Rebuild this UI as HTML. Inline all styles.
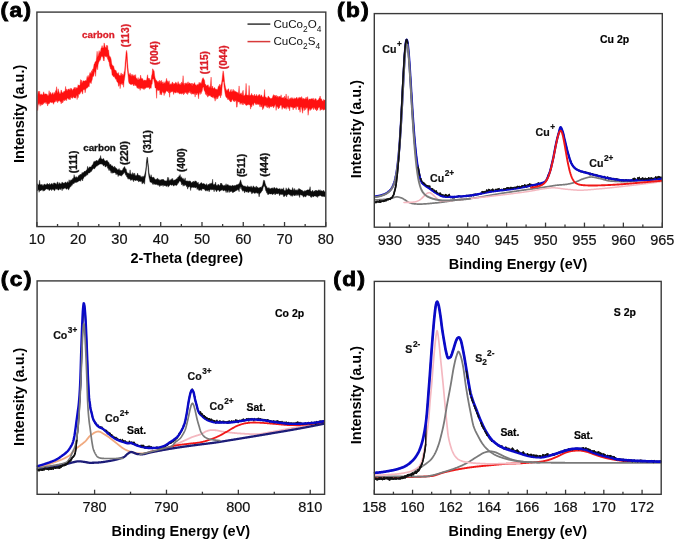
<!DOCTYPE html>
<html><head><meta charset="utf-8"><style>
html,body{margin:0;padding:0;background:#fff;}
svg{display:block;}
text{font-family:"Liberation Sans", Arial, sans-serif;}
</style></head><body>
<svg width="675" height="541" viewBox="0 0 675 541">
<rect width="675" height="541" fill="#fff"/>
<path d="M37.60,95.74 L38.10,91.15 L38.60,91.53 L39.10,94.72 L39.60,91.10 L40.10,94.75 L40.60,94.47 L41.10,94.14 L41.60,94.19 L42.10,94.63 L42.60,94.97 L43.10,93.95 L43.60,91.80 L44.10,93.21 L44.60,94.76 L45.10,93.75 L45.60,94.09 L46.10,94.02 L46.60,94.13 L47.10,94.23 L47.60,95.42 L48.10,95.77 L48.60,94.93 L49.10,90.71 L49.60,94.91 L50.10,92.66 L50.60,92.34 L51.10,94.95 L51.60,93.92 L52.10,93.54 L52.60,92.60 L53.10,94.30 L53.60,94.42 L54.10,92.29 L54.60,93.71 L55.10,93.15 L55.60,90.70 L56.10,91.12 L56.60,86.71 L57.10,92.56 L57.60,92.78 L58.10,88.74 L58.60,91.03 L59.10,91.94 L59.60,93.68 L60.10,93.39 L60.60,93.14 L61.10,89.92 L61.60,91.03 L62.10,92.59 L62.60,92.79 L63.10,93.06 L63.60,91.54 L64.10,92.02 L64.60,91.12 L65.10,91.11 L65.60,86.42 L66.10,91.28 L66.60,88.93 L67.10,91.01 L67.60,90.12 L68.10,88.99 L68.60,89.48 L69.10,88.65 L69.60,90.01 L70.10,90.21 L70.60,88.36 L71.10,88.62 L71.60,88.61 L72.10,90.09 L72.60,90.38 L73.10,88.91 L73.60,89.30 L74.10,87.24 L74.60,87.78 L75.10,89.42 L75.60,87.45 L76.10,87.22 L76.60,88.29 L77.10,88.18 L77.60,87.42 L78.10,84.65 L78.60,85.55 L79.10,84.97 L79.60,86.12 L80.10,84.51 L80.60,79.46 L81.10,83.65 L81.60,80.00 L82.10,82.49 L82.60,82.13 L83.10,80.63 L83.60,80.90 L84.10,80.72 L84.60,81.21 L85.10,80.69 L85.60,80.38 L86.10,81.16 L86.60,79.57 L87.10,76.44 L87.60,78.70 L88.10,75.32 L88.60,77.98 L89.10,76.77 L89.60,74.03 L90.10,72.35 L90.60,73.49 L91.10,73.66 L91.60,70.64 L92.10,72.07 L92.60,69.24 L93.10,69.37 L93.60,67.22 L94.10,64.08 L94.60,63.86 L95.10,61.79 L95.60,61.65 L96.10,60.77 L96.60,57.59 L97.10,51.33 L97.60,57.40 L98.10,56.03 L98.60,54.05 L99.10,50.60 L99.60,53.54 L100.10,52.01 L100.60,51.01 L101.10,48.15 L101.60,47.69 L102.10,45.60 L102.60,47.93 L103.10,47.84 L103.60,47.81 L104.10,42.91 L104.60,44.55 L105.10,46.68 L105.60,47.21 L106.10,48.15 L106.60,45.19 L107.10,45.95 L107.60,45.55 L108.10,51.49 L108.60,49.82 L109.10,55.03 L109.60,56.58 L110.10,56.50 L110.60,57.44 L111.10,59.30 L111.60,63.02 L112.10,65.10 L112.60,65.20 L113.10,66.19 L113.60,65.89 L114.10,68.15 L114.60,69.93 L115.10,69.94 L115.60,70.39 L116.10,70.58 L116.60,72.69 L117.10,72.71 L117.60,73.41 L118.10,74.40 L118.60,72.52 L119.10,76.04 L119.60,75.17 L120.10,76.18 L120.60,74.85 L121.10,72.85 L121.60,74.45 L122.10,76.09 L122.60,74.04 L123.10,74.31 L123.60,75.99 L124.10,71.97 L124.60,70.94 L125.10,64.17 L125.60,58.85 L126.10,52.19 L126.60,50.38 L127.10,53.24 L127.60,62.97 L128.10,68.33 L128.60,73.62 L129.10,75.03 L129.60,74.56 L130.10,72.86 L130.60,76.26 L131.10,74.14 L131.60,76.17 L132.10,76.28 L132.60,74.42 L133.10,75.55 L133.60,76.21 L134.10,74.72 L134.60,75.64 L135.10,77.22 L135.60,74.57 L136.10,78.49 L136.60,77.88 L137.10,79.29 L137.60,79.80 L138.10,77.55 L138.60,80.21 L139.10,79.40 L139.60,78.73 L140.10,79.12 L140.60,75.12 L141.10,77.57 L141.60,78.74 L142.10,78.76 L142.60,78.51 L143.10,80.22 L143.60,80.99 L144.10,79.82 L144.60,80.44 L145.10,80.10 L145.60,80.39 L146.10,80.23 L146.60,80.32 L147.10,77.05 L147.60,74.76 L148.10,79.07 L148.60,78.07 L149.10,80.13 L149.60,78.27 L150.10,80.51 L150.60,80.00 L151.10,79.57 L151.60,75.63 L152.10,74.08 L152.60,68.85 L153.10,69.27 L153.60,70.73 L154.10,70.65 L154.60,75.24 L155.10,77.90 L155.60,79.32 L156.10,80.40 L156.60,80.32 L157.10,81.87 L157.60,81.45 L158.10,83.07 L158.60,81.27 L159.10,81.46 L159.60,80.15 L160.10,83.79 L160.60,80.82 L161.10,82.79 L161.60,80.29 L162.10,84.23 L162.60,82.17 L163.10,81.66 L163.60,84.35 L164.10,82.75 L164.60,83.47 L165.10,81.47 L165.60,83.99 L166.10,80.16 L166.60,78.37 L167.10,82.80 L167.60,80.69 L168.10,81.39 L168.60,82.91 L169.10,80.69 L169.60,84.25 L170.10,84.78 L170.60,83.66 L171.10,84.14 L171.60,84.14 L172.10,82.29 L172.60,82.06 L173.10,84.84 L173.60,83.43 L174.10,83.37 L174.60,84.01 L175.10,83.52 L175.60,82.16 L176.10,82.51 L176.60,82.94 L177.10,85.06 L177.60,83.51 L178.10,81.59 L178.60,83.58 L179.10,84.17 L179.60,84.43 L180.10,83.21 L180.60,84.90 L181.10,84.60 L181.60,81.95 L182.10,83.58 L182.60,82.33 L183.10,75.70 L183.60,84.87 L184.10,82.91 L184.60,85.38 L185.10,84.31 L185.60,83.06 L186.10,82.66 L186.60,83.43 L187.10,84.40 L187.60,82.85 L188.10,81.73 L188.60,84.33 L189.10,83.32 L189.60,82.85 L190.10,83.80 L190.60,84.03 L191.10,83.00 L191.60,83.63 L192.10,86.32 L192.60,83.32 L193.10,84.03 L193.60,84.16 L194.10,83.45 L194.60,82.57 L195.10,84.48 L195.60,85.08 L196.10,84.55 L196.60,86.34 L197.10,84.96 L197.60,84.67 L198.10,83.79 L198.60,85.50 L199.10,82.28 L199.60,84.25 L200.10,82.43 L200.60,83.19 L201.10,83.70 L201.60,82.11 L202.10,79.70 L202.60,78.41 L203.10,77.66 L203.60,78.83 L204.10,79.62 L204.60,80.57 L205.10,84.74 L205.60,84.06 L206.10,86.07 L206.60,85.69 L207.10,85.85 L207.60,85.01 L208.10,84.71 L208.60,86.50 L209.10,88.31 L209.60,86.50 L210.10,87.71 L210.60,83.40 L211.10,77.12 L211.60,88.38 L212.10,87.47 L212.60,85.96 L213.10,89.03 L213.60,88.36 L214.10,88.00 L214.60,87.42 L215.10,88.66 L215.60,88.92 L216.10,89.79 L216.60,89.08 L217.10,89.46 L217.60,89.51 L218.10,87.17 L218.60,85.92 L219.10,85.91 L219.60,84.20 L220.10,87.84 L220.60,85.08 L221.10,84.41 L221.60,82.86 L222.10,79.27 L222.60,74.40 L223.10,70.83 L223.60,72.76 L224.10,77.00 L224.60,82.75 L225.10,85.35 L225.60,88.00 L226.10,89.35 L226.60,90.45 L227.10,90.81 L227.60,89.71 L228.10,89.10 L228.60,88.66 L229.10,91.37 L229.60,92.23 L230.10,91.72 L230.60,90.36 L231.10,89.28 L231.60,92.24 L232.10,91.60 L232.60,91.27 L233.10,89.23 L233.60,90.76 L234.10,91.66 L234.60,90.47 L235.10,92.31 L235.60,91.27 L236.10,92.29 L236.60,91.91 L237.10,92.31 L237.60,92.59 L238.10,93.71 L238.60,92.09 L239.10,85.92 L239.60,94.79 L240.10,93.50 L240.60,94.28 L241.10,92.69 L241.60,94.25 L242.10,95.53 L242.60,91.98 L243.10,90.28 L243.60,95.39 L244.10,95.54 L244.60,95.63 L245.10,94.86 L245.60,92.84 L246.10,83.42 L246.60,94.77 L247.10,95.28 L247.60,95.13 L248.10,94.89 L248.60,95.80 L249.10,85.46 L249.60,95.18 L250.10,95.47 L250.60,95.33 L251.10,95.32 L251.60,93.33 L252.10,94.76 L252.60,95.47 L253.10,95.01 L253.60,96.15 L254.10,96.07 L254.60,94.06 L255.10,96.00 L255.60,96.02 L256.10,95.70 L256.60,94.31 L257.10,96.86 L257.60,95.83 L258.10,95.47 L258.60,95.61 L259.10,94.24 L259.60,94.63 L260.10,95.89 L260.60,96.81 L261.10,94.75 L261.60,95.32 L262.10,96.48 L262.60,96.89 L263.10,97.62 L263.60,96.82 L264.10,94.98 L264.60,89.52 L265.10,97.80 L265.60,96.86 L266.10,96.99 L266.60,98.44 L267.10,97.69 L267.60,98.49 L268.10,96.04 L268.60,96.30 L269.10,97.73 L269.60,97.42 L270.10,98.30 L270.60,99.02 L271.10,97.96 L271.60,99.07 L272.10,98.19 L272.60,96.89 L273.10,95.50 L273.60,94.60 L274.10,97.11 L274.60,95.09 L275.10,95.88 L275.60,96.28 L276.10,95.00 L276.60,96.81 L277.10,97.49 L277.60,95.99 L278.10,96.23 L278.60,97.96 L279.10,96.21 L279.60,96.73 L280.10,96.22 L280.60,97.57 L281.10,94.80 L281.60,98.20 L282.10,97.52 L282.60,97.93 L283.10,98.11 L283.60,97.36 L284.10,99.16 L284.60,95.96 L285.10,98.04 L285.60,97.98 L286.10,93.95 L286.60,98.52 L287.10,98.94 L287.60,99.62 L288.10,95.76 L288.60,100.01 L289.10,99.71 L289.60,98.59 L290.10,99.62 L290.60,97.76 L291.10,99.61 L291.60,97.78 L292.10,97.47 L292.60,98.60 L293.10,99.20 L293.60,99.12 L294.10,97.65 L294.60,99.01 L295.10,98.79 L295.60,98.41 L296.10,97.81 L296.60,97.48 L297.10,97.44 L297.60,99.26 L298.10,98.96 L298.60,97.60 L299.10,98.21 L299.60,97.22 L300.10,97.61 L300.60,97.61 L301.10,98.69 L301.60,96.59 L302.10,97.74 L302.60,99.69 L303.10,98.05 L303.60,98.90 L304.10,99.24 L304.60,99.02 L305.10,98.38 L305.60,99.34 L306.10,96.99 L306.60,99.27 L307.10,98.78 L307.60,96.62 L308.10,99.42 L308.60,100.52 L309.10,98.80 L309.60,99.30 L310.10,99.19 L310.60,99.16 L311.10,98.59 L311.60,99.01 L312.10,98.77 L312.60,99.60 L313.10,97.93 L313.60,100.05 L314.10,99.48 L314.60,100.47 L315.10,98.39 L315.60,99.05 L316.10,98.84 L316.60,101.30 L317.10,99.91 L317.60,101.02 L318.10,99.62 L318.60,99.98 L319.10,98.08 L319.60,98.17 L320.10,95.99 L320.60,98.86 L321.10,98.68 L321.60,98.97 L322.10,101.02 L322.60,100.84 L323.10,101.47 L323.60,99.55 L324.10,100.07 L324.60,100.14 L325.10,99.92 L325.10,109.83 L324.60,109.59 L324.10,109.46 L323.60,109.86 L323.10,110.27 L322.60,108.82 L322.10,109.11 L321.60,109.97 L321.10,108.14 L320.60,109.88 L320.10,110.60 L319.60,106.87 L319.10,107.48 L318.60,107.54 L318.10,108.24 L317.60,110.19 L317.10,109.23 L316.60,111.05 L316.10,108.09 L315.60,109.86 L315.10,109.01 L314.60,107.24 L314.10,108.60 L313.60,109.76 L313.10,106.93 L312.60,108.34 L312.10,107.72 L311.60,109.49 L311.10,108.27 L310.60,109.81 L310.10,110.60 L309.60,107.94 L309.10,109.76 L308.60,111.11 L308.10,115.29 L307.60,107.84 L307.10,107.74 L306.60,107.70 L306.10,108.73 L305.60,109.84 L305.10,106.99 L304.60,109.10 L304.10,110.75 L303.60,107.43 L303.10,108.03 L302.60,113.25 L302.10,110.40 L301.60,107.85 L301.10,106.71 L300.60,107.18 L300.10,112.34 L299.60,109.20 L299.10,109.41 L298.60,110.02 L298.10,106.16 L297.60,106.59 L297.10,107.13 L296.60,105.70 L296.10,109.66 L295.60,106.50 L295.10,107.63 L294.60,107.64 L294.10,108.02 L293.60,107.57 L293.10,109.90 L292.60,106.69 L292.10,107.54 L291.60,106.85 L291.10,107.39 L290.60,106.36 L290.10,107.31 L289.60,110.80 L289.10,107.32 L288.60,106.69 L288.10,108.64 L287.60,106.73 L287.10,106.62 L286.60,106.93 L286.10,109.39 L285.60,107.39 L285.10,107.77 L284.60,108.33 L284.10,108.51 L283.60,107.06 L283.10,107.62 L282.60,107.13 L282.10,109.44 L281.60,106.32 L281.10,105.09 L280.60,105.47 L280.10,105.06 L279.60,107.92 L279.10,106.50 L278.60,109.01 L278.10,108.40 L277.60,106.12 L277.10,107.33 L276.60,105.73 L276.10,110.42 L275.60,104.64 L275.10,104.47 L274.60,106.50 L274.10,105.59 L273.60,108.05 L273.10,106.51 L272.60,106.06 L272.10,106.32 L271.60,107.13 L271.10,105.54 L270.60,107.03 L270.10,105.54 L269.60,107.54 L269.10,108.40 L268.60,106.38 L268.10,106.64 L267.60,107.86 L267.10,105.06 L266.60,107.37 L266.10,105.07 L265.60,105.22 L265.10,106.53 L264.60,105.19 L264.10,105.64 L263.60,108.52 L263.10,107.16 L262.60,109.76 L262.10,104.08 L261.60,106.95 L261.10,106.46 L260.60,103.83 L260.10,107.13 L259.60,105.38 L259.10,103.79 L258.60,104.05 L258.10,104.78 L257.60,103.47 L257.10,104.42 L256.60,103.25 L256.10,104.90 L255.60,103.85 L255.10,103.53 L254.60,102.79 L254.10,102.71 L253.60,105.60 L253.10,104.69 L252.60,103.42 L252.10,105.67 L251.60,107.17 L251.10,104.64 L250.60,109.15 L250.10,105.16 L249.60,104.81 L249.10,104.74 L248.60,104.11 L248.10,105.14 L247.60,104.87 L247.10,104.81 L246.60,105.53 L246.10,105.20 L245.60,105.05 L245.10,103.53 L244.60,103.69 L244.10,103.61 L243.60,102.45 L243.10,105.08 L242.60,102.29 L242.10,104.71 L241.60,102.77 L241.10,103.13 L240.60,102.78 L240.10,104.38 L239.60,102.16 L239.10,101.64 L238.60,101.85 L238.10,102.12 L237.60,100.67 L237.10,107.11 L236.60,107.13 L236.10,100.05 L235.60,100.76 L235.10,101.19 L234.60,101.85 L234.10,100.06 L233.60,101.38 L233.10,100.57 L232.60,99.58 L232.10,99.23 L231.60,101.32 L231.10,101.92 L230.60,101.99 L230.10,101.20 L229.60,100.63 L229.10,99.56 L228.60,98.57 L228.10,99.90 L227.60,99.22 L227.10,97.43 L226.60,97.78 L226.10,97.14 L225.60,95.92 L225.10,93.63 L224.60,90.04 L224.10,87.03 L223.60,80.65 L223.10,82.01 L222.60,81.48 L222.10,87.37 L221.60,95.57 L221.10,92.06 L220.60,97.95 L220.10,96.08 L219.60,95.39 L219.10,95.43 L218.60,95.88 L218.10,97.42 L217.60,99.06 L217.10,97.04 L216.60,97.28 L216.10,99.39 L215.60,96.91 L215.10,101.17 L214.60,97.44 L214.10,98.48 L213.60,97.60 L213.10,96.27 L212.60,97.60 L212.10,97.22 L211.60,96.83 L211.10,96.97 L210.60,95.92 L210.10,95.39 L209.60,95.20 L209.10,96.03 L208.60,96.31 L208.10,95.05 L207.60,97.18 L207.10,93.66 L206.60,95.50 L206.10,92.99 L205.60,94.52 L205.10,91.94 L204.60,90.88 L204.10,90.53 L203.60,86.88 L203.10,86.88 L202.60,88.59 L202.10,91.61 L201.60,91.61 L201.10,93.69 L200.60,91.69 L200.10,94.58 L199.60,93.11 L199.10,92.26 L198.60,98.81 L198.10,95.39 L197.60,92.87 L197.10,93.57 L196.60,95.02 L196.10,93.07 L195.60,93.41 L195.10,97.10 L194.60,92.47 L194.10,94.48 L193.60,93.66 L193.10,93.83 L192.60,93.78 L192.10,93.66 L191.60,94.37 L191.10,92.02 L190.60,93.56 L190.10,91.59 L189.60,91.31 L189.10,92.92 L188.60,91.66 L188.10,93.42 L187.60,94.58 L187.10,91.90 L186.60,93.75 L186.10,92.18 L185.60,92.15 L185.10,93.06 L184.60,93.82 L184.10,91.89 L183.60,94.90 L183.10,92.67 L182.60,93.10 L182.10,93.94 L181.60,94.13 L181.10,92.86 L180.60,93.81 L180.10,93.18 L179.60,94.20 L179.10,93.04 L178.60,92.36 L178.10,93.31 L177.60,91.98 L177.10,92.59 L176.60,92.60 L176.10,91.21 L175.60,93.07 L175.10,92.96 L174.60,91.85 L174.10,92.65 L173.60,94.53 L173.10,91.61 L172.60,91.20 L172.10,91.99 L171.60,91.85 L171.10,91.73 L170.60,92.64 L170.10,91.28 L169.60,97.29 L169.10,91.09 L168.60,93.01 L168.10,90.62 L167.60,91.70 L167.10,90.92 L166.60,90.83 L166.10,91.48 L165.60,92.21 L165.10,93.53 L164.60,92.34 L164.10,95.59 L163.60,91.75 L163.10,93.02 L162.60,91.41 L162.10,91.74 L161.60,94.93 L161.10,94.49 L160.60,92.69 L160.10,94.93 L159.60,90.51 L159.10,89.97 L158.60,89.92 L158.10,90.93 L157.60,89.98 L157.10,89.47 L156.60,98.32 L156.10,88.38 L155.60,87.98 L155.10,87.88 L154.60,83.62 L154.10,81.44 L153.60,78.70 L153.10,78.94 L152.60,78.96 L152.10,84.30 L151.60,84.21 L151.10,88.37 L150.60,87.75 L150.10,88.33 L149.60,89.25 L149.10,87.33 L148.60,87.44 L148.10,87.26 L147.60,87.85 L147.10,87.35 L146.60,87.37 L146.10,88.09 L145.60,88.56 L145.10,87.72 L144.60,88.72 L144.10,89.67 L143.60,89.18 L143.10,88.23 L142.60,87.84 L142.10,89.11 L141.60,87.89 L141.10,87.99 L140.60,88.07 L140.10,90.40 L139.60,86.98 L139.10,88.94 L138.60,87.35 L138.10,88.68 L137.60,87.44 L137.10,88.09 L136.60,86.41 L136.10,85.57 L135.60,84.66 L135.10,85.97 L134.60,84.73 L134.10,84.06 L133.60,86.01 L133.10,84.61 L132.60,84.05 L132.10,84.37 L131.60,84.57 L131.10,84.45 L130.60,84.31 L130.10,84.32 L129.60,83.80 L129.10,83.15 L128.60,81.55 L128.10,75.98 L127.60,71.49 L127.10,67.05 L126.60,57.49 L126.10,62.30 L125.60,67.02 L125.10,75.01 L124.60,78.39 L124.10,81.23 L123.60,87.30 L123.10,83.43 L122.60,83.18 L122.10,85.14 L121.60,83.20 L121.10,84.02 L120.60,84.27 L120.10,88.66 L119.60,82.56 L119.10,85.75 L118.60,86.37 L118.10,82.90 L117.60,82.26 L117.10,81.96 L116.60,80.70 L116.10,78.69 L115.60,79.32 L115.10,78.03 L114.60,77.32 L114.10,76.26 L113.60,77.07 L113.10,75.79 L112.60,75.17 L112.10,75.28 L111.60,70.09 L111.10,69.13 L110.60,69.01 L110.10,67.27 L109.60,65.67 L109.10,62.37 L108.60,61.52 L108.10,59.67 L107.60,59.17 L107.10,56.05 L106.60,57.32 L106.10,55.94 L105.60,56.73 L105.10,56.01 L104.60,55.63 L104.10,61.01 L103.60,60.63 L103.10,58.00 L102.60,56.31 L102.10,56.72 L101.60,56.27 L101.10,57.31 L100.60,59.13 L100.10,60.60 L99.60,60.13 L99.10,61.78 L98.60,62.64 L98.10,64.67 L97.60,69.72 L97.10,65.92 L96.60,67.88 L96.10,69.98 L95.60,76.38 L95.10,72.00 L94.60,71.16 L94.10,74.02 L93.60,76.38 L93.10,75.98 L92.60,77.34 L92.10,79.98 L91.60,81.23 L91.10,83.68 L90.60,82.68 L90.10,82.26 L89.60,82.90 L89.10,86.75 L88.60,85.79 L88.10,87.21 L87.60,87.30 L87.10,88.28 L86.60,88.14 L86.10,88.34 L85.60,90.32 L85.10,92.80 L84.60,88.77 L84.10,89.96 L83.60,89.62 L83.10,89.97 L82.60,94.11 L82.10,92.52 L81.60,91.43 L81.10,90.94 L80.60,92.79 L80.10,93.61 L79.60,94.43 L79.10,93.61 L78.60,94.61 L78.10,97.82 L77.60,95.24 L77.10,99.60 L76.60,94.85 L76.10,96.22 L75.60,98.10 L75.10,97.99 L74.60,97.72 L74.10,97.98 L73.60,96.68 L73.10,96.66 L72.60,98.27 L72.10,98.26 L71.60,97.98 L71.10,96.56 L70.60,98.11 L70.10,99.76 L69.60,97.99 L69.10,99.84 L68.60,98.65 L68.10,98.70 L67.60,98.24 L67.10,98.37 L66.60,100.76 L66.10,99.05 L65.60,100.30 L65.10,98.99 L64.60,101.00 L64.10,99.59 L63.60,100.25 L63.10,101.91 L62.60,102.89 L62.10,100.40 L61.60,102.80 L61.10,103.85 L60.60,101.20 L60.10,101.78 L59.60,100.39 L59.10,100.73 L58.60,101.02 L58.10,101.46 L57.60,102.80 L57.10,100.45 L56.60,100.61 L56.10,101.67 L55.60,100.29 L55.10,102.11 L54.60,102.27 L54.10,101.68 L53.60,104.33 L53.10,103.26 L52.60,102.59 L52.10,101.95 L51.60,102.67 L51.10,102.44 L50.60,102.16 L50.10,101.99 L49.60,103.23 L49.10,103.82 L48.60,104.06 L48.10,103.60 L47.60,106.05 L47.10,103.37 L46.60,102.05 L46.10,103.98 L45.60,102.19 L45.10,102.29 L44.60,103.17 L44.10,101.82 L43.60,104.10 L43.10,103.51 L42.60,104.97 L42.10,103.23 L41.60,105.31 L41.10,103.68 L40.60,103.94 L40.10,106.28 L39.60,102.46 L39.10,104.50 L38.60,103.28 L38.10,105.44 L37.60,110.58 Z" fill="#ff1010" stroke="#ff1010" stroke-width="0.4" stroke-linejoin="round"/>
<path d="M37.60,183.73 L38.10,184.97 L38.60,184.76 L39.10,184.26 L39.60,180.22 L40.10,184.89 L40.60,184.63 L41.10,184.11 L41.60,185.20 L42.10,184.38 L42.60,185.39 L43.10,185.63 L43.60,184.85 L44.10,184.18 L44.60,184.25 L45.10,184.22 L45.60,185.05 L46.10,184.76 L46.60,184.51 L47.10,183.35 L47.60,183.80 L48.10,184.83 L48.60,184.05 L49.10,185.08 L49.60,183.22 L50.10,184.37 L50.60,184.78 L51.10,183.93 L51.60,183.39 L52.10,183.51 L52.60,184.28 L53.10,184.73 L53.60,182.97 L54.10,182.78 L54.60,183.18 L55.10,182.93 L55.60,183.64 L56.10,184.14 L56.60,184.34 L57.10,182.23 L57.60,181.88 L58.10,184.36 L58.60,184.28 L59.10,182.39 L59.60,183.59 L60.10,183.20 L60.60,183.95 L61.10,183.89 L61.60,183.23 L62.10,181.93 L62.60,182.98 L63.10,182.72 L63.60,183.37 L64.10,183.26 L64.60,182.90 L65.10,182.36 L65.60,181.86 L66.10,183.30 L66.60,182.77 L67.10,182.50 L67.60,181.59 L68.10,182.76 L68.60,182.52 L69.10,179.69 L69.60,182.38 L70.10,180.15 L70.60,181.40 L71.10,179.62 L71.60,180.31 L72.10,179.74 L72.60,178.59 L73.10,178.34 L73.60,178.18 L74.10,174.65 L74.60,177.09 L75.10,176.90 L75.60,178.17 L76.10,176.51 L76.60,177.34 L77.10,177.61 L77.60,177.53 L78.10,176.57 L78.60,175.74 L79.10,175.12 L79.60,175.87 L80.10,174.09 L80.60,174.63 L81.10,174.32 L81.60,174.19 L82.10,172.52 L82.60,173.48 L83.10,172.14 L83.60,173.03 L84.10,171.86 L84.60,170.99 L85.10,171.58 L85.60,171.03 L86.10,170.58 L86.60,169.86 L87.10,169.50 L87.60,166.35 L88.10,168.61 L88.60,168.23 L89.10,167.42 L89.60,166.83 L90.10,167.08 L90.60,167.02 L91.10,166.85 L91.60,166.14 L92.10,164.93 L92.60,164.97 L93.10,163.72 L93.60,162.34 L94.10,161.36 L94.60,162.27 L95.10,160.83 L95.60,161.62 L96.10,161.14 L96.60,160.02 L97.10,161.31 L97.60,160.70 L98.10,160.71 L98.60,159.86 L99.10,158.75 L99.60,158.34 L100.10,158.77 L100.60,155.52 L101.10,158.36 L101.60,158.75 L102.10,159.53 L102.60,158.92 L103.10,158.86 L103.60,158.44 L104.10,159.79 L104.60,160.79 L105.10,160.68 L105.60,161.18 L106.10,160.46 L106.60,160.80 L107.10,160.37 L107.60,160.89 L108.10,162.43 L108.60,161.90 L109.10,163.11 L109.60,164.38 L110.10,165.07 L110.60,163.96 L111.10,165.39 L111.60,165.72 L112.10,166.08 L112.60,165.70 L113.10,167.00 L113.60,167.00 L114.10,167.81 L114.60,166.09 L115.10,168.35 L115.60,167.34 L116.10,168.76 L116.60,168.16 L117.10,169.47 L117.60,169.63 L118.10,169.93 L118.60,169.17 L119.10,168.53 L119.60,170.30 L120.10,170.19 L120.60,170.14 L121.10,170.61 L121.60,170.57 L122.10,170.33 L122.60,169.99 L123.10,168.43 L123.60,167.84 L124.10,167.22 L124.60,166.49 L125.10,167.87 L125.60,169.16 L126.10,168.69 L126.60,171.21 L127.10,172.60 L127.60,172.89 L128.10,173.39 L128.60,172.90 L129.10,173.81 L129.60,173.63 L130.10,169.87 L130.60,173.91 L131.10,173.59 L131.60,174.48 L132.10,174.67 L132.60,172.52 L133.10,174.43 L133.60,173.40 L134.10,175.56 L134.60,172.95 L135.10,174.57 L135.60,175.69 L136.10,175.71 L136.60,175.61 L137.10,174.57 L137.60,173.07 L138.10,175.16 L138.60,175.11 L139.10,175.81 L139.60,175.45 L140.10,175.32 L140.60,176.61 L141.10,176.97 L141.60,177.14 L142.10,175.90 L142.60,177.27 L143.10,177.23 L143.60,176.28 L144.10,176.28 L144.60,174.75 L145.10,172.94 L145.60,170.82 L146.10,166.00 L146.60,160.07 L147.10,156.96 L147.60,157.88 L148.10,163.37 L148.60,167.72 L149.10,173.01 L149.60,175.07 L150.10,176.66 L150.60,176.98 L151.10,174.65 L151.60,176.85 L152.10,177.16 L152.60,177.51 L153.10,177.41 L153.60,177.10 L154.10,177.68 L154.60,178.63 L155.10,179.47 L155.60,179.39 L156.10,179.41 L156.60,178.89 L157.10,179.31 L157.60,177.96 L158.10,180.32 L158.60,178.95 L159.10,180.38 L159.60,179.71 L160.10,180.00 L160.60,180.22 L161.10,179.35 L161.60,179.75 L162.10,180.19 L162.60,179.03 L163.10,179.60 L163.60,179.43 L164.10,180.29 L164.60,180.69 L165.10,180.96 L165.60,180.94 L166.10,180.44 L166.60,181.15 L167.10,180.76 L167.60,177.23 L168.10,180.93 L168.60,177.45 L169.10,180.76 L169.60,180.51 L170.10,179.48 L170.60,180.26 L171.10,180.25 L171.60,178.68 L172.10,180.12 L172.60,178.29 L173.10,180.07 L173.60,180.40 L174.10,180.33 L174.60,180.06 L175.10,179.79 L175.60,179.82 L176.10,179.22 L176.60,178.60 L177.10,179.24 L177.60,177.52 L178.10,176.94 L178.60,177.14 L179.10,175.67 L179.60,176.24 L180.10,174.45 L180.60,177.14 L181.10,177.38 L181.60,176.66 L182.10,178.92 L182.60,178.51 L183.10,177.91 L183.60,179.72 L184.10,179.16 L184.60,180.54 L185.10,177.84 L185.60,180.68 L186.10,181.22 L186.60,180.84 L187.10,181.20 L187.60,180.66 L188.10,181.38 L188.60,180.93 L189.10,181.58 L189.60,180.85 L190.10,180.88 L190.60,181.32 L191.10,182.83 L191.60,182.72 L192.10,182.15 L192.60,181.72 L193.10,182.43 L193.60,181.00 L194.10,182.11 L194.60,181.68 L195.10,180.71 L195.60,181.34 L196.10,181.02 L196.60,181.90 L197.10,182.68 L197.60,183.33 L198.10,182.12 L198.60,184.40 L199.10,183.81 L199.60,184.58 L200.10,184.07 L200.60,182.98 L201.10,182.83 L201.60,182.61 L202.10,183.69 L202.60,184.11 L203.10,183.34 L203.60,183.77 L204.10,183.77 L204.60,183.88 L205.10,184.40 L205.60,184.96 L206.10,185.18 L206.60,183.59 L207.10,184.78 L207.60,185.99 L208.10,184.29 L208.60,184.59 L209.10,184.65 L209.60,183.52 L210.10,184.32 L210.60,183.43 L211.10,182.91 L211.60,183.51 L212.10,183.86 L212.60,179.20 L213.10,184.05 L213.60,184.53 L214.10,185.19 L214.60,184.11 L215.10,184.02 L215.60,182.08 L216.10,184.72 L216.60,185.54 L217.10,185.54 L217.60,185.17 L218.10,184.15 L218.60,184.62 L219.10,185.48 L219.60,185.47 L220.10,185.23 L220.60,183.12 L221.10,184.18 L221.60,183.04 L222.10,185.13 L222.60,184.70 L223.10,185.82 L223.60,185.70 L224.10,185.25 L224.60,185.42 L225.10,185.80 L225.60,184.98 L226.10,183.67 L226.60,185.76 L227.10,184.87 L227.60,184.82 L228.10,184.49 L228.60,185.60 L229.10,185.71 L229.60,185.84 L230.10,185.34 L230.60,186.10 L231.10,185.92 L231.60,186.24 L232.10,185.31 L232.60,185.32 L233.10,185.89 L233.60,185.77 L234.10,185.40 L234.60,185.52 L235.10,185.76 L235.60,185.61 L236.10,184.83 L236.60,185.29 L237.10,184.28 L237.60,184.92 L238.10,184.55 L238.60,184.08 L239.10,183.80 L239.60,182.74 L240.10,181.30 L240.60,179.75 L241.10,181.84 L241.60,183.44 L242.10,184.70 L242.60,184.96 L243.10,185.84 L243.60,185.98 L244.10,186.61 L244.60,185.77 L245.10,186.76 L245.60,186.16 L246.10,186.62 L246.60,186.90 L247.10,187.27 L247.60,185.48 L248.10,186.64 L248.60,186.81 L249.10,186.72 L249.60,187.08 L250.10,186.60 L250.60,187.39 L251.10,185.83 L251.60,187.37 L252.10,187.27 L252.60,187.91 L253.10,185.75 L253.60,186.22 L254.10,187.24 L254.60,187.59 L255.10,186.61 L255.60,187.78 L256.10,188.08 L256.60,185.95 L257.10,187.93 L257.60,186.97 L258.10,187.58 L258.60,188.37 L259.10,187.80 L259.60,187.75 L260.10,187.20 L260.60,187.10 L261.10,187.80 L261.60,186.91 L262.10,185.67 L262.60,185.43 L263.10,182.48 L263.60,180.23 L264.10,180.52 L264.60,180.60 L265.10,183.22 L265.60,184.59 L266.10,186.45 L266.60,186.23 L267.10,188.00 L267.60,188.15 L268.10,187.55 L268.60,188.60 L269.10,187.64 L269.60,188.77 L270.10,188.63 L270.60,188.67 L271.10,188.38 L271.60,187.86 L272.10,188.56 L272.60,188.02 L273.10,187.53 L273.60,188.94 L274.10,188.11 L274.60,187.32 L275.10,188.60 L275.60,188.84 L276.10,188.20 L276.60,187.63 L277.10,188.79 L277.60,188.46 L278.10,188.92 L278.60,188.93 L279.10,188.73 L279.60,188.85 L280.10,188.48 L280.60,189.73 L281.10,189.39 L281.60,188.63 L282.10,189.32 L282.60,188.81 L283.10,189.98 L283.60,187.70 L284.10,190.44 L284.60,190.52 L285.10,190.58 L285.60,190.44 L286.10,187.79 L286.60,189.64 L287.10,189.18 L287.60,190.05 L288.10,189.01 L288.60,187.63 L289.10,189.04 L289.60,189.20 L290.10,189.98 L290.60,189.94 L291.10,189.69 L291.60,190.27 L292.10,189.71 L292.60,187.56 L293.10,188.74 L293.60,190.33 L294.10,190.54 L294.60,188.43 L295.10,189.64 L295.60,190.17 L296.10,190.20 L296.60,190.17 L297.10,189.56 L297.60,190.44 L298.10,190.19 L298.60,188.69 L299.10,188.54 L299.60,189.07 L300.10,189.47 L300.60,189.53 L301.10,189.78 L301.60,190.36 L302.10,190.01 L302.60,191.13 L303.10,190.86 L303.60,191.72 L304.10,191.49 L304.60,190.64 L305.10,190.46 L305.60,191.18 L306.10,190.41 L306.60,190.54 L307.10,189.76 L307.60,190.04 L308.10,189.83 L308.60,190.11 L309.10,189.62 L309.60,189.24 L310.10,186.67 L310.60,190.70 L311.10,191.15 L311.60,191.44 L312.10,191.21 L312.60,190.07 L313.10,191.60 L313.60,191.91 L314.10,190.66 L314.60,191.07 L315.10,191.62 L315.60,190.02 L316.10,190.85 L316.60,190.26 L317.10,190.76 L317.60,190.98 L318.10,190.49 L318.60,189.72 L319.10,190.65 L319.60,190.25 L320.10,189.67 L320.60,191.16 L321.10,190.60 L321.60,190.92 L322.10,190.87 L322.60,191.30 L323.10,191.27 L323.60,190.08 L324.10,191.71 L324.60,191.47 L325.10,191.96 L325.10,196.55 L324.60,196.23 L324.10,197.08 L323.60,196.37 L323.10,196.37 L322.60,196.56 L322.10,196.23 L321.60,196.22 L321.10,196.12 L320.60,195.60 L320.10,195.40 L319.60,195.48 L319.10,196.20 L318.60,195.89 L318.10,196.28 L317.60,197.53 L317.10,195.86 L316.60,196.71 L316.10,196.46 L315.60,196.04 L315.10,196.27 L314.60,195.97 L314.10,195.88 L313.60,196.63 L313.10,197.06 L312.60,195.92 L312.10,196.46 L311.60,197.62 L311.10,196.21 L310.60,197.26 L310.10,195.41 L309.60,196.00 L309.10,195.51 L308.60,195.81 L308.10,195.01 L307.60,195.31 L307.10,194.88 L306.60,195.20 L306.10,196.57 L305.60,196.65 L305.10,196.83 L304.60,196.37 L304.10,196.00 L303.60,197.27 L303.10,196.49 L302.60,195.45 L302.10,195.23 L301.60,195.00 L301.10,195.22 L300.60,194.41 L300.10,194.88 L299.60,197.50 L299.10,194.96 L298.60,194.56 L298.10,195.67 L297.60,195.29 L297.10,194.57 L296.60,194.38 L296.10,195.83 L295.60,194.94 L295.10,194.87 L294.60,196.03 L294.10,195.47 L293.60,195.14 L293.10,194.57 L292.60,196.42 L292.10,195.26 L291.60,195.35 L291.10,196.31 L290.60,195.41 L290.10,194.78 L289.60,194.95 L289.10,194.28 L288.60,194.08 L288.10,194.37 L287.60,194.97 L287.10,194.66 L286.60,196.97 L286.10,194.97 L285.60,194.79 L285.10,195.93 L284.60,196.05 L284.10,196.83 L283.60,196.51 L283.10,194.39 L282.60,194.23 L282.10,194.84 L281.60,194.60 L281.10,194.25 L280.60,194.51 L280.10,194.08 L279.60,195.76 L279.10,194.30 L278.60,193.31 L278.10,193.45 L277.60,193.99 L277.10,193.74 L276.60,193.39 L276.10,194.05 L275.60,193.83 L275.10,194.98 L274.60,193.78 L274.10,193.29 L273.60,193.98 L273.10,193.97 L272.60,194.74 L272.10,193.94 L271.60,193.83 L271.10,193.94 L270.60,193.88 L270.10,193.89 L269.60,193.47 L269.10,194.28 L268.60,194.45 L268.10,194.27 L267.60,194.46 L267.10,192.52 L266.60,192.78 L266.10,190.99 L265.60,190.47 L265.10,187.54 L264.60,186.62 L264.10,185.54 L263.60,186.45 L263.10,187.71 L262.60,189.98 L262.10,191.04 L261.60,191.44 L261.10,192.35 L260.60,192.94 L260.10,193.14 L259.60,194.18 L259.10,196.89 L258.60,193.63 L258.10,192.67 L257.60,193.46 L257.10,193.01 L256.60,192.28 L256.10,193.27 L255.60,192.48 L255.10,193.45 L254.60,193.07 L254.10,193.46 L253.60,192.80 L253.10,191.77 L252.60,193.27 L252.10,193.38 L251.60,193.72 L251.10,191.87 L250.60,191.77 L250.10,191.53 L249.60,191.34 L249.10,192.31 L248.60,192.15 L248.10,192.70 L247.60,191.80 L247.10,191.61 L246.60,191.97 L246.10,191.89 L245.60,191.04 L245.10,191.64 L244.60,193.06 L244.10,190.92 L243.60,191.09 L243.10,190.22 L242.60,191.35 L242.10,189.78 L241.60,189.38 L241.10,187.01 L240.60,186.69 L240.10,188.86 L239.60,187.14 L239.10,191.80 L238.60,189.93 L238.10,189.80 L237.60,189.45 L237.10,190.38 L236.60,190.01 L236.10,190.96 L235.60,190.77 L235.10,191.37 L234.60,191.96 L234.10,191.41 L233.60,192.33 L233.10,192.21 L232.60,192.83 L232.10,191.53 L231.60,191.53 L231.10,190.70 L230.60,191.90 L230.10,191.36 L229.60,192.54 L229.10,190.56 L228.60,190.32 L228.10,192.42 L227.60,192.32 L227.10,191.28 L226.60,190.22 L226.10,192.68 L225.60,190.66 L225.10,190.84 L224.60,190.30 L224.10,190.17 L223.60,190.78 L223.10,191.03 L222.60,189.66 L222.10,189.63 L221.60,190.08 L221.10,190.35 L220.60,191.03 L220.10,189.98 L219.60,191.84 L219.10,191.12 L218.60,189.88 L218.10,190.06 L217.60,190.14 L217.10,190.19 L216.60,191.88 L216.10,190.70 L215.60,190.05 L215.10,189.72 L214.60,189.48 L214.10,191.83 L213.60,189.39 L213.10,189.77 L212.60,189.38 L212.10,189.80 L211.60,188.95 L211.10,190.21 L210.60,188.98 L210.10,189.65 L209.60,190.38 L209.10,191.91 L208.60,189.99 L208.10,190.17 L207.60,190.62 L207.10,191.21 L206.60,190.18 L206.10,190.35 L205.60,191.17 L205.10,189.96 L204.60,189.66 L204.10,188.80 L203.60,189.10 L203.10,189.04 L202.60,188.67 L202.10,189.21 L201.60,190.68 L201.10,188.92 L200.60,190.33 L200.10,189.45 L199.60,190.35 L199.10,190.48 L198.60,190.19 L198.10,188.30 L197.60,188.84 L197.10,189.61 L196.60,187.13 L196.10,187.05 L195.60,187.94 L195.10,187.79 L194.60,187.25 L194.10,187.55 L193.60,187.16 L193.10,187.63 L192.60,187.09 L192.10,187.54 L191.60,187.58 L191.10,187.53 L190.60,190.56 L190.10,186.66 L189.60,186.52 L189.10,186.72 L188.60,186.90 L188.10,187.58 L187.60,189.15 L187.10,185.71 L186.60,186.80 L186.10,185.61 L185.60,184.86 L185.10,185.41 L184.60,185.72 L184.10,184.55 L183.60,185.02 L183.10,186.25 L182.60,184.36 L182.10,184.25 L181.60,184.88 L181.10,182.58 L180.60,181.69 L180.10,180.93 L179.60,181.18 L179.10,181.19 L178.60,182.91 L178.10,183.47 L177.60,183.57 L177.10,185.11 L176.60,185.54 L176.10,185.34 L175.60,185.05 L175.10,185.22 L174.60,184.68 L174.10,186.09 L173.60,185.93 L173.10,185.54 L172.60,184.42 L172.10,185.25 L171.60,185.01 L171.10,185.39 L170.60,184.56 L170.10,185.05 L169.60,185.26 L169.10,186.14 L168.60,186.12 L168.10,187.19 L167.60,185.38 L167.10,185.56 L166.60,186.35 L166.10,186.45 L165.60,185.73 L165.10,185.47 L164.60,185.97 L164.10,185.13 L163.60,184.75 L163.10,186.51 L162.60,184.92 L162.10,184.98 L161.60,185.79 L161.10,184.79 L160.60,185.51 L160.10,186.26 L159.60,186.48 L159.10,184.88 L158.60,184.85 L158.10,185.49 L157.60,184.83 L157.10,184.84 L156.60,184.21 L156.10,184.44 L155.60,184.34 L155.10,184.81 L154.60,184.31 L154.10,183.76 L153.60,184.48 L153.10,182.64 L152.60,184.38 L152.10,182.18 L151.60,182.83 L151.10,182.41 L150.60,181.99 L150.10,182.36 L149.60,179.68 L149.10,177.75 L148.60,174.60 L148.10,168.95 L147.60,163.11 L147.10,162.36 L146.60,166.02 L146.10,171.24 L145.60,176.03 L145.10,178.50 L144.60,184.21 L144.10,182.35 L143.60,183.30 L143.10,181.92 L142.60,183.16 L142.10,184.11 L141.60,181.35 L141.10,181.39 L140.60,181.56 L140.10,181.42 L139.60,181.03 L139.10,181.65 L138.60,181.89 L138.10,180.17 L137.60,180.39 L137.10,180.71 L136.60,180.25 L136.10,180.11 L135.60,180.96 L135.10,180.28 L134.60,180.04 L134.10,180.10 L133.60,181.77 L133.10,180.07 L132.60,179.01 L132.10,180.42 L131.60,180.02 L131.10,179.49 L130.60,180.53 L130.10,179.00 L129.60,178.75 L129.10,179.29 L128.60,178.02 L128.10,179.21 L127.60,178.04 L127.10,176.95 L126.60,176.68 L126.10,174.68 L125.60,175.26 L125.10,173.28 L124.60,173.08 L124.10,171.85 L123.60,173.78 L123.10,173.88 L122.60,174.75 L122.10,175.07 L121.60,176.29 L121.10,175.27 L120.60,175.49 L120.10,175.87 L119.60,175.34 L119.10,174.99 L118.60,175.32 L118.10,176.60 L117.60,174.16 L117.10,174.17 L116.60,173.26 L116.10,174.90 L115.60,173.11 L115.10,173.01 L114.60,172.67 L114.10,171.98 L113.60,173.04 L113.10,172.91 L112.60,172.32 L112.10,173.43 L111.60,170.91 L111.10,173.16 L110.60,170.88 L110.10,170.38 L109.60,168.68 L109.10,170.76 L108.60,169.53 L108.10,167.88 L107.60,168.21 L107.10,165.78 L106.60,165.67 L106.10,166.78 L105.60,166.84 L105.10,167.03 L104.60,164.99 L104.10,165.04 L103.60,165.93 L103.10,165.59 L102.60,164.53 L102.10,164.08 L101.60,164.15 L101.10,163.77 L100.60,164.07 L100.10,164.12 L99.60,164.24 L99.10,164.15 L98.60,165.13 L98.10,164.90 L97.60,165.50 L97.10,166.36 L96.60,165.94 L96.10,166.38 L95.60,167.51 L95.10,167.16 L94.60,168.95 L94.10,168.69 L93.60,168.18 L93.10,169.08 L92.60,169.61 L92.10,169.83 L91.60,171.37 L91.10,171.48 L90.60,171.79 L90.10,172.49 L89.60,172.88 L89.10,172.78 L88.60,173.08 L88.10,173.35 L87.60,175.21 L87.10,174.59 L86.60,174.64 L86.10,175.98 L85.60,175.81 L85.10,176.84 L84.60,176.45 L84.10,177.02 L83.60,178.47 L83.10,178.03 L82.60,180.97 L82.10,179.16 L81.60,179.18 L81.10,180.04 L80.60,181.37 L80.10,180.16 L79.60,180.97 L79.10,180.67 L78.60,181.16 L78.10,181.40 L77.60,182.13 L77.10,181.77 L76.60,182.06 L76.10,182.86 L75.60,182.26 L75.10,182.52 L74.60,182.44 L74.10,183.54 L73.60,184.10 L73.10,183.02 L72.60,184.16 L72.10,185.43 L71.60,185.00 L71.10,186.25 L70.60,187.07 L70.10,186.37 L69.60,188.36 L69.10,188.13 L68.60,190.13 L68.10,188.71 L67.60,188.61 L67.10,188.62 L66.60,189.19 L66.10,189.14 L65.60,188.31 L65.10,187.85 L64.60,188.32 L64.10,188.17 L63.60,188.85 L63.10,189.15 L62.60,188.41 L62.10,190.78 L61.60,188.86 L61.10,188.33 L60.60,189.42 L60.10,189.50 L59.60,188.53 L59.10,189.68 L58.60,189.89 L58.10,190.27 L57.60,188.57 L57.10,189.48 L56.60,188.84 L56.10,189.37 L55.60,188.62 L55.10,189.71 L54.60,190.82 L54.10,190.53 L53.60,189.78 L53.10,189.23 L52.60,189.57 L52.10,189.02 L51.60,190.66 L51.10,189.37 L50.60,189.20 L50.10,189.70 L49.60,190.21 L49.10,190.68 L48.60,189.36 L48.10,189.31 L47.60,189.23 L47.10,189.24 L46.60,188.80 L46.10,189.16 L45.60,189.21 L45.10,190.16 L44.60,190.50 L44.10,190.77 L43.60,190.13 L43.10,191.30 L42.60,190.17 L42.10,189.61 L41.60,190.15 L41.10,190.21 L40.60,190.42 L40.10,191.01 L39.60,190.16 L39.10,192.33 L38.60,189.45 L38.10,189.93 L37.60,191.04 Z" fill="#0a0a0a" stroke="#0a0a0a" stroke-width="0.4" stroke-linejoin="round"/>
<path d="M375.20,199.89 L375.70,199.89 L376.20,199.87 L376.70,199.86 L377.20,199.84 L377.70,199.82 L378.20,199.80 L378.70,199.77 L379.20,199.75 L379.70,199.72 L380.20,199.68 L380.70,199.65 L381.20,199.61 L381.70,199.58 L382.20,199.54 L382.70,199.50 L383.20,199.46 L383.70,199.41 L384.20,199.37 L384.70,199.33 L385.20,199.28 L385.70,199.23 L386.20,199.16 L386.70,199.08 L387.20,199.00 L387.70,198.91 L388.20,198.81 L388.70,198.71 L389.20,198.60 L389.70,198.49 L390.20,198.38 L390.70,198.27 L391.20,198.17 L391.70,198.06 L392.20,197.96 L392.70,197.84 L393.20,197.70 L393.70,197.56 L394.20,197.41 L394.70,197.27 L395.20,197.14 L395.70,197.03 L396.20,196.95 L396.70,196.91 L397.20,196.90 L397.70,196.94 L398.20,197.02 L398.70,197.12 L399.20,197.25 L399.70,197.39 L400.20,197.55 L400.70,197.70 L401.20,197.87 L401.70,198.06 L402.20,198.30 L402.70,198.56 L403.20,198.84 L403.70,199.13 L404.20,199.43 L404.70,199.73 L405.20,200.02 L405.70,200.34 L406.20,200.68 L406.70,201.03 L407.20,201.38 L407.70,201.71 L408.20,202.01 L408.70,202.27 L409.20,202.48 L409.70,202.67 L410.20,202.85 L410.70,203.03 L411.20,203.19 L411.70,203.34 L412.20,203.48 L412.70,203.59 L413.20,203.69 L413.70,203.77 L414.20,203.82 L414.70,203.87 L415.20,203.91 L415.70,203.95 L416.20,203.99 L416.70,204.02 L417.20,204.05 L417.70,204.07 L418.20,204.09 L418.70,204.10 L419.20,204.10 L419.70,204.10 L420.20,204.09 L420.70,204.08 L421.20,204.07 L421.70,204.05 L422.20,204.04 L422.70,204.01 L423.20,203.99 L423.70,203.97 L424.20,203.94 L424.70,203.91 L425.20,203.87 L425.70,203.84 L426.20,203.80 L426.70,203.77 L427.20,203.73 L427.70,203.69 L428.20,203.64 L428.70,203.60 L429.20,203.56 L429.70,203.51 L430.20,203.46 L430.70,203.42 L431.20,203.37 L431.70,203.32 L432.20,203.27 L432.70,203.22 L433.20,203.17 L433.70,203.12 L434.20,203.07 L434.70,203.02 L435.20,202.97 L435.70,202.92 L436.20,202.88 L436.70,202.83 L437.20,202.78 L437.70,202.73 L438.20,202.68 L438.70,202.63 L439.20,202.57 L439.70,202.51 L440.20,202.45 L440.70,202.39 L441.20,202.33 L441.70,202.26 L442.20,202.19 L442.70,202.13 L443.20,202.06 L443.70,201.99 L444.20,201.91 L444.70,201.84 L445.20,201.77 L445.70,201.69 L446.20,201.61 L446.70,201.54 L447.20,201.46 L447.70,201.38 L448.20,201.30 L448.70,201.23 L449.20,201.15 L449.70,201.07 L450.20,200.99 L450.70,200.91 L451.20,200.83 L451.70,200.76 L452.20,200.68 L452.70,200.60 L453.20,200.53 L453.70,200.45 L454.20,200.37 L454.70,200.30 L455.20,200.23 L455.70,200.16 L456.20,200.09 L456.70,200.02 L457.20,199.95 L457.70,199.88 L458.20,199.82 L458.70,199.75 L459.20,199.69 L459.70,199.63 L460.20,199.58 L460.70,199.52 L461.20,199.47 L461.70,199.42 L462.20,199.37 L462.70,199.32 L463.20,199.27 L463.70,199.23 L464.20,199.18 L464.70,199.14 L465.20,199.09 L465.70,199.04 L466.20,199.00 L466.70,198.95 L467.20,198.90 L467.70,198.85 L468.20,198.80 L468.70,198.75 L469.20,198.69 L469.70,198.64 L470.20,198.58 L470.70,198.51 L471.20,198.45 L471.70,198.39 L472.20,198.32 L472.70,198.25 L473.20,198.18 L473.70,198.11 L474.20,198.04 L474.70,197.97 L475.20,197.89 L475.70,197.82 L476.20,197.74 L476.70,197.66 L477.20,197.58 L477.70,197.50 L478.20,197.42 L478.70,197.34 L479.20,197.25 L479.70,197.17 L480.20,197.09 L480.70,197.00 L481.20,196.91 L481.70,196.83 L482.20,196.74 L482.70,196.65 L483.20,196.56 L483.70,196.47 L484.20,196.38 L484.70,196.29 L485.20,196.20 L485.70,196.11 L486.20,196.02 L486.70,195.93 L487.20,195.84 L487.70,195.75 L488.20,195.66 L488.70,195.57 L489.20,195.47 L489.70,195.38 L490.20,195.29 L490.70,195.20 L491.20,195.11 L491.70,195.02 L492.20,194.93 L492.70,194.84 L493.20,194.75 L493.70,194.66 L494.20,194.57 L494.70,194.49 L495.20,194.40 L495.70,194.31 L496.20,194.23 L496.70,194.14 L497.20,194.06 L497.70,193.97 L498.20,193.89 L498.70,193.81 L499.20,193.73 L499.70,193.65 L500.20,193.57 L500.70,193.49 L501.20,193.41 L501.70,193.33 L502.20,193.26 L502.70,193.18 L503.20,193.10 L503.70,193.02 L504.20,192.95 L504.70,192.87 L505.20,192.79 L505.70,192.72 L506.20,192.64 L506.70,192.57 L507.20,192.49 L507.70,192.41 L508.20,192.34 L508.70,192.26 L509.20,192.19 L509.70,192.11 L510.20,192.04 L510.70,191.96 L511.20,191.89 L511.70,191.82 L512.20,191.74 L512.70,191.67 L513.20,191.59 L513.70,191.52 L514.20,191.45 L514.70,191.37 L515.20,191.30 L515.70,191.23 L516.20,191.15 L516.70,191.08 L517.20,191.01 L517.70,190.93 L518.20,190.86 L518.70,190.79 L519.20,190.72 L519.70,190.64 L520.20,190.57 L520.70,190.50 L521.20,190.43 L521.70,190.36 L522.20,190.28 L522.70,190.21 L523.20,190.14 L523.70,190.07 L524.20,190.00 L524.70,189.93 L525.20,189.86 L525.70,189.79 L526.20,189.72 L526.70,189.66 L527.20,189.59 L527.70,189.52 L528.20,189.45 L528.70,189.38 L529.20,189.31 L529.70,189.24 L530.20,189.17 L530.70,189.11 L531.20,189.04 L531.70,188.97 L532.20,188.90 L532.70,188.83 L533.20,188.76 L533.70,188.69 L534.20,188.62 L534.70,188.55 L535.20,188.48 L535.70,188.41 L536.20,188.34 L536.70,188.27 L537.20,188.20 L537.70,188.13 L538.20,188.06 L538.70,187.99 L539.20,187.92 L539.70,187.84 L540.20,187.77 L540.70,187.70 L541.20,187.63 L541.70,187.55 L542.20,187.48 L542.70,187.41 L543.20,187.33 L543.70,187.26 L544.20,187.19 L544.70,187.11 L545.20,187.04 L545.70,186.96 L546.20,186.89 L546.70,186.81 L547.20,186.74 L547.70,186.66 L548.20,186.58 L548.70,186.50 L549.20,186.43 L549.70,186.35 L550.20,186.27 L550.70,186.18 L551.20,186.10 L551.70,186.01 L552.20,185.92 L552.70,185.83 L553.20,185.74 L553.70,185.65 L554.20,185.56 L554.70,185.48 L555.20,185.41 L555.70,185.34 L556.20,185.28 L556.70,185.22 L557.20,185.17 L557.70,185.12 L558.20,185.08 L558.70,185.04 L559.20,185.00 L559.70,184.96 L560.20,184.92 L560.70,184.89 L561.20,184.85 L561.70,184.81 L562.20,184.77 L562.70,184.74 L563.20,184.69 L563.70,184.65 L564.20,184.60 L564.70,184.55 L565.20,184.50 L565.70,184.44 L566.20,184.37 L566.70,184.30 L567.20,184.22 L567.70,184.14 L568.20,184.04 L568.70,183.94 L569.20,183.84 L569.70,183.73 L570.20,183.61 L570.70,183.49 L571.20,183.37 L571.70,183.24 L572.20,183.10 L572.70,182.97 L573.20,182.83 L573.70,182.69 L574.20,182.54 L574.70,182.38 L575.20,182.20 L575.70,182.01 L576.20,181.80 L576.70,181.59 L577.20,181.36 L577.70,181.14 L578.20,180.90 L578.70,180.67 L579.20,180.43 L579.70,180.20 L580.20,179.98 L580.70,179.76 L581.20,179.55 L581.70,179.35 L582.20,179.16 L582.70,178.99 L583.20,178.84 L583.70,178.68 L584.20,178.52 L584.70,178.36 L585.20,178.20 L585.70,178.04 L586.20,177.89 L586.70,177.74 L587.20,177.59 L587.70,177.46 L588.20,177.34 L588.70,177.24 L589.20,177.15 L589.70,177.08 L590.20,177.03 L590.70,177.00 L591.20,177.00 L591.70,177.02 L592.20,177.05 L592.70,177.10 L593.20,177.16 L593.70,177.23 L594.20,177.31 L594.70,177.41 L595.20,177.51 L595.70,177.61 L596.20,177.73 L596.70,177.84 L597.20,177.96 L597.70,178.08 L598.20,178.20 L598.70,178.32 L599.20,178.43 L599.70,178.54 L600.20,178.64 L600.70,178.75 L601.20,178.88 L601.70,179.01 L602.20,179.14 L602.70,179.29 L603.20,179.43 L603.70,179.58 L604.20,179.73 L604.70,179.88 L605.20,180.02 L605.70,180.16 L606.20,180.30 L606.70,180.43 L607.20,180.55 L607.70,180.66 L608.20,180.76 L608.70,180.85 L609.20,180.92 L609.70,180.98 L610.20,181.01 L610.70,181.05 L611.20,181.08 L611.70,181.12 L612.20,181.15 L612.70,181.18 L613.20,181.21 L613.70,181.24 L614.20,181.27 L614.70,181.30 L615.20,181.33 L615.70,181.35 L616.20,181.38 L616.70,181.40 L617.20,181.42 L617.70,181.44 L618.20,181.46 L618.70,181.48 L619.20,181.50 L619.70,181.52 L620.20,181.53 L620.70,181.54 L621.20,181.56 L621.70,181.57 L622.20,181.58 L622.70,181.58 L623.20,181.59 L623.70,181.59 L624.20,181.60 L624.70,181.60 L625.20,181.60 L625.70,181.60 L626.20,181.59 L626.70,181.58 L627.20,181.56 L627.70,181.54 L628.20,181.52 L628.70,181.49 L629.20,181.46 L629.70,181.43 L630.20,181.40 L630.70,181.36 L631.20,181.32 L631.70,181.28 L632.20,181.24 L632.70,181.20 L633.20,181.16 L633.70,181.11 L634.20,181.07 L634.70,181.03 L635.20,180.98 L635.70,180.94 L636.20,180.89 L636.70,180.85 L637.20,180.81 L637.70,180.77 L638.20,180.73 L638.70,180.69 L639.20,180.65 L639.70,180.62 L640.20,180.59 L640.70,180.56 L641.20,180.52 L641.70,180.49 L642.20,180.46 L642.70,180.43 L643.20,180.40 L643.70,180.37 L644.20,180.34 L644.70,180.31 L645.20,180.28 L645.70,180.25 L646.20,180.22 L646.70,180.19 L647.20,180.16 L647.70,180.12 L648.20,180.09 L648.70,180.06 L649.20,180.03 L649.70,180.00 L650.20,179.97 L650.70,179.94 L651.20,179.92 L651.70,179.89 L652.20,179.86 L652.70,179.83 L653.20,179.80 L653.70,179.77 L654.20,179.74 L654.70,179.71 L655.20,179.68 L655.70,179.65 L656.20,179.62 L656.70,179.60 L657.20,179.57 L657.70,179.54 L658.20,179.51 L658.70,179.48 L659.20,179.45 L659.70,179.43 L660.20,179.40 L660.70,179.37 L661.20,179.34" fill="none" stroke="#7a7a7a" stroke-width="1.70" stroke-linejoin="round" stroke-linecap="round"/>
<path d="M404.00,202.48 L404.50,202.47 L405.00,202.46 L405.50,202.46 L406.00,202.45 L406.50,202.44 L407.00,202.42 L407.50,202.41 L408.00,202.40 L408.50,202.39 L409.00,202.37 L409.50,202.35 L410.00,202.33 L410.50,202.31 L411.00,202.28 L411.50,202.25 L412.00,202.22 L412.50,202.18 L413.00,202.13 L413.50,202.07 L414.00,202.01 L414.50,201.93 L415.00,201.84 L415.50,201.73 L416.00,201.61 L416.50,201.47 L417.00,201.30 L417.50,201.11 L418.00,200.90 L418.50,200.65 L419.00,200.38 L419.50,200.07 L420.00,199.74 L420.50,199.37 L421.00,198.97 L421.50,198.54 L422.00,198.08 L422.50,197.60 L423.00,197.11 L423.50,196.60 L424.00,196.09 L424.50,195.58 L425.00,195.08 L425.50,194.60 L426.00,194.16 L426.50,193.75 L427.00,193.40 L427.50,193.11 L428.00,192.90 L428.50,192.76 L429.00,192.70 L429.50,192.73 L430.00,192.84 L430.50,193.03 L431.00,193.29 L431.50,193.62 L432.00,193.99 L432.50,194.41 L433.00,194.86 L433.50,195.33 L434.00,195.81 L434.50,196.29 L435.00,196.77 L435.50,197.24 L436.00,197.69 L436.50,198.12 L437.00,198.52 L437.50,198.89 L438.00,199.23 L438.50,199.53 L439.00,199.81 L439.50,200.05 L440.00,200.26 L440.50,200.45 L441.00,200.60 L441.50,200.72 L442.00,200.83 L442.50,200.90 L443.00,200.96 L443.50,201.00 L444.00,201.03 L444.50,201.04 L445.00,201.04 L445.50,201.03 L446.00,201.01 L446.50,200.99 L447.00,200.96 L447.50,200.92 L448.00,200.88 L448.50,200.84 L449.00,200.80 L449.50,200.75 L450.00,200.70 L450.50,200.65 L451.00,200.60 L451.50,200.55 L452.00,200.50 L452.50,200.44 L453.00,200.39 L453.50,200.34 L454.00,200.29 L454.50,200.24 L455.00,200.19 L455.50,200.14 L456.00,200.09 L456.50,200.04 L457.00,199.99 L457.50,199.94 L458.00,199.89 L458.50,199.83 L459.00,199.78 L459.50,199.73 L460.00,199.68 L460.50,199.62 L461.00,199.57 L461.50,199.52 L462.00,199.46 L462.50,199.41 L463.00,199.35 L463.50,199.30 L464.00,199.24 L464.50,199.19 L465.00,199.13 L465.50,199.07 L466.00,199.02 L466.50,198.96 L467.00,198.90 L467.50,198.84 L468.00,198.79 L468.50,198.73 L469.00,198.67 L469.50,198.61" fill="none" stroke="#f4b8c0" stroke-width="1.60" stroke-linejoin="round" stroke-linecap="round"/>
<path d="M440.00,201.50 L440.50,201.46 L441.00,201.41 L441.50,201.37 L442.00,201.32 L442.50,201.28 L443.00,201.23 L443.50,201.19 L444.00,201.14 L444.50,201.10 L445.00,201.05 L445.50,201.01 L446.00,200.96 L446.50,200.91 L447.00,200.87 L447.50,200.82 L448.00,200.77 L448.50,200.73 L449.00,200.68 L449.50,200.63 L450.00,200.59 L450.50,200.54 L451.00,200.49 L451.50,200.45 L452.00,200.40 L452.50,200.35 L453.00,200.30 L453.50,200.25 L454.00,200.21 L454.50,200.16 L455.00,200.11 L455.50,200.06 L456.00,200.01 L456.50,199.96 L457.00,199.92 L457.50,199.87 L458.00,199.82 L458.50,199.77 L459.00,199.72 L459.50,199.67 L460.00,199.62 L460.50,199.57 L461.00,199.52 L461.50,199.47 L462.00,199.42 L462.50,199.37 L463.00,199.32 L463.50,199.27 L464.00,199.22 L464.50,199.17 L465.00,199.12 L465.50,199.06 L466.00,199.01 L466.50,198.96 L467.00,198.91 L467.50,198.86 L468.00,198.81 L468.50,198.76 L469.00,198.70 L469.50,198.65 L470.00,198.60 L470.50,198.55 L471.00,198.50 L471.50,198.44 L472.00,198.39 L472.50,198.34 L473.00,198.28 L473.50,198.23 L474.00,198.18 L474.50,198.12 L475.00,198.07 L475.50,198.02 L476.00,197.96 L476.50,197.91 L477.00,197.86 L477.50,197.80 L478.00,197.75 L478.50,197.69 L479.00,197.64 L479.50,197.58 L480.00,197.53 L480.50,197.47 L481.00,197.42 L481.50,197.36 L482.00,197.31 L482.50,197.25 L483.00,197.19 L483.50,197.14 L484.00,197.08 L484.50,197.02 L485.00,196.97 L485.50,196.91 L486.00,196.85 L486.50,196.80 L487.00,196.74 L487.50,196.68 L488.00,196.63 L488.50,196.57 L489.00,196.51 L489.50,196.45 L490.00,196.39 L490.50,196.34 L491.00,196.28 L491.50,196.22 L492.00,196.16 L492.50,196.10 L493.00,196.04 L493.50,195.98 L494.00,195.92 L494.50,195.86 L495.00,195.80 L495.50,195.75 L496.00,195.69 L496.50,195.63 L497.00,195.56 L497.50,195.50 L498.00,195.44 L498.50,195.38 L499.00,195.32 L499.50,195.26 L500.00,195.20 L500.50,195.14 L501.00,195.08 L501.50,195.02 L502.00,194.95 L502.50,194.89 L503.00,194.83 L503.50,194.77 L504.00,194.71 L504.50,194.65 L505.00,194.58 L505.50,194.52 L506.00,194.46 L506.50,194.40 L507.00,194.34 L507.50,194.27 L508.00,194.21 L508.50,194.15 L509.00,194.08 L509.50,194.02 L510.00,193.96 L510.50,193.89 L511.00,193.83 L511.50,193.77 L512.00,193.70 L512.50,193.64 L513.00,193.57 L513.50,193.51 L514.00,193.44 L514.50,193.38 L515.00,193.31 L515.50,193.25 L516.00,193.18 L516.50,193.12 L517.00,193.05 L517.50,192.98 L518.00,192.92 L518.50,192.85 L519.00,192.78 L519.50,192.71 L520.00,192.64 L520.50,192.58 L521.00,192.51 L521.50,192.44 L522.00,192.37 L522.50,192.30 L523.00,192.23 L523.50,192.16 L524.00,192.09 L524.50,192.01 L525.00,191.94 L525.50,191.87 L526.00,191.80 L526.50,191.72 L527.00,191.65 L527.50,191.58 L528.00,191.50 L528.50,191.43 L529.00,191.35 L529.50,191.28 L530.00,191.20 L530.50,191.12 L531.00,191.04 L531.50,190.96 L532.00,190.87 L532.50,190.78 L533.00,190.70 L533.50,190.60 L534.00,190.51 L534.50,190.42 L535.00,190.32 L535.50,190.23 L536.00,190.13 L536.50,190.04 L537.00,189.94 L537.50,189.84 L538.00,189.75 L538.50,189.66 L539.00,189.56 L539.50,189.47 L540.00,189.38 L540.50,189.29 L541.00,189.20 L541.50,189.12 L542.00,189.03 L542.50,188.95 L543.00,188.88 L543.50,188.80 L544.00,188.73 L544.50,188.66 L545.00,188.60 L545.50,188.54 L546.00,188.47 L546.50,188.40 L547.00,188.34 L547.50,188.27 L548.00,188.20 L548.50,188.14 L549.00,188.08 L549.50,188.02 L550.00,187.97 L550.50,187.92 L551.00,187.88 L551.50,187.85 L552.00,187.82 L552.50,187.81 L553.00,187.80 L553.50,187.80 L554.00,187.82 L554.50,187.84 L555.00,187.87 L555.50,187.90 L556.00,187.94 L556.50,187.99 L557.00,188.04 L557.50,188.10 L558.00,188.16 L558.50,188.22 L559.00,188.29 L559.50,188.36 L560.00,188.43 L560.50,188.50 L561.00,188.57 L561.50,188.65 L562.00,188.72 L562.50,188.79 L563.00,188.86 L563.50,188.92 L564.00,188.99 L564.50,189.05 L565.00,189.10 L565.50,189.15 L566.00,189.20 L566.50,189.24 L567.00,189.29 L567.50,189.33 L568.00,189.38 L568.50,189.43 L569.00,189.48 L569.50,189.53 L570.00,189.57 L570.50,189.62 L571.00,189.67 L571.50,189.72 L572.00,189.76 L572.50,189.81 L573.00,189.85 L573.50,189.89 L574.00,189.93 L574.50,189.97 L575.00,190.01 L575.50,190.04 L576.00,190.07 L576.50,190.10 L577.00,190.13 L577.50,190.15 L578.00,190.17 L578.50,190.18 L579.00,190.19 L579.50,190.20 L580.00,190.20 L580.50,190.20 L581.00,190.19 L581.50,190.19 L582.00,190.18 L582.50,190.16 L583.00,190.15 L583.50,190.13 L584.00,190.11 L584.50,190.08 L585.00,190.06 L585.50,190.03 L586.00,190.00 L586.50,189.97 L587.00,189.94 L587.50,189.90 L588.00,189.87 L588.50,189.83 L589.00,189.79 L589.50,189.75 L590.00,189.71 L590.50,189.67 L591.00,189.62 L591.50,189.58 L592.00,189.53 L592.50,189.49 L593.00,189.44 L593.50,189.39 L594.00,189.35 L594.50,189.30 L595.00,189.25 L595.50,189.21 L596.00,189.16 L596.50,189.11 L597.00,189.07 L597.50,189.02 L598.00,188.97 L598.50,188.93 L599.00,188.89 L599.50,188.84 L600.00,188.80 L600.50,188.76 L601.00,188.72 L601.50,188.67 L602.00,188.63 L602.50,188.58 L603.00,188.54 L603.50,188.49 L604.00,188.45 L604.50,188.40 L605.00,188.35 L605.50,188.31 L606.00,188.26 L606.50,188.21 L607.00,188.16 L607.50,188.11 L608.00,188.06 L608.50,188.01 L609.00,187.96 L609.50,187.91 L610.00,187.86 L610.50,187.80 L611.00,187.75 L611.50,187.70 L612.00,187.64 L612.50,187.59 L613.00,187.54 L613.50,187.48 L614.00,187.43 L614.50,187.37 L615.00,187.32 L615.50,187.26 L616.00,187.21 L616.50,187.15 L617.00,187.10 L617.50,187.04 L618.00,186.98 L618.50,186.93 L619.00,186.87 L619.50,186.81 L620.00,186.76 L620.50,186.70 L621.00,186.64 L621.50,186.58 L622.00,186.53 L622.50,186.47 L623.00,186.41 L623.50,186.35 L624.00,186.29 L624.50,186.24 L625.00,186.18 L625.50,186.12 L626.00,186.06 L626.50,186.00 L627.00,185.95 L627.50,185.89 L628.00,185.83 L628.50,185.77 L629.00,185.72 L629.50,185.66 L630.00,185.60 L630.50,185.54 L631.00,185.48 L631.50,185.43 L632.00,185.37 L632.50,185.31 L633.00,185.25 L633.50,185.19 L634.00,185.13 L634.50,185.08 L635.00,185.02 L635.50,184.96 L636.00,184.90 L636.50,184.84 L637.00,184.78 L637.50,184.72 L638.00,184.66 L638.50,184.60 L639.00,184.54 L639.50,184.48 L640.00,184.42 L640.50,184.36 L641.00,184.30 L641.50,184.23 L642.00,184.17 L642.50,184.11 L643.00,184.05 L643.50,183.99 L644.00,183.93 L644.50,183.86 L645.00,183.80 L645.50,183.74 L646.00,183.68 L646.50,183.62 L647.00,183.55 L647.50,183.49 L648.00,183.43 L648.50,183.36 L649.00,183.30 L649.50,183.24 L650.00,183.17 L650.50,183.11 L651.00,183.04 L651.50,182.98 L652.00,182.92 L652.50,182.85 L653.00,182.79 L653.50,182.72 L654.00,182.66 L654.50,182.59 L655.00,182.53 L655.50,182.46 L656.00,182.40 L656.50,182.33 L657.00,182.27 L657.50,182.20 L658.00,182.13 L658.50,182.07 L659.00,182.00 L659.50,181.93 L660.00,181.87 L660.50,181.80 L661.00,181.73 L661.50,181.67" fill="none" stroke="#f4b8c0" stroke-width="1.50" stroke-linejoin="round" stroke-linecap="round"/>
<path d="M375.20,202.00 L375.70,202.55 L376.20,202.44 L376.70,201.61 L377.20,201.66 L377.70,201.50 L378.20,201.93 L378.70,201.59 L379.20,201.89 L379.70,200.66 L380.20,202.13 L380.70,201.31 L381.20,201.59 L381.70,201.15 L382.20,200.97 L382.70,201.27 L383.20,201.35 L383.70,200.80 L384.20,200.73 L384.70,201.02 L385.20,200.22 L385.70,199.82 L386.20,200.57 L386.70,199.97 L387.20,199.27 L387.70,199.62 L388.20,199.61 L388.70,199.11 L389.20,198.76 L389.70,199.21 L390.20,199.32 L390.70,198.48 L391.20,197.85 L391.70,197.86 L392.20,197.41 L392.70,196.20 L393.20,195.65 L393.70,194.73 L394.20,192.74 L394.70,190.73 L395.20,189.12 L395.70,186.50 L396.20,183.79 L396.70,179.05 L397.20,175.03 L397.70,169.95 L398.20,163.83 L398.70,158.20 L399.20,151.16 L399.70,142.65 L400.20,135.01 L400.70,125.58 L401.20,115.87 L401.70,105.86 L402.20,96.09 L402.70,85.16 L403.20,76.49 L403.70,67.54 L404.20,58.40 L404.70,52.39 L405.20,46.52 L405.70,42.92 L406.20,40.01 L406.70,39.62 L407.20,40.93 L407.70,43.09 L408.20,47.91 L408.70,52.99 L409.20,59.66 L409.70,66.37 L410.20,74.79 L410.70,82.59 L411.20,90.38 L411.70,98.85 L412.20,107.07 L412.70,114.97 L413.20,120.76 L413.70,128.76 L414.20,135.00 L414.70,140.70 L415.20,145.75 L415.70,151.74 L416.20,155.10 L416.70,159.96 L417.20,163.91 L417.70,165.83 L418.20,167.25 L418.70,170.31 L419.20,172.63 L419.70,175.56 L420.20,178.42 L420.70,178.56 L421.20,180.04 L421.70,181.34 L422.20,182.99 L422.70,182.40 L423.20,182.56 L423.70,183.52 L424.20,183.30 L424.70,184.16 L425.20,184.40 L425.70,185.45 L426.20,185.49 L426.70,185.49 L427.20,185.91 L427.70,185.99 L428.20,185.91 L428.70,187.46 L429.20,186.71 L429.70,186.16 L430.20,188.94 L430.70,188.95 L431.20,189.19 L431.70,188.63 L432.20,189.40 L432.70,189.06 L433.20,190.60 L433.70,191.62 L434.20,190.27 L434.70,191.09 L435.20,191.99 L435.70,191.45 L436.20,191.02 L436.70,192.04 L437.20,192.87 L437.70,193.71 L438.20,193.32 L438.70,194.00 L439.20,193.53 L439.70,194.05 L440.20,193.21 L440.70,194.26 L441.20,195.30 L441.70,194.55 L442.20,194.89 L442.70,195.87 L443.20,195.87 L443.70,194.97 L444.20,196.33 L444.70,195.79 L445.20,195.46 L445.70,194.62 L446.20,195.30 L446.70,195.52 L447.20,195.44 L447.70,196.06 L448.20,196.29 L448.70,195.42 L449.20,194.52 L449.70,196.20 L450.20,197.07 L450.70,197.47 L451.20,197.25 L451.70,196.71 L452.20,196.68 L452.70,197.90 L453.20,197.33 L453.70,197.79 L454.20,197.89 L454.70,196.53 L455.20,197.03 L455.70,197.02 L456.20,197.01 L456.70,196.95 L457.20,196.74 L457.70,196.67 L458.20,195.85 L458.70,196.39 L459.20,196.06 L459.70,196.39 L460.20,196.27 L460.70,196.72 L461.20,196.77 L461.70,196.50 L462.20,196.46 L462.70,196.32 L463.20,196.04 L463.70,196.13 L464.20,195.94 L464.70,196.29 L465.20,196.08 L465.70,196.30 L466.20,195.39 L466.70,196.35 L467.20,195.56 L467.70,195.52 L468.20,195.71 L468.70,195.49 L469.20,195.82 L469.70,195.38 L470.20,195.09 L470.70,195.13 L471.20,196.03 L471.70,195.39 L472.20,194.76 L472.70,195.21 L473.20,194.42 L473.70,195.84 L474.20,194.25 L474.70,195.06 L475.20,194.99 L475.70,194.00 L476.20,194.69 L476.70,194.90 L477.20,194.56 L477.70,194.37 L478.20,194.58 L478.70,194.12 L479.20,194.11 L479.70,193.80 L480.20,194.05 L480.70,193.24 L481.20,193.92 L481.70,193.23 L482.20,191.62 L482.70,192.22 L483.20,192.72 L483.70,192.09 L484.20,191.60 L484.70,191.96 L485.20,191.83 L485.70,191.57 L486.20,192.03 L486.70,190.14 L487.20,191.06 L487.70,191.01 L488.20,190.47 L488.70,189.55 L489.20,189.66 L489.70,190.35 L490.20,191.56 L490.70,191.55 L491.20,189.85 L491.70,191.37 L492.20,190.05 L492.70,189.25 L493.20,190.48 L493.70,190.76 L494.20,190.17 L494.70,190.36 L495.20,190.68 L495.70,189.57 L496.20,189.39 L496.70,190.23 L497.20,189.54 L497.70,189.57 L498.20,189.01 L498.70,190.65 L499.20,188.62 L499.70,190.07 L500.20,190.28 L500.70,189.70 L501.20,190.02 L501.70,189.34 L502.20,189.76 L502.70,190.54 L503.20,189.86 L503.70,188.90 L504.20,189.11 L504.70,189.93 L505.20,188.97 L505.70,188.69 L506.20,189.67 L506.70,188.35 L507.20,187.83 L507.70,188.93 L508.20,187.87 L508.70,188.34 L509.20,189.03 L509.70,188.16 L510.20,188.42 L510.70,187.50 L511.20,187.59 L511.70,188.04 L512.20,188.56 L512.70,187.99 L513.20,187.76 L513.70,188.16 L514.20,187.40 L514.70,187.96 L515.20,187.56 L515.70,187.46 L516.20,188.04 L516.70,187.53 L517.20,186.64 L517.70,186.48 L518.20,188.13 L518.70,187.33 L519.20,186.43 L519.70,186.95 L520.20,186.90 L520.70,187.25 L521.20,186.76 L521.70,186.43 L522.20,185.80 L522.70,187.08 L523.20,186.42 L523.70,185.74 L524.20,186.25 L524.70,184.94 L525.20,185.97 L525.70,185.52 L526.20,186.09 L526.70,187.24 L527.20,185.02 L527.70,185.66 L528.20,184.93 L528.70,184.75 L529.20,184.63 L529.70,184.11 L530.20,185.32 L530.70,184.44 L531.20,185.23 L531.70,184.62 L532.20,185.45 L532.70,186.59 L533.20,184.83 L533.70,184.67 L534.20,184.97 L534.70,184.86 L535.20,185.15 L535.70,184.72 L536.20,184.21 L536.70,184.54 L537.20,185.52 L537.70,184.78 L538.20,182.84 L538.70,183.90 L539.20,183.44 L539.70,183.97 L540.20,183.46 L540.70,184.26 L541.20,183.67 L541.70,183.50 L542.20,183.02 L542.70,182.75 L543.20,182.73 L543.70,182.94 L544.20,182.35 L544.70,181.68 L545.20,182.09 L545.70,181.15 L546.20,180.37 L546.70,179.21 L547.20,178.32 L547.70,177.17 L548.20,174.98 L548.70,175.39 L549.20,173.84 L549.70,172.11 L550.20,171.15 L550.70,169.11 L551.20,167.12 L551.70,163.74 L552.20,162.56 L552.70,160.68 L553.20,158.93 L553.70,156.64 L554.20,153.90 L554.70,150.10 L555.20,146.99 L555.70,145.64 L556.20,142.93 L556.70,141.09 L557.20,138.56 L557.70,136.81 L558.20,134.23 L558.70,133.36 L559.20,131.14 L559.70,129.32 L560.20,127.66 L560.70,127.11 L561.20,127.93 L561.70,128.87 L562.20,130.54 L562.70,131.80 L563.20,133.12 L563.70,135.22 L564.20,138.49 L564.70,139.76 L565.20,142.32 L565.70,144.16 L566.20,145.84 L566.70,147.84 L567.20,150.22 L567.70,152.16 L568.20,154.10 L568.70,155.02 L569.20,157.04 L569.70,158.90 L570.20,161.17 L570.70,160.72 L571.20,163.11 L571.70,163.64 L572.20,164.95 L572.70,165.32 L573.20,166.39 L573.70,167.54 L574.20,167.56 L574.70,168.11 L575.20,168.55 L575.70,168.45 L576.20,169.38 L576.70,169.34 L577.20,169.33 L577.70,169.93 L578.20,170.08 L578.70,170.74 L579.20,170.58 L579.70,170.55 L580.20,171.62 L580.70,171.59 L581.20,171.88 L581.70,171.75 L582.20,171.59 L582.70,171.61 L583.20,171.84 L583.70,172.54 L584.20,172.32 L584.70,171.74 L585.20,172.53 L585.70,172.05 L586.20,172.90 L586.70,172.41 L587.20,172.51 L587.70,173.26 L588.20,173.30 L588.70,172.72 L589.20,173.93 L589.70,174.70 L590.20,173.19 L590.70,174.80 L591.20,173.80 L591.70,174.02 L592.20,174.29 L592.70,173.85 L593.20,175.21 L593.70,174.98 L594.20,174.55 L594.70,174.88 L595.20,174.45 L595.70,175.10 L596.20,175.81 L596.70,174.74 L597.20,175.43 L597.70,175.82 L598.20,176.34 L598.70,176.60 L599.20,175.91 L599.70,175.90 L600.20,176.55 L600.70,176.30 L601.20,176.44 L601.70,177.19 L602.20,177.58 L602.70,177.06 L603.20,176.98 L603.70,177.44 L604.20,176.45 L604.70,177.41 L605.20,177.06 L605.70,178.72 L606.20,178.08 L606.70,177.93 L607.20,177.88 L607.70,176.94 L608.20,178.50 L608.70,179.00 L609.20,178.03 L609.70,178.76 L610.20,178.86 L610.70,177.92 L611.20,179.12 L611.70,179.40 L612.20,178.98 L612.70,178.94 L613.20,179.41 L613.70,178.45 L614.20,179.27 L614.70,179.79 L615.20,178.84 L615.70,179.93 L616.20,179.38 L616.70,178.71 L617.20,179.67 L617.70,179.35 L618.20,180.00 L618.70,179.40 L619.20,180.46 L619.70,179.71 L620.20,180.26 L620.70,179.88 L621.20,180.04 L621.70,180.76 L622.20,180.35 L622.70,180.10 L623.20,179.73 L623.70,180.82 L624.20,180.63 L624.70,180.15 L625.20,180.41 L625.70,179.84 L626.20,179.84 L626.70,179.92 L627.20,180.45 L627.70,180.43 L628.20,179.96 L628.70,180.62 L629.20,180.64 L629.70,180.36 L630.20,180.75 L630.70,180.15 L631.20,180.23 L631.70,180.49 L632.20,179.46 L632.70,179.89 L633.20,178.86 L633.70,179.43 L634.20,178.40 L634.70,179.09 L635.20,178.99 L635.70,179.64 L636.20,179.91 L636.70,179.83 L637.20,179.97 L637.70,178.05 L638.20,179.07 L638.70,179.19 L639.20,177.48 L639.70,179.96 L640.20,179.53 L640.70,179.08 L641.20,179.31 L641.70,178.76 L642.20,178.50 L642.70,177.98 L643.20,179.04 L643.70,179.26 L644.20,179.57 L644.70,179.16 L645.20,178.37 L645.70,178.93 L646.20,179.12 L646.70,178.72 L647.20,178.97 L647.70,179.41 L648.20,178.96 L648.70,177.84 L649.20,178.71 L649.70,178.42 L650.20,179.50 L650.70,178.75 L651.20,177.87 L651.70,179.42 L652.20,178.55 L652.70,178.62 L653.20,178.51 L653.70,179.11 L654.20,178.64 L654.70,178.09 L655.20,178.92 L655.70,177.09 L656.20,177.63 L656.70,178.26 L657.20,177.25 L657.70,177.59 L658.20,177.20 L658.70,176.63 L659.20,178.11 L659.70,177.05 L660.20,177.49 L660.70,178.63 L661.20,177.29" fill="none" stroke="#111111" stroke-width="1.50" stroke-linejoin="round" stroke-linecap="round"/>
<path d="M375.20,196.49 L375.70,196.42 L376.20,196.34 L376.70,196.26 L377.20,196.18 L377.70,196.09 L378.20,195.99 L378.70,195.89 L379.20,195.78 L379.70,195.66 L380.20,195.54 L380.70,195.40 L381.20,195.26 L381.70,195.11 L382.20,194.96 L382.70,194.79 L383.20,194.60 L383.70,194.41 L384.20,194.20 L384.70,193.98 L385.20,193.75 L385.70,193.49 L386.20,193.22 L386.70,192.93 L387.20,192.61 L387.70,192.27 L388.20,191.90 L388.70,191.50 L389.20,191.06 L389.70,190.59 L390.20,190.06 L390.70,189.48 L391.20,188.83 L391.70,188.10 L392.20,187.27 L392.70,186.34 L393.20,185.27 L393.70,184.04 L394.20,182.62 L394.70,180.98 L395.20,179.08 L395.70,176.87 L396.20,174.31 L396.70,171.35 L397.20,167.94 L397.70,164.03 L398.20,159.56 L398.70,154.51 L399.20,148.83 L399.70,142.50 L400.20,135.50 L400.70,127.86 L401.20,119.60 L401.70,110.78 L402.20,101.51 L402.70,91.93 L403.20,82.23 L403.70,72.69 L404.20,63.63 L404.70,55.44 L405.20,48.56 L405.70,43.42 L406.20,40.37 L406.70,39.63 L407.20,40.77 L407.70,43.49 L408.20,47.64 L408.70,53.03 L409.20,59.44 L409.70,66.61 L410.20,74.31 L410.70,82.32 L411.20,90.46 L411.70,98.56 L412.20,106.50 L412.70,114.16 L413.20,121.47 L413.70,128.36 L414.20,134.79 L414.70,140.75 L415.20,146.20 L415.70,151.17 L416.20,155.67 L416.70,159.71 L417.20,163.32 L417.70,166.55 L418.20,169.44 L418.70,172.04 L419.20,174.46 L419.70,176.65 L420.20,178.55 L420.70,180.10 L421.20,181.30 L421.70,182.25 L422.20,182.99 L422.70,183.58 L423.20,184.05 L423.70,184.45 L424.20,184.81 L424.70,185.18 L425.20,185.58 L425.70,185.99 L426.20,186.36 L426.70,186.71 L427.20,187.03 L427.70,187.34 L428.20,187.65 L428.70,187.98 L429.20,188.33 L429.70,188.69 L430.20,189.06 L430.70,189.44 L431.20,189.81 L431.70,190.16 L432.20,190.50 L432.70,190.83 L433.20,191.17 L433.70,191.50 L434.20,191.84 L434.70,192.18 L435.20,192.50 L435.70,192.82 L436.20,193.12 L436.70,193.40 L437.20,193.68 L437.70,193.96 L438.20,194.25 L438.70,194.54 L439.20,194.82 L439.70,195.10 L440.20,195.37 L440.70,195.62 L441.20,195.85 L441.70,196.06 L442.20,196.24 L442.70,196.39 L443.20,196.51 L443.70,196.59 L444.20,196.64 L444.70,196.69 L445.20,196.73 L445.70,196.76 L446.20,196.80 L446.70,196.83 L447.20,196.86 L447.70,196.88 L448.20,196.91 L448.70,196.93 L449.20,196.94 L449.70,196.96 L450.20,196.97 L450.70,196.98 L451.20,196.99 L451.70,197.00 L452.20,197.00 L452.70,197.00 L453.20,196.99 L453.70,196.96 L454.20,196.94 L454.70,196.90 L455.20,196.86 L455.70,196.81 L456.20,196.76 L456.70,196.71 L457.20,196.65 L457.70,196.59 L458.20,196.53 L458.70,196.46 L459.20,196.40 L459.70,196.34 L460.20,196.48 L460.70,196.44 L461.20,196.40 L461.70,196.36 L462.20,196.32 L462.70,196.28 L463.20,196.24 L463.70,196.20 L464.20,196.16 L464.70,196.12 L465.20,196.08 L465.70,196.04 L466.20,195.99 L466.70,195.95 L467.20,195.90 L467.70,195.85 L468.20,195.80 L468.70,195.75 L469.20,195.69 L469.70,195.64 L470.20,195.58 L470.70,195.51 L471.20,195.44 L471.70,195.37 L472.20,195.29 L472.70,195.21 L473.20,195.12 L473.70,195.03 L474.20,194.94 L474.70,194.84 L475.20,194.75 L475.70,194.65 L476.20,194.55 L476.70,194.45 L477.20,194.35 L477.70,194.25 L478.20,194.15 L478.70,194.05 L479.20,193.95 L479.70,193.86 L480.20,193.76 L480.70,193.66 L481.20,193.56 L481.70,193.46 L482.20,193.36 L482.70,193.25 L483.20,193.15 L483.70,193.04 L484.20,192.93 L484.70,192.82 L485.20,192.72 L485.70,192.61 L486.20,192.51 L486.70,192.40 L487.20,192.30 L487.70,192.21 L488.20,192.11 L488.70,192.02 L489.20,191.93 L489.70,191.85 L490.20,191.77 L490.70,191.69 L491.20,191.62 L491.70,191.55 L492.20,191.48 L492.70,191.41 L493.20,191.34 L493.70,191.27 L494.20,191.21 L494.70,191.15 L495.20,191.08 L495.70,191.02 L496.20,190.96 L496.70,190.90 L497.20,190.84 L497.70,190.78 L498.20,190.72 L498.70,190.66 L499.20,190.60 L499.70,190.54 L500.20,190.48 L500.70,190.41 L501.20,190.35 L501.70,190.29 L502.20,190.23 L502.70,190.18 L503.20,190.12 L503.70,190.06 L504.20,190.00 L504.70,189.95 L505.20,189.89 L505.70,189.83 L506.20,189.77 L506.70,189.71 L507.20,189.65 L507.70,189.59 L508.20,189.53 L508.70,189.47 L509.20,189.40 L509.70,189.34 L510.20,189.27 L510.70,189.21 L511.20,189.14 L511.70,189.07 L512.20,189.00 L512.70,188.93 L513.20,188.86 L513.70,188.79 L514.20,188.72 L514.70,188.64 L515.20,188.57 L515.70,188.49 L516.20,188.42 L516.70,188.34 L517.20,188.26 L517.70,188.18 L518.20,188.10 L518.70,188.02 L519.20,187.94 L519.70,187.85 L520.20,187.77 L520.70,187.68 L521.20,187.59 L521.70,187.49 L522.20,187.40 L522.70,187.30 L523.20,187.20 L523.70,187.10 L524.20,187.00 L524.70,186.90 L525.20,186.79 L525.70,186.69 L526.20,186.59 L526.70,186.48 L527.20,186.38 L527.70,186.27 L528.20,186.17 L528.70,186.06 L529.20,185.96 L529.70,185.86 L530.20,185.76 L530.70,185.66 L531.20,185.56 L531.70,185.47 L532.20,185.37 L532.70,185.28 L533.20,185.18 L533.70,185.08 L534.20,184.98 L534.70,184.88 L535.20,184.77 L535.70,184.67 L536.20,184.56 L536.70,184.44 L537.20,184.33 L537.70,184.21 L538.20,184.09 L538.70,183.97 L539.20,183.83 L539.70,183.69 L540.20,183.54 L540.70,183.39 L541.20,183.25 L541.70,183.10 L542.20,182.94 L542.70,182.77 L543.20,182.57 L543.70,182.36 L544.20,182.11 L544.70,181.83 L545.20,181.51 L545.70,181.06 L546.20,180.40 L546.70,179.57 L547.20,178.58 L547.70,177.46 L548.20,176.23 L548.70,174.94 L549.20,173.58 L549.70,172.21 L550.20,170.68 L550.70,168.91 L551.20,166.95 L551.70,164.85 L552.20,162.66 L552.70,160.44 L553.20,158.21 L553.70,155.81 L554.20,153.26 L554.70,150.63 L555.20,147.98 L555.70,145.39 L556.20,142.92 L556.70,140.65 L557.20,138.61 L557.70,136.71 L558.20,134.91 L558.70,133.16 L559.20,131.34 L559.70,129.16 L560.20,127.45 L560.70,127.16 L561.20,127.78 L561.70,128.87 L562.20,130.20 L562.70,131.57 L563.20,133.36 L563.70,135.49 L564.20,137.71 L564.70,139.80 L565.20,141.87 L565.70,143.98 L566.20,146.10 L566.70,148.17 L567.20,150.17 L567.70,152.04 L568.20,153.82 L568.70,155.59 L569.20,157.31 L569.70,158.94 L570.20,160.45 L570.70,161.78 L571.20,162.91 L571.70,163.89 L572.20,164.76 L572.70,165.54 L573.20,166.23 L573.70,166.84 L574.20,167.40 L574.70,167.91 L575.20,168.38 L575.70,168.79 L576.20,169.14 L576.70,169.43 L577.20,169.70 L577.70,169.95 L578.20,170.18 L578.70,170.40 L579.20,170.60 L579.70,170.79 L580.20,170.97 L580.70,171.14 L581.20,171.31 L581.70,171.47 L582.20,171.64 L582.70,171.80 L583.20,171.96 L583.70,172.12 L584.20,172.27 L584.70,172.41 L585.20,172.55 L585.70,172.69 L586.20,172.82 L586.70,172.95 L587.20,173.08 L587.70,173.21 L588.20,173.34 L588.70,173.46 L589.20,173.59 L589.70,173.72 L590.20,173.85 L590.70,173.98 L591.20,174.11 L591.70,174.24 L592.20,174.37 L592.70,174.50 L593.20,174.63 L593.70,174.76 L594.20,174.88 L594.70,175.01 L595.20,175.14 L595.70,175.26 L596.20,175.38 L596.70,175.51 L597.20,175.63 L597.70,175.75 L598.20,175.87 L598.70,175.99 L599.20,176.11 L599.70,176.23 L600.20,176.35 L600.70,176.47 L601.20,176.58 L601.70,176.70 L602.20,176.82 L602.70,176.94 L603.20,177.06 L603.70,177.18 L604.20,177.30 L604.70,177.42 L605.20,177.53 L605.70,177.65 L606.20,177.76 L606.70,177.87 L607.20,177.97 L607.70,178.08 L608.20,178.17 L608.70,178.27 L609.20,178.36 L609.70,178.45 L610.20,178.53 L610.70,178.62 L611.20,178.70 L611.70,178.79 L612.20,178.88 L612.70,178.96 L613.20,179.05 L613.70,179.14 L614.20,179.23 L614.70,179.31 L615.20,179.40 L615.70,179.48 L616.20,179.56 L616.70,179.64 L617.20,179.72 L617.70,179.79 L618.20,179.86 L618.70,179.93 L619.20,179.99 L619.70,180.05 L620.20,180.10 L620.70,180.15 L621.20,180.19 L621.70,180.22 L622.20,180.25 L622.70,180.27 L623.20,180.29 L623.70,180.30 L624.20,180.30 L624.70,180.30 L625.20,180.30 L625.70,180.30 L626.20,180.30 L626.70,180.30 L627.20,180.30 L627.70,180.29 L628.20,180.29 L628.70,180.29 L629.20,180.29 L629.70,180.29 L630.20,180.28 L630.70,180.28 L631.20,180.28 L631.70,180.27 L632.20,180.27 L632.70,180.27 L633.20,180.26 L633.70,180.26 L634.20,180.26 L634.70,180.25 L635.20,180.25 L635.70,180.24 L636.20,180.24 L636.70,180.23 L637.20,180.23 L637.70,180.22 L638.20,180.22 L638.70,180.21 L639.20,180.21 L639.70,180.20 L640.20,180.20 L640.70,180.19 L641.20,180.18 L641.70,180.17 L642.20,180.16 L642.70,180.14 L643.20,180.13 L643.70,180.11 L644.20,180.09 L644.70,180.07 L645.20,180.05 L645.70,180.02 L646.20,179.99 L646.70,179.97 L647.20,179.94 L647.70,179.91 L648.20,179.88 L648.70,179.84 L649.20,179.81 L649.70,179.77 L650.20,179.74 L650.70,179.70 L651.20,179.66 L651.70,179.62 L652.20,179.58 L652.70,179.54 L653.20,179.49 L653.70,179.45 L654.20,179.40 L654.70,179.36 L655.20,179.31 L655.70,179.26 L656.20,179.21 L656.70,179.16 L657.20,179.11 L657.70,179.06 L658.20,179.01 L658.70,178.96 L659.20,178.90 L659.70,178.85 L660.20,178.80 L660.70,178.74 L661.20,178.69" fill="none" stroke="#0a0ac8" stroke-width="2.30" stroke-linejoin="round" stroke-linecap="round"/>
<path d="M531.00,187.64 L531.50,187.56 L532.00,187.49 L532.50,187.41 L533.00,187.33 L533.50,187.25 L534.00,187.17 L534.50,187.08 L535.00,186.99 L535.50,186.90 L536.00,186.80 L536.50,186.70 L537.00,186.59 L537.50,186.47 L538.00,186.35 L538.50,186.22 L539.00,186.08 L539.50,185.92 L540.00,185.75 L540.50,185.56 L541.00,185.36 L541.50,185.12 L542.00,184.87 L542.50,184.58 L543.00,184.25 L543.50,183.88 L544.00,183.46 L544.50,182.98 L545.00,182.45 L545.50,181.84 L546.00,181.16 L546.50,180.38 L547.00,179.52 L547.50,178.55 L548.00,177.47 L548.50,176.28 L549.00,174.96 L549.50,173.52 L550.00,171.95 L550.50,170.24 L551.00,168.40 L551.50,166.43 L552.00,164.34 L552.50,162.13 L553.00,159.81 L553.50,157.40 L554.00,154.93 L554.50,152.40 L555.00,149.84 L555.50,147.29 L556.00,144.78 L556.50,142.34 L557.00,140.02 L557.50,137.86 L558.00,135.91 L558.50,134.21 L559.00,132.81 L559.50,131.75 L560.00,131.06 L560.50,130.76 L561.00,130.90 L561.50,131.57 L562.00,132.74 L562.50,134.36 L563.00,136.36 L563.50,138.68 L564.00,141.24 L564.50,143.98 L565.00,146.84 L565.50,149.74 L566.00,152.65 L566.50,155.51 L567.00,158.29 L567.50,160.97 L568.00,163.50 L568.50,165.89 L569.00,168.11 L569.50,170.15 L570.00,172.02 L570.50,173.71 L571.00,175.23 L571.50,176.59 L572.00,177.79 L572.50,178.85 L573.00,179.77 L573.50,180.57 L574.00,181.26 L574.50,181.85 L575.00,182.36 L575.50,182.80 L576.00,183.17 L576.50,183.48 L577.00,183.75 L577.50,183.98 L578.00,184.18 L578.50,184.35 L579.00,184.49 L579.50,184.62 L580.00,184.72 L580.50,184.82 L581.00,184.90 L581.50,184.97 L582.00,185.04 L582.50,185.10 L583.00,185.15 L583.50,185.19 L584.00,185.23 L584.50,185.27 L585.00,185.30 L585.50,185.33 L586.00,185.36 L586.50,185.38 L587.00,185.40 L587.50,185.42 L588.00,185.43 L588.50,185.45 L589.00,185.46 L589.50,185.47 L590.00,185.48 L590.50,185.48 L591.00,185.49 L591.50,185.49 L592.00,185.49 L592.50,185.49 L593.00,185.49 L593.50,185.49 L594.00,185.49 L594.50,185.48 L595.00,185.47 L595.50,185.47 L596.00,185.46 L596.50,185.45 L597.00,185.44 L597.50,185.43 L598.00,185.42 L598.50,185.41 L599.00,185.39 L599.50,185.38 L600.00,185.36 L600.50,185.35 L601.00,185.33 L601.50,185.32 L602.00,185.30 L602.50,185.28 L603.00,185.26 L603.50,185.24 L604.00,185.22 L604.50,185.20 L605.00,185.18 L605.50,185.16 L606.00,185.14 L606.50,185.12 L607.00,185.10 L607.50,185.08 L608.00,185.05 L608.50,185.03 L609.00,185.01 L609.50,184.98 L610.00,184.96 L610.50,184.93 L611.00,184.91 L611.50,184.88 L612.00,184.85 L612.50,184.83 L613.00,184.80 L613.50,184.77 L614.00,184.74 L614.50,184.71 L615.00,184.68 L615.50,184.65 L616.00,184.62 L616.50,184.59 L617.00,184.56 L617.50,184.53 L618.00,184.50 L618.50,184.47 L619.00,184.43 L619.50,184.40 L620.00,184.37 L620.50,184.33 L621.00,184.30 L621.50,184.26 L622.00,184.22 L622.50,184.19 L623.00,184.15 L623.50,184.11 L624.00,184.07 L624.50,184.03 L625.00,183.99 L625.50,183.95 L626.00,183.91 L626.50,183.87 L627.00,183.82 L627.50,183.78 L628.00,183.74 L628.50,183.70 L629.00,183.65 L629.50,183.61 L630.00,183.56 L630.50,183.52 L631.00,183.47 L631.50,183.43 L632.00,183.39 L632.50,183.34 L633.00,183.30 L633.50,183.25 L634.00,183.20 L634.50,183.16 L635.00,183.11 L635.50,183.07 L636.00,183.02 L636.50,182.98 L637.00,182.93 L637.50,182.89 L638.00,182.84 L638.50,182.80 L639.00,182.76 L639.50,182.71 L640.00,182.67 L640.50,182.62 L641.00,182.58 L641.50,182.54 L642.00,182.49 L642.50,182.45 L643.00,182.41 L643.50,182.36 L644.00,182.32 L644.50,182.27 L645.00,182.23 L645.50,182.19 L646.00,182.14 L646.50,182.10 L647.00,182.05 L647.50,182.01 L648.00,181.97 L648.50,181.92 L649.00,181.88 L649.50,181.83 L650.00,181.79 L650.50,181.75 L651.00,181.70 L651.50,181.66 L652.00,181.61 L652.50,181.57 L653.00,181.52 L653.50,181.48 L654.00,181.43 L654.50,181.39 L655.00,181.35 L655.50,181.30 L656.00,181.26 L656.50,181.21 L657.00,181.17 L657.50,181.12 L658.00,181.08 L658.50,181.03 L659.00,180.99 L659.50,180.94 L660.00,180.90 L660.50,180.85 L661.00,180.81 L661.50,180.76" fill="none" stroke="#f01818" stroke-width="1.90" stroke-linejoin="round" stroke-linecap="round"/>
<path d="M375.20,197.18 L375.60,197.12 L376.00,197.04 L376.40,196.97 L376.80,196.89 L377.20,196.81 L377.60,196.73 L378.00,196.65 L378.40,196.56 L378.80,196.46 L379.20,196.36 L379.60,196.26 L380.00,196.16 L380.40,196.05 L380.80,195.93 L381.20,195.81 L381.60,195.68 L382.00,195.55 L382.40,195.41 L382.80,195.27 L383.20,195.12 L383.60,194.96 L384.00,194.79 L384.40,194.62 L384.80,194.43 L385.20,194.24 L385.60,194.03 L386.00,193.82 L386.40,193.59 L386.80,193.35 L387.20,193.09 L387.60,192.82 L388.00,192.53 L388.40,192.23 L388.80,191.90 L389.20,191.55 L389.60,191.17 L390.00,190.76 L390.40,190.32 L390.80,189.84 L391.20,189.32 L391.60,188.75 L392.00,188.12 L392.40,187.43 L392.80,186.66 L393.20,185.81 L393.60,184.85 L394.00,183.78 L394.40,182.58 L394.80,181.22 L395.20,179.70 L395.60,177.99 L396.00,176.05 L396.40,173.88 L396.80,171.45 L397.20,168.72 L397.60,165.68 L398.00,162.29 L398.40,158.55 L398.80,154.42 L399.20,149.89 L399.60,144.95 L400.00,139.60 L400.40,133.83 L400.80,127.67 L401.20,121.12 L401.60,114.22 L402.00,107.03 L402.40,99.60 L402.80,92.03 L403.20,84.42 L403.60,76.90 L404.00,69.64 L404.40,62.84 L404.80,56.69 L405.20,51.43 L405.60,47.27 L406.00,44.39 L406.40,42.93 L406.80,42.93 L407.20,44.04 L407.60,46.19 L408.00,49.30 L408.40,53.28 L408.80,58.01 L409.20,63.38 L409.60,69.25 L410.00,75.50 L410.40,82.03 L410.80,88.71 L411.20,95.46 L411.60,102.20 L412.00,108.85 L412.40,115.36 L412.80,121.68 L413.20,127.75 L413.60,133.56 L414.00,139.08 L414.40,144.28 L414.80,149.17 L415.20,153.72 L415.60,157.95 L416.00,161.85 L416.40,165.43 L416.80,168.71 L417.20,171.69 L417.60,174.40 L418.00,176.84 L418.40,179.04 L418.80,181.01 L419.20,182.77 L419.60,184.34 L420.00,185.75 L420.40,186.99 L420.80,188.11 L421.20,189.10 L421.60,189.98 L422.00,190.77 L422.40,191.48 L422.80,192.12 L423.20,192.69 L423.60,193.21 L424.00,193.67 L424.40,194.10 L424.80,194.49 L425.20,194.85 L425.60,195.18 L426.00,195.49 L426.40,195.77 L426.80,196.04 L427.20,196.29 L427.60,196.53 L428.00,196.75 L428.40,196.96 L428.80,197.15 L429.20,197.34 L429.60,197.52 L430.00,197.69 L430.40,197.85 L430.80,198.01 L431.20,198.15 L431.60,198.29 L432.00,198.43 L432.40,198.56 L432.80,198.68 L433.20,198.80 L433.60,198.91 L434.00,199.02 L434.40,199.13 L434.80,199.23 L435.20,199.32 L435.60,199.41 L436.00,199.50 L436.40,199.59 L436.80,199.67 L437.20,199.74 L437.60,199.82 L438.00,199.89 L438.40,199.96 L438.80,200.02 L439.20,200.08 L439.60,200.14 L440.00,200.20 L440.40,200.25 L440.80,200.30 L441.20,200.34 L441.60,200.38 L442.00,200.41 L442.40,200.44 L442.80,200.46 L443.20,200.48 L443.60,200.50 L444.00,200.51 L444.40,200.52 L444.80,200.52 L445.20,200.52 L445.60,200.52 L446.00,200.52 L446.40,200.51 L446.80,200.50 L447.20,200.49 L447.60,200.47 L448.00,200.46 L448.40,200.44 L448.80,200.42 L449.20,200.40 L449.60,200.38 L450.00,200.36 L450.40,200.33 L450.80,200.31 L451.20,200.28 L451.60,200.25 L452.00,200.23 L452.40,200.20 L452.80,200.18 L453.20,200.15 L453.60,200.12 L454.00,200.10 L454.40,200.07 L454.80,200.05 L455.20,200.03 L455.60,200.00 L456.00,199.98 L456.40,199.95 L456.80,199.92 L457.20,199.90 L457.60,199.87 L458.00,199.84 L458.40,199.81 L458.80,199.78 L459.20,199.75 L459.60,199.72 L460.00,199.69 L460.40,199.66 L460.80,199.62 L461.20,199.59 L461.60,199.56 L462.00,199.52 L462.40,199.49 L462.80,199.45 L463.20,199.41 L463.60,199.38 L464.00,199.34 L464.40,199.30 L464.80,199.26 L465.20,199.22 L465.60,199.18 L466.00,199.14 L466.40,199.10 L466.80,199.06 L467.20,199.02 L467.60,198.98 L468.00,198.94 L468.40,198.89 L468.80,198.85 L469.20,198.81 L469.60,198.76 L470.00,198.72" fill="none" stroke="#7a7a7a" stroke-width="2.00" stroke-linejoin="round" stroke-linecap="round"/>
<path d="M375.20,202.00 L375.70,202.55 L376.20,202.44 L376.70,201.61 L377.20,201.66 L377.70,201.50 L378.20,201.93 L378.70,201.59 L379.20,201.89 L379.70,200.66 L380.20,202.13 L380.70,201.31 L381.20,201.59 L381.70,201.15 L382.20,200.97 L382.70,201.27 L383.20,201.35 L383.70,200.80 L384.20,200.73 L384.70,201.02 L385.20,200.22 L385.70,199.82 L386.20,200.57 L386.70,199.97 L387.20,199.27 L387.70,199.62 L388.20,199.61 L388.70,199.11 L389.20,198.76 L389.70,199.21 L390.20,199.32 L390.70,198.48 L391.20,197.85 L391.70,197.86 L392.20,197.41 L392.70,196.20 L393.20,195.65 L393.70,194.73 L394.20,192.74 L394.70,190.73 L395.20,189.12 L395.70,186.50 L396.20,183.79 L396.70,179.05 L397.20,175.03 L397.70,169.95 L398.20,163.83 L398.70,158.20 L399.20,151.16 L399.70,142.65 L400.20,135.01 L400.70,125.58 L401.20,115.87 L401.70,105.86 L402.20,96.09 L402.70,85.16 L403.20,76.49 L403.70,67.54 L404.20,58.40 L404.70,52.39 L405.20,46.52 L405.70,42.92 L406.20,40.01 L406.70,39.62 L407.20,40.93 L407.70,43.09" fill="none" stroke="#111111" stroke-width="1.60" stroke-linejoin="round" stroke-linecap="round"/>
<path d="M418.20,167.25 L418.70,170.31 L419.20,172.63 L419.70,175.56" fill="none" stroke="#111111" stroke-width="1.40" stroke-linejoin="round" stroke-linecap="round"/>
<path d="M420.70,178.56 L421.20,180.04 L421.70,181.34" fill="none" stroke="#111111" stroke-width="1.40" stroke-linejoin="round" stroke-linecap="round"/>
<path d="M422.70,182.40 L423.20,182.56 L423.70,183.52 L424.20,183.30 L424.70,184.16 L425.20,184.40" fill="none" stroke="#111111" stroke-width="1.40" stroke-linejoin="round" stroke-linecap="round"/>
<path d="M426.20,185.49 L426.70,185.49 L427.20,185.91 L427.70,185.99 L428.20,185.91" fill="none" stroke="#111111" stroke-width="1.40" stroke-linejoin="round" stroke-linecap="round"/>
<path d="M429.20,186.71 L429.70,186.16" fill="none" stroke="#111111" stroke-width="1.40" stroke-linejoin="round" stroke-linecap="round"/>
<path d="M431.70,188.63 L432.20,189.40 L432.70,189.06" fill="none" stroke="#111111" stroke-width="1.40" stroke-linejoin="round" stroke-linecap="round"/>
<path d="M434.20,190.27 L434.70,191.09" fill="none" stroke="#111111" stroke-width="1.40" stroke-linejoin="round" stroke-linecap="round"/>
<path d="M435.70,191.45 L436.20,191.02 L436.70,192.04 L437.20,192.87" fill="none" stroke="#111111" stroke-width="1.40" stroke-linejoin="round" stroke-linecap="round"/>
<path d="M439.20,193.53 L439.70,194.05 L440.20,193.21 L440.70,194.26" fill="none" stroke="#111111" stroke-width="1.40" stroke-linejoin="round" stroke-linecap="round"/>
<path d="M441.70,194.55 L442.20,194.89" fill="none" stroke="#111111" stroke-width="1.40" stroke-linejoin="round" stroke-linecap="round"/>
<path d="M444.70,195.79 L445.20,195.46 L445.70,194.62 L446.20,195.30 L446.70,195.52 L447.20,195.44 L447.70,196.06" fill="none" stroke="#111111" stroke-width="1.40" stroke-linejoin="round" stroke-linecap="round"/>
<path d="M448.70,195.42 L449.20,194.52" fill="none" stroke="#111111" stroke-width="1.40" stroke-linejoin="round" stroke-linecap="round"/>
<path d="M482.20,191.62 L482.70,192.22" fill="none" stroke="#111111" stroke-width="1.40" stroke-linejoin="round" stroke-linecap="round"/>
<path d="M483.70,192.09 L484.20,191.60 L484.70,191.96 L485.20,191.83 L485.70,191.57" fill="none" stroke="#111111" stroke-width="1.40" stroke-linejoin="round" stroke-linecap="round"/>
<path d="M486.70,190.14 L487.20,191.06 L487.70,191.01 L488.20,190.47 L488.70,189.55 L489.20,189.66 L489.70,190.35" fill="none" stroke="#111111" stroke-width="1.40" stroke-linejoin="round" stroke-linecap="round"/>
<path d="M492.20,190.05 L492.70,189.25 L493.20,190.48" fill="none" stroke="#111111" stroke-width="1.40" stroke-linejoin="round" stroke-linecap="round"/>
<path d="M495.70,189.57 L496.20,189.39" fill="none" stroke="#111111" stroke-width="1.40" stroke-linejoin="round" stroke-linecap="round"/>
<path d="M497.20,189.54 L497.70,189.57 L498.20,189.01" fill="none" stroke="#111111" stroke-width="1.40" stroke-linejoin="round" stroke-linecap="round"/>
<path d="M503.70,188.90 L504.20,189.11" fill="none" stroke="#111111" stroke-width="1.40" stroke-linejoin="round" stroke-linecap="round"/>
<path d="M505.20,188.97 L505.70,188.69" fill="none" stroke="#111111" stroke-width="1.40" stroke-linejoin="round" stroke-linecap="round"/>
<path d="M506.70,188.35 L507.20,187.83" fill="none" stroke="#111111" stroke-width="1.40" stroke-linejoin="round" stroke-linecap="round"/>
<path d="M508.20,187.87 L508.70,188.34" fill="none" stroke="#111111" stroke-width="1.40" stroke-linejoin="round" stroke-linecap="round"/>
<path d="M509.70,188.16 L510.20,188.42 L510.70,187.50 L511.20,187.59 L511.70,188.04" fill="none" stroke="#111111" stroke-width="1.40" stroke-linejoin="round" stroke-linecap="round"/>
<path d="M512.70,187.99 L513.20,187.76" fill="none" stroke="#111111" stroke-width="1.40" stroke-linejoin="round" stroke-linecap="round"/>
<path d="M515.20,187.56 L515.70,187.46" fill="none" stroke="#111111" stroke-width="1.40" stroke-linejoin="round" stroke-linecap="round"/>
<path d="M516.70,187.53 L517.20,186.64 L517.70,186.48" fill="none" stroke="#111111" stroke-width="1.40" stroke-linejoin="round" stroke-linecap="round"/>
<path d="M519.20,186.43 L519.70,186.95 L520.20,186.90" fill="none" stroke="#111111" stroke-width="1.40" stroke-linejoin="round" stroke-linecap="round"/>
<path d="M521.20,186.76 L521.70,186.43 L522.20,185.80" fill="none" stroke="#111111" stroke-width="1.40" stroke-linejoin="round" stroke-linecap="round"/>
<path d="M524.70,184.94 L525.20,185.97 L525.70,185.52" fill="none" stroke="#111111" stroke-width="1.40" stroke-linejoin="round" stroke-linecap="round"/>
<path d="M528.20,184.93 L528.70,184.75 L529.20,184.63 L529.70,184.11" fill="none" stroke="#111111" stroke-width="1.40" stroke-linejoin="round" stroke-linecap="round"/>
<path d="M633.20,178.86 L633.70,179.43 L634.20,178.40 L634.70,179.09 L635.20,178.99" fill="none" stroke="#111111" stroke-width="1.40" stroke-linejoin="round" stroke-linecap="round"/>
<path d="M637.70,178.05 L638.20,179.07 L638.70,179.19 L639.20,177.48" fill="none" stroke="#111111" stroke-width="1.40" stroke-linejoin="round" stroke-linecap="round"/>
<path d="M640.70,179.08 L641.20,179.31 L641.70,178.76 L642.20,178.50 L642.70,177.98 L643.20,179.04 L643.70,179.26" fill="none" stroke="#111111" stroke-width="1.40" stroke-linejoin="round" stroke-linecap="round"/>
<path d="M644.70,179.16 L645.20,178.37 L645.70,178.93 L646.20,179.12 L646.70,178.72 L647.20,178.97" fill="none" stroke="#111111" stroke-width="1.40" stroke-linejoin="round" stroke-linecap="round"/>
<path d="M648.20,178.96 L648.70,177.84 L649.20,178.71 L649.70,178.42" fill="none" stroke="#111111" stroke-width="1.40" stroke-linejoin="round" stroke-linecap="round"/>
<path d="M650.70,178.75 L651.20,177.87" fill="none" stroke="#111111" stroke-width="1.40" stroke-linejoin="round" stroke-linecap="round"/>
<path d="M652.20,178.55 L652.70,178.62 L653.20,178.51" fill="none" stroke="#111111" stroke-width="1.40" stroke-linejoin="round" stroke-linecap="round"/>
<path d="M655.70,177.09 L656.20,177.63 L656.70,178.26 L657.20,177.25 L657.70,177.59 L658.20,177.20 L658.70,176.63" fill="none" stroke="#111111" stroke-width="1.40" stroke-linejoin="round" stroke-linecap="round"/>
<path d="M659.70,177.05 L660.20,177.49" fill="none" stroke="#111111" stroke-width="1.40" stroke-linejoin="round" stroke-linecap="round"/>
<path d="M37.80,468.00 L38.20,467.88 L38.60,467.76 L39.00,467.64 L39.40,467.52 L39.80,467.40 L40.20,467.28 L40.60,467.15 L41.00,467.03 L41.40,466.90 L41.80,466.77 L42.20,466.65 L42.60,466.52 L43.00,466.39 L43.40,466.26 L43.80,466.12 L44.20,465.99 L44.60,465.86 L45.00,465.72 L45.40,465.58 L45.80,465.45 L46.20,465.31 L46.60,465.17 L47.00,465.03 L47.40,464.89 L47.80,464.75 L48.20,464.60 L48.60,464.46 L49.00,464.32 L49.40,464.17 L49.80,464.03 L50.20,463.88 L50.60,463.73 L51.00,463.58 L51.40,463.43 L51.80,463.28 L52.20,463.13 L52.60,462.98 L53.00,462.83 L53.40,462.68 L53.80,462.52 L54.20,462.37 L54.60,462.22 L55.00,462.07 L55.40,461.92 L55.80,461.78 L56.20,461.63 L56.60,461.48 L57.00,461.33 L57.40,461.19 L57.80,461.04 L58.20,460.89 L58.60,460.74 L59.00,460.59 L59.40,460.44 L59.80,460.29 L60.20,460.13 L60.60,459.97 L61.00,459.81 L61.40,459.65 L61.80,459.48 L62.20,459.32 L62.60,459.14 L63.00,458.97 L63.40,458.79 L63.80,458.60 L64.20,458.42 L64.60,458.22 L65.00,458.03 L65.40,457.83 L65.80,457.62 L66.20,457.41 L66.60,457.19 L67.00,456.96 L67.40,456.73 L67.80,456.49 L68.20,456.25 L68.60,456.00 L69.00,455.73 L69.40,455.42 L69.80,455.09 L70.20,454.73 L70.60,454.35 L71.00,453.95 L71.40,453.54 L71.80,453.11 L72.20,452.67 L72.60,452.23 L73.00,451.78 L73.40,451.33 L73.80,450.89 L74.20,450.46 L74.60,450.04 L75.00,449.63 L75.40,449.23 L75.80,448.86 L76.20,448.52 L76.60,448.18 L77.00,447.87 L77.40,447.56 L77.80,447.25 L78.20,446.95 L78.60,446.66 L79.00,446.36 L79.40,446.06 L79.80,445.76 L80.20,445.44 L80.60,445.14 L81.00,444.83 L81.40,444.53 L81.80,444.22 L82.20,443.92 L82.60,443.61 L83.00,443.30 L83.40,442.98 L83.80,442.65 L84.20,442.31 L84.60,441.96 L85.00,441.60 L85.40,441.21 L85.80,440.79 L86.20,440.34 L86.60,439.86 L87.00,439.37 L87.40,438.87 L87.80,438.37 L88.20,437.87 L88.60,437.38 L89.00,436.91 L89.40,436.46 L89.80,436.03 L90.20,435.65 L90.60,435.30 L91.00,435.00 L91.40,434.73 L91.80,434.45 L92.20,434.17 L92.60,433.90 L93.00,433.63 L93.40,433.36 L93.80,433.11 L94.20,432.87 L94.60,432.64 L95.00,432.42 L95.40,432.22 L95.80,432.04 L96.20,431.89 L96.60,431.75 L97.00,431.65 L97.40,431.57 L97.80,431.52 L98.20,431.50 L98.60,431.52 L99.00,431.57 L99.40,431.66 L99.80,431.77 L100.20,431.91 L100.60,432.08 L101.00,432.26 L101.40,432.47 L101.80,432.69 L102.20,432.92 L102.60,433.16 L103.00,433.41 L103.40,433.66 L103.80,433.92 L104.20,434.17 L104.60,434.42 L105.00,434.67 L105.40,434.90 L105.80,435.13 L106.20,435.38 L106.60,435.63 L107.00,435.89 L107.40,436.16 L107.80,436.44 L108.20,436.73 L108.60,437.02 L109.00,437.32 L109.40,437.62 L109.80,437.93 L110.20,438.24 L110.60,438.55 L111.00,438.87 L111.40,439.19 L111.80,439.50 L112.20,439.82 L112.60,440.14 L113.00,440.46 L113.40,440.77 L113.80,441.08 L114.20,441.39 L114.60,441.70 L115.00,442.00 L115.40,442.30 L115.80,442.61 L116.20,442.93 L116.60,443.25 L117.00,443.58 L117.40,443.91 L117.80,444.24 L118.20,444.57 L118.60,444.90 L119.00,445.24 L119.40,445.57 L119.80,445.90 L120.20,446.22 L120.60,446.54 L121.00,446.85 L121.40,447.16 L121.80,447.46 L122.20,447.75 L122.60,448.03 L123.00,448.30 L123.40,448.56 L123.80,448.80 L124.20,449.03 L124.60,449.25 L125.00,449.45 L125.40,449.65 L125.80,449.84 L126.20,450.03 L126.60,450.21 L127.00,450.39 L127.40,450.56 L127.80,450.72 L128.20,450.88 L128.60,451.03 L129.00,451.17 L129.40,451.31 L129.80,451.44 L130.20,451.56 L130.60,451.67 L131.00,451.78 L131.40,451.89 L131.80,452.00 L132.20,452.11 L132.60,452.22 L133.00,452.32 L133.40,452.43 L133.80,452.54 L134.20,452.64 L134.60,452.74 L135.00,452.83 L135.40,452.92 L135.80,453.01 L136.20,453.09 L136.60,453.17 L137.00,453.23 L137.40,453.30 L137.80,453.35 L138.20,453.40 L138.60,453.44 L139.00,453.47 L139.40,453.49 L139.80,453.50 L140.20,453.50 L140.60,453.49 L141.00,453.48 L141.40,453.46 L141.80,453.44 L142.20,453.40 L142.60,453.37 L143.00,453.33 L143.40,453.29 L143.80,453.24 L144.20,453.19 L144.60,453.13 L145.00,453.08 L145.40,453.02 L145.80,452.96 L146.20,452.90 L146.60,452.83 L147.00,452.77 L147.40,452.70 L147.80,452.64 L148.20,452.57 L148.60,452.51 L149.00,452.45 L149.40,452.39 L149.80,452.33 L150.20,452.27 L150.60,452.21 L151.00,452.15 L151.40,452.09 L151.80,452.03 L152.20,451.97 L152.60,451.90 L153.00,451.84 L153.40,451.77 L153.80,451.70 L154.20,451.64 L154.60,451.57 L155.00,451.50 L155.40,451.42 L155.80,451.35 L156.20,451.28 L156.60,451.21 L157.00,451.13 L157.40,451.06 L157.80,450.98 L158.20,450.91 L158.60,450.83 L159.00,450.76 L159.40,450.68 L159.80,450.60 L160.20,450.53 L160.60,450.45 L161.00,450.37 L161.40,450.29 L161.80,450.22 L162.20,450.14 L162.60,450.06 L163.00,449.98 L163.40,449.91 L163.80,449.83 L164.20,449.75 L164.60,449.68 L165.00,449.60 L165.40,449.52 L165.80,449.45 L166.20,449.37 L166.60,449.29 L167.00,449.22 L167.40,449.14 L167.80,449.06 L168.20,448.98 L168.60,448.90 L169.00,448.82 L169.40,448.74 L169.80,448.66 L170.20,448.58 L170.60,448.50 L171.00,448.42 L171.40,448.34 L171.80,448.26 L172.20,448.18 L172.60,448.10 L173.00,448.01 L173.40,447.93 L173.80,447.85 L174.20,447.77 L174.60,447.68" fill="none" stroke="#f0aa80" stroke-width="1.80" stroke-linejoin="round" stroke-linecap="round"/>
<path d="M150.00,452.30 L150.40,452.23 L150.80,452.15 L151.20,452.08 L151.60,452.00 L152.00,451.92 L152.40,451.84 L152.80,451.75 L153.20,451.67 L153.60,451.58 L154.00,451.49 L154.40,451.40 L154.80,451.31 L155.20,451.22 L155.60,451.12 L156.00,451.02 L156.40,450.92 L156.80,450.82 L157.20,450.72 L157.60,450.62 L158.00,450.51 L158.40,450.41 L158.80,450.30 L159.20,450.19 L159.60,450.08 L160.00,449.97 L160.40,449.86 L160.80,449.75 L161.20,449.63 L161.60,449.52 L162.00,449.40 L162.40,449.28 L162.80,449.17 L163.20,449.05 L163.60,448.93 L164.00,448.81 L164.40,448.68 L164.80,448.56 L165.20,448.44 L165.60,448.31 L166.00,448.18 L166.40,448.05 L166.80,447.91 L167.20,447.77 L167.60,447.63 L168.00,447.48 L168.40,447.34 L168.80,447.19 L169.20,447.03 L169.60,446.88 L170.00,446.72 L170.40,446.57 L170.80,446.41 L171.20,446.25 L171.60,446.09 L172.00,445.93 L172.40,445.76 L172.80,445.60 L173.20,445.44 L173.60,445.27 L174.00,445.11 L174.40,444.95 L174.80,444.78 L175.20,444.62 L175.60,444.45 L176.00,444.29 L176.40,444.12 L176.80,443.95 L177.20,443.77 L177.60,443.60 L178.00,443.43 L178.40,443.25 L178.80,443.07 L179.20,442.90 L179.60,442.72 L180.00,442.54 L180.40,442.36 L180.80,442.18 L181.20,442.00 L181.60,441.82 L182.00,441.64 L182.40,441.46 L182.80,441.28 L183.20,441.10 L183.60,440.92 L184.00,440.74 L184.40,440.56 L184.80,440.39 L185.20,440.21 L185.60,440.03 L186.00,439.85 L186.40,439.67 L186.80,439.49 L187.20,439.31 L187.60,439.13 L188.00,438.94 L188.40,438.76 L188.80,438.58 L189.20,438.40 L189.60,438.22 L190.00,438.04 L190.40,437.86 L190.80,437.69 L191.20,437.52 L191.60,437.35 L192.00,437.19 L192.40,437.03 L192.80,436.88 L193.20,436.73 L193.60,436.58 L194.00,436.45 L194.40,436.31 L194.80,436.19 L195.20,436.06 L195.60,435.94 L196.00,435.82 L196.40,435.70 L196.80,435.59 L197.20,435.47 L197.60,435.35 L198.00,435.23 L198.40,435.10 L198.80,434.97 L199.20,434.84 L199.60,434.70 L200.00,434.56 L200.40,434.40 L200.80,434.24 L201.20,434.07 L201.60,433.87 L202.00,433.65 L202.40,433.41 L202.80,433.16 L203.20,432.91 L203.60,432.66 L204.00,432.41 L204.40,432.17 L204.80,431.94 L205.20,431.74 L205.60,431.55 L206.00,431.40 L206.40,431.26 L206.80,431.12 L207.20,430.98 L207.60,430.84 L208.00,430.71 L208.40,430.59 L208.80,430.47 L209.20,430.37 L209.60,430.28 L210.00,430.20 L210.40,430.15 L210.80,430.11 L211.20,430.10 L211.60,430.10 L212.00,430.11 L212.40,430.12 L212.80,430.13 L213.20,430.14 L213.60,430.16 L214.00,430.18 L214.40,430.20 L214.80,430.22 L215.20,430.25 L215.60,430.27 L216.00,430.30 L216.40,430.33 L216.80,430.38 L217.20,430.45 L217.60,430.52 L218.00,430.60 L218.40,430.69 L218.80,430.78 L219.20,430.88 L219.60,430.98 L220.00,431.08 L220.40,431.17 L220.80,431.27 L221.20,431.35 L221.60,431.43 L222.00,431.50 L222.40,431.56 L222.80,431.62 L223.20,431.68 L223.60,431.74 L224.00,431.80 L224.40,431.86 L224.80,431.91 L225.20,431.96 L225.60,432.01 L226.00,432.06 L226.40,432.11 L226.80,432.16 L227.20,432.21 L227.60,432.25 L228.00,432.30 L228.40,432.34 L228.80,432.39 L229.20,432.43 L229.60,432.48 L230.00,432.52 L230.40,432.57 L230.80,432.61 L231.20,432.65 L231.60,432.70 L232.00,432.74 L232.40,432.78 L232.80,432.82 L233.20,432.86 L233.60,432.90 L234.00,432.95 L234.40,432.99 L234.80,433.02 L235.20,433.06 L235.60,433.10 L236.00,433.14 L236.40,433.17 L236.80,433.21 L237.20,433.25 L237.60,433.28 L238.00,433.31 L238.40,433.35 L238.80,433.38 L239.20,433.41 L239.60,433.44 L240.00,433.47 L240.40,433.50 L240.80,433.52 L241.20,433.55 L241.60,433.58 L242.00,433.60 L242.40,433.62 L242.80,433.65 L243.20,433.67 L243.60,433.70 L244.00,433.72 L244.40,433.74 L244.80,433.77 L245.20,433.79 L245.60,433.82 L246.00,433.84 L246.40,433.86 L246.80,433.88 L247.20,433.91 L247.60,433.93 L248.00,433.95 L248.40,433.97 L248.80,433.99 L249.20,434.01 L249.60,434.03 L250.00,434.05 L250.40,434.07 L250.80,434.08 L251.20,434.10 L251.60,434.12 L252.00,434.13 L252.40,434.14 L252.80,434.15 L253.20,434.16 L253.60,434.17 L254.00,434.18 L254.40,434.19 L254.80,434.19 L255.20,434.20 L255.60,434.20 L256.00,434.20 L256.40,434.20 L256.80,434.19 L257.20,434.17 L257.60,434.15 L258.00,434.13 L258.40,434.10 L258.80,434.06 L259.20,434.03 L259.60,433.98 L260.00,433.94 L260.40,433.88 L260.80,433.83 L261.20,433.77 L261.60,433.71 L262.00,433.65 L262.40,433.58 L262.80,433.52 L263.20,433.45 L263.60,433.38 L264.00,433.30 L264.40,433.23 L264.80,433.15 L265.20,433.08 L265.60,433.00 L266.00,432.93 L266.40,432.85 L266.80,432.77 L267.20,432.70 L267.60,432.62 L268.00,432.55 L268.40,432.48 L268.80,432.40 L269.20,432.33 L269.60,432.27 L270.00,432.20 L270.40,432.13 L270.80,432.07 L271.20,432.00 L271.60,431.93 L272.00,431.87 L272.40,431.80 L272.80,431.73 L273.20,431.65 L273.60,431.58 L274.00,431.51 L274.40,431.44 L274.80,431.36 L275.20,431.29 L275.60,431.21 L276.00,431.14 L276.40,431.06 L276.80,430.99 L277.20,430.91 L277.60,430.83 L278.00,430.76 L278.40,430.68 L278.80,430.60 L279.20,430.53 L279.60,430.45 L280.00,430.37 L280.40,430.29 L280.80,430.22 L281.20,430.14 L281.60,430.06 L282.00,429.98 L282.40,429.91 L282.80,429.83 L283.20,429.75 L283.60,429.68 L284.00,429.60 L284.40,429.52 L284.80,429.45 L285.20,429.37 L285.60,429.29 L286.00,429.22 L286.40,429.14 L286.80,429.06 L287.20,428.98 L287.60,428.91 L288.00,428.83 L288.40,428.75 L288.80,428.67 L289.20,428.59 L289.60,428.52 L290.00,428.44 L290.40,428.36 L290.80,428.28 L291.20,428.20 L291.60,428.12 L292.00,428.04 L292.40,427.97 L292.80,427.89 L293.20,427.81 L293.60,427.73 L294.00,427.65 L294.40,427.57 L294.80,427.50 L295.20,427.42 L295.60,427.34 L296.00,427.26 L296.40,427.18 L296.80,427.11 L297.20,427.03 L297.60,426.95 L298.00,426.88 L298.40,426.80 L298.80,426.73 L299.20,426.65 L299.60,426.57 L300.00,426.50 L300.40,426.43 L300.80,426.35 L301.20,426.28 L301.60,426.20 L302.00,426.13 L302.40,426.05 L302.80,425.98 L303.20,425.91 L303.60,425.83 L304.00,425.76 L304.40,425.68 L304.80,425.61 L305.20,425.54 L305.60,425.46 L306.00,425.39 L306.40,425.32 L306.80,425.24 L307.20,425.17 L307.60,425.10 L308.00,425.03 L308.40,424.95 L308.80,424.88 L309.20,424.81 L309.60,424.73 L310.00,424.66 L310.40,424.59 L310.80,424.52 L311.20,424.45 L311.60,424.37 L312.00,424.30 L312.40,424.23 L312.80,424.16 L313.20,424.09 L313.60,424.02 L314.00,423.95 L314.40,423.87 L314.80,423.80 L315.20,423.73 L315.60,423.66 L316.00,423.59 L316.40,423.52 L316.80,423.45 L317.20,423.38 L317.60,423.31 L318.00,423.24 L318.40,423.17 L318.80,423.10 L319.20,423.03 L319.60,422.96 L320.00,422.89 L320.40,422.82 L320.80,422.75 L321.20,422.68 L321.60,422.61 L322.00,422.54 L322.40,422.48 L322.80,422.41 L323.20,422.34 L323.60,422.27" fill="none" stroke="#f4b8c0" stroke-width="1.80" stroke-linejoin="round" stroke-linecap="round"/>
<path d="M150.00,451.80 L150.40,451.73 L150.80,451.67 L151.20,451.60 L151.60,451.53 L152.00,451.46 L152.40,451.39 L152.80,451.32 L153.20,451.24 L153.60,451.17 L154.00,451.09 L154.40,451.01 L154.80,450.93 L155.20,450.85 L155.60,450.77 L156.00,450.69 L156.40,450.60 L156.80,450.52 L157.20,450.44 L157.60,450.35 L158.00,450.26 L158.40,450.17 L158.80,450.08 L159.20,449.99 L159.60,449.90 L160.00,449.81 L160.40,449.72 L160.80,449.62 L161.20,449.53 L161.60,449.44 L162.00,449.34 L162.40,449.24 L162.80,449.15 L163.20,449.05 L163.60,448.95 L164.00,448.85 L164.40,448.75 L164.80,448.65 L165.20,448.55 L165.60,448.44 L166.00,448.33 L166.40,448.21 L166.80,448.09 L167.20,447.96 L167.60,447.83 L168.00,447.70 L168.40,447.57 L168.80,447.43 L169.20,447.29 L169.60,447.16 L170.00,447.02 L170.40,446.89 L170.80,446.75 L171.20,446.62 L171.60,446.49 L172.00,446.37 L172.40,446.25 L172.80,446.13 L173.20,446.02 L173.60,445.91 L174.00,445.81 L174.40,445.72 L174.80,445.64 L175.20,445.56 L175.60,445.49 L176.00,445.42 L176.40,445.35 L176.80,445.28 L177.20,445.21 L177.60,445.15 L178.00,445.09 L178.40,445.03 L178.80,444.97 L179.20,444.91 L179.60,444.86 L180.00,444.80 L180.40,444.75 L180.80,444.69 L181.20,444.64 L181.60,444.59 L182.00,444.54 L182.40,444.49 L182.80,444.44 L183.20,444.40 L183.60,444.35 L184.00,444.30 L184.40,444.26 L184.80,444.21 L185.20,444.16 L185.60,444.12 L186.00,444.07 L186.40,444.03 L186.80,443.98 L187.20,443.94 L187.60,443.89 L188.00,443.84 L188.40,443.80 L188.80,443.75 L189.20,443.70 L189.60,443.65 L190.00,443.60 L190.40,443.55 L190.80,443.50 L191.20,443.46 L191.60,443.41 L192.00,443.37 L192.40,443.32 L192.80,443.28 L193.20,443.24 L193.60,443.20 L194.00,443.16 L194.40,443.12 L194.80,443.07 L195.20,443.03 L195.60,442.99 L196.00,442.94 L196.40,442.90 L196.80,442.85 L197.20,442.80 L197.60,442.75 L198.00,442.70 L198.40,442.64 L198.80,442.59 L199.20,442.53 L199.60,442.47 L200.00,442.40 L200.40,442.33 L200.80,442.25 L201.20,442.17 L201.60,442.09 L202.00,442.00 L202.40,441.91 L202.80,441.81 L203.20,441.71 L203.60,441.60 L204.00,441.49 L204.40,441.38 L204.80,441.26 L205.20,441.15 L205.60,441.02 L206.00,440.90 L206.40,440.78 L206.80,440.65 L207.20,440.52 L207.60,440.39 L208.00,440.26 L208.40,440.13 L208.80,440.00 L209.20,439.87 L209.60,439.73 L210.00,439.60 L210.40,439.47 L210.80,439.33 L211.20,439.19 L211.60,439.05 L212.00,438.90 L212.40,438.75 L212.80,438.60 L213.20,438.45 L213.60,438.29 L214.00,438.13 L214.40,437.97 L214.80,437.81 L215.20,437.64 L215.60,437.48 L216.00,437.31 L216.40,437.13 L216.80,436.96 L217.20,436.78 L217.60,436.60 L218.00,436.42 L218.40,436.24 L218.80,436.05 L219.20,435.86 L219.60,435.67 L220.00,435.47 L220.40,435.27 L220.80,435.06 L221.20,434.85 L221.60,434.63 L222.00,434.41 L222.40,434.19 L222.80,433.97 L223.20,433.74 L223.60,433.51 L224.00,433.28 L224.40,433.05 L224.80,432.82 L225.20,432.59 L225.60,432.36 L226.00,432.13 L226.40,431.90 L226.80,431.67 L227.20,431.45 L227.60,431.22 L228.00,431.00 L228.40,430.78 L228.80,430.55 L229.20,430.31 L229.60,430.07 L230.00,429.83 L230.40,429.59 L230.80,429.34 L231.20,429.09 L231.60,428.85 L232.00,428.60 L232.40,428.36 L232.80,428.12 L233.20,427.88 L233.60,427.64 L234.00,427.41 L234.40,427.19 L234.80,426.97 L235.20,426.76 L235.60,426.56 L236.00,426.36 L236.40,426.18 L236.80,426.00 L237.20,425.84 L237.60,425.68 L238.00,425.53 L238.40,425.38 L238.80,425.22 L239.20,425.07 L239.60,424.93 L240.00,424.78 L240.40,424.64 L240.80,424.50 L241.20,424.37 L241.60,424.24 L242.00,424.11 L242.40,423.99 L242.80,423.88 L243.20,423.77 L243.60,423.67 L244.00,423.57 L244.40,423.48 L244.80,423.40 L245.20,423.32 L245.60,423.26 L246.00,423.20 L246.40,423.15 L246.80,423.09 L247.20,423.04 L247.60,422.99 L248.00,422.94 L248.40,422.89 L248.80,422.85 L249.20,422.80 L249.60,422.76 L250.00,422.72 L250.40,422.68 L250.80,422.65 L251.20,422.62 L251.60,422.59 L252.00,422.56 L252.40,422.54 L252.80,422.52 L253.20,422.51 L253.60,422.50 L254.00,422.50 L254.40,422.50 L254.80,422.50 L255.20,422.51 L255.60,422.52 L256.00,422.53 L256.40,422.54 L256.80,422.56 L257.20,422.57 L257.60,422.59 L258.00,422.61 L258.40,422.63 L258.80,422.66 L259.20,422.68 L259.60,422.71 L260.00,422.73 L260.40,422.76 L260.80,422.78 L261.20,422.81 L261.60,422.84 L262.00,422.87 L262.40,422.89 L262.80,422.92 L263.20,422.95 L263.60,422.97 L264.00,423.00 L264.40,423.03 L264.80,423.05 L265.20,423.08 L265.60,423.11 L266.00,423.14 L266.40,423.17 L266.80,423.21 L267.20,423.24 L267.60,423.27 L268.00,423.31 L268.40,423.35 L268.80,423.38 L269.20,423.42 L269.60,423.45 L270.00,423.49 L270.40,423.53 L270.80,423.56 L271.20,423.60 L271.60,423.64 L272.00,423.67 L272.40,423.71 L272.80,423.74 L273.20,423.78 L273.60,423.81 L274.00,423.84 L274.40,423.88 L274.80,423.91 L275.20,423.94 L275.60,423.97 L276.00,424.00 L276.40,424.04 L276.80,424.07 L277.20,424.11 L277.60,424.14 L278.00,424.18 L278.40,424.22 L278.80,424.25 L279.20,424.29 L279.60,424.33 L280.00,424.37 L280.40,424.40 L280.80,424.44 L281.20,424.48 L281.60,424.51 L282.00,424.55 L282.40,424.59 L282.80,424.62 L283.20,424.66 L283.60,424.69 L284.00,424.73 L284.40,424.76 L284.80,424.80 L285.20,424.83 L285.60,424.86 L286.00,424.89 L286.40,424.92 L286.80,424.95 L287.20,424.98 L287.60,425.00 L288.00,425.03 L288.40,425.05 L288.80,425.07 L289.20,425.09 L289.60,425.11 L290.00,425.13 L290.40,425.14 L290.80,425.16 L291.20,425.17 L291.60,425.18 L292.00,425.19 L292.40,425.19 L292.80,425.20 L293.20,425.20 L293.60,425.20 L294.00,425.20 L294.40,425.19 L294.80,425.18 L295.20,425.18 L295.60,425.17 L296.00,425.15 L296.40,425.14 L296.80,425.12 L297.20,425.11 L297.60,425.09 L298.00,425.07 L298.40,425.05 L298.80,425.02 L299.20,425.00 L299.60,424.98 L300.00,424.95 L300.40,424.92 L300.80,424.90 L301.20,424.87 L301.60,424.84 L302.00,424.82 L302.40,424.79 L302.80,424.76 L303.20,424.73 L303.60,424.70 L304.00,424.67 L304.40,424.64 L304.80,424.61 L305.20,424.59 L305.60,424.56 L306.00,424.53 L306.40,424.49 L306.80,424.46 L307.20,424.43 L307.60,424.39 L308.00,424.36 L308.40,424.32 L308.80,424.28 L309.20,424.25 L309.60,424.21 L310.00,424.17 L310.40,424.12 L310.80,424.08 L311.20,424.04 L311.60,423.99 L312.00,423.95 L312.40,423.90 L312.80,423.86 L313.20,423.81 L313.60,423.76 L314.00,423.71 L314.40,423.66 L314.80,423.61 L315.20,423.55 L315.60,423.50 L316.00,423.45 L316.40,423.39 L316.80,423.34 L317.20,423.28 L317.60,423.22 L318.00,423.16 L318.40,423.11 L318.80,423.05 L319.20,422.99 L319.60,422.92 L320.00,422.86 L320.40,422.80 L320.80,422.74 L321.20,422.67 L321.60,422.61 L322.00,422.54 L322.40,422.48 L322.80,422.41 L323.20,422.34 L323.60,422.27" fill="none" stroke="#f01818" stroke-width="1.80" stroke-linejoin="round" stroke-linecap="round"/>
<path d="M37.80,469.11 L38.10,469.06 L38.40,469.02 L38.70,468.98 L39.00,468.94 L39.30,468.90 L39.60,468.86 L39.90,468.81 L40.20,468.77 L40.50,468.73 L40.80,468.68 L41.10,468.64 L41.40,468.60 L41.70,468.55 L42.00,468.51 L42.30,468.46 L42.60,468.42 L42.90,468.37 L43.20,468.33 L43.50,468.28 L43.80,468.23 L44.10,468.19 L44.40,468.14 L44.70,468.09 L45.00,468.05 L45.30,468.00 L45.60,467.95 L45.90,467.90 L46.20,467.85 L46.50,467.81 L46.80,467.76 L47.10,467.71 L47.40,467.66 L47.70,467.61 L48.00,467.56 L48.30,467.51 L48.60,467.46 L48.90,467.41 L49.20,467.36 L49.50,467.31 L49.80,467.26 L50.10,467.21 L50.40,467.16 L50.70,467.11 L51.00,467.05 L51.30,467.00 L51.60,466.95 L51.90,466.90 L52.20,466.85 L52.50,466.79 L52.80,466.74 L53.10,466.69 L53.40,466.64 L53.70,466.58 L54.00,466.53 L54.30,466.48 L54.60,466.42 L54.90,466.37 L55.20,466.31 L55.50,466.26 L55.80,466.20 L56.10,466.15 L56.40,466.09 L56.70,466.03 L57.00,465.98 L57.30,465.92 L57.60,465.86 L57.90,465.81 L58.20,465.75 L58.50,465.69 L58.80,465.63 L59.10,465.57 L59.40,465.51 L59.70,465.45 L60.00,465.39 L60.30,465.33 L60.60,465.27 L60.90,465.21 L61.20,465.15 L61.50,465.09 L61.80,465.03 L62.10,464.97 L62.40,464.90 L62.70,464.84 L63.00,464.78 L63.30,464.71 L63.60,464.65 L63.90,464.58 L64.20,464.52 L64.50,464.45 L64.80,464.39 L65.10,464.32 L65.40,464.26 L65.70,464.19 L66.00,464.12 L66.30,464.05 L66.60,463.98 L66.90,463.91 L67.20,463.84 L67.50,463.76 L67.80,463.68 L68.10,463.61 L68.40,463.53 L68.70,463.44 L69.00,463.36 L69.30,463.28 L69.60,463.20 L69.90,463.12 L70.20,463.03 L70.50,462.95 L70.80,462.87 L71.10,462.79 L71.40,462.71 L71.70,462.63 L72.00,462.55 L72.30,462.48 L72.60,462.40 L72.90,462.33 L73.20,462.26 L73.50,462.19 L73.80,462.12 L74.10,462.06 L74.40,462.00 L74.70,461.94 L75.00,461.87 L75.30,461.81 L75.60,461.74 L75.90,461.67 L76.20,461.61 L76.50,461.55 L76.80,461.49 L77.10,461.44 L77.40,461.39 L77.70,461.35 L78.00,461.32 L78.30,461.31 L78.60,461.30 L78.90,461.30 L79.20,461.31 L79.50,461.32 L79.80,461.34 L80.10,461.36 L80.40,461.39 L80.70,461.42 L81.00,461.45 L81.30,461.48 L81.60,461.52 L81.90,461.56 L82.20,461.60 L82.50,461.64 L82.80,461.68 L83.10,461.73 L83.40,461.77 L83.70,461.82 L84.00,461.86 L84.30,461.90 L84.60,461.95 L84.90,461.99 L85.20,462.03 L85.50,462.08 L85.80,462.13 L86.10,462.19 L86.40,462.25 L86.70,462.31 L87.00,462.38 L87.30,462.44 L87.60,462.50 L87.90,462.56 L88.20,462.62 L88.50,462.67 L88.80,462.71 L89.10,462.75 L89.40,462.78 L89.70,462.79 L90.00,462.80 L90.30,462.80 L90.60,462.80 L90.90,462.80 L91.20,462.79 L91.50,462.79 L91.80,462.78 L92.10,462.78 L92.40,462.77 L92.70,462.76 L93.00,462.75 L93.30,462.74 L93.60,462.74 L93.90,462.73 L94.20,462.71 L94.50,462.70 L94.80,462.69 L95.10,462.68 L95.40,462.67 L95.70,462.66 L96.00,462.64 L96.30,462.63 L96.60,462.62 L96.90,462.60 L97.20,462.59 L97.50,462.58 L97.80,462.56 L98.10,462.54 L98.40,462.52 L98.70,462.50 L99.00,462.47 L99.30,462.45 L99.60,462.42 L99.90,462.39 L100.20,462.36 L100.50,462.33 L100.80,462.30 L101.10,462.27 L101.40,462.23 L101.70,462.20 L102.00,462.16 L102.30,462.12 L102.60,462.08 L102.90,462.04 L103.20,462.00 L103.50,461.96 L103.80,461.91 L104.10,461.87 L104.40,461.82 L104.70,461.78 L105.00,461.73 L105.30,461.68 L105.60,461.64 L105.90,461.59 L106.20,461.54 L106.50,461.49 L106.80,461.44 L107.10,461.39 L107.40,461.34 L107.70,461.28 L108.00,461.23 L108.30,461.18 L108.60,461.13 L108.90,461.07 L109.20,461.02 L109.50,460.97 L109.80,460.91 L110.10,460.86 L110.40,460.81 L110.70,460.75 L111.00,460.70 L111.30,460.65 L111.60,460.59 L111.90,460.53 L112.20,460.47 L112.50,460.41 L112.80,460.35 L113.10,460.29 L113.40,460.23 L113.70,460.16 L114.00,460.09 L114.30,460.03 L114.60,459.96 L114.90,459.89 L115.20,459.81 L115.50,459.74 L115.80,459.67 L116.10,459.59 L116.40,459.51 L116.70,459.44 L117.00,459.36 L117.30,459.28 L117.60,459.19 L117.90,459.11 L118.20,459.03 L118.50,458.94 L118.80,458.86 L119.10,458.77 L119.40,458.68 L119.70,458.59 L120.00,458.50 L120.30,458.41 L120.60,458.32 L120.90,458.22 L121.20,458.13 L121.50,458.03 L121.80,457.93 L122.10,457.82 L122.40,457.71 L122.70,457.59 L123.00,457.47 L123.30,457.34 L123.60,457.20 L123.90,457.05 L124.20,456.89 L124.50,456.69 L124.80,456.46 L125.10,456.21 L125.40,455.94 L125.70,455.65 L126.00,455.36 L126.30,455.06 L126.60,454.77 L126.90,454.48 L127.20,454.21 L127.50,453.96 L127.80,453.73 L128.10,453.54 L128.40,453.33 L128.70,453.13 L129.00,452.92 L129.30,452.71 L129.60,452.52 L129.90,452.35 L130.20,452.21 L130.50,452.10 L130.80,452.03 L131.10,452.00 L131.40,452.01 L131.70,452.06 L132.00,452.12 L132.30,452.20 L132.60,452.30 L132.90,452.40 L133.20,452.51 L133.50,452.63 L133.80,452.73 L134.10,452.83 L134.40,452.95 L134.70,453.09 L135.00,453.23 L135.30,453.38 L135.60,453.53 L135.90,453.67 L136.20,453.79 L136.50,453.90 L136.80,453.97 L137.10,454.01 L137.40,454.04 L137.70,454.07 L138.00,454.10 L138.30,454.13 L138.60,454.15 L138.90,454.18 L139.20,454.20 L139.50,454.22 L139.80,454.24 L140.10,454.25 L140.40,454.27 L140.70,454.28 L141.00,454.29 L141.30,454.29 L141.60,454.30 L141.90,454.30 L142.20,454.30 L142.50,454.29 L142.80,454.26 L143.10,454.23 L143.40,454.20 L143.70,454.15 L144.00,454.10 L144.30,454.04 L144.60,453.97 L144.90,453.90 L145.20,453.82 L145.50,453.74 L145.80,453.66 L146.10,453.58 L146.40,453.49 L146.70,453.40 L147.00,453.31 L147.30,453.22 L147.60,453.13 L147.90,453.04 L148.20,452.95 L148.50,452.87 L148.80,452.79 L149.10,452.71 L149.40,452.63 L149.70,452.56 L150.00,452.50 L150.30,452.44 L150.60,452.38 L150.90,452.32 L151.20,452.26 L151.50,452.20 L151.80,452.14 L152.10,452.08 L152.40,452.02 L152.70,451.96 L153.00,451.90 L153.30,451.84 L153.60,451.78 L153.90,451.72 L154.20,451.66 L154.50,451.60 L154.80,451.54 L155.10,451.49 L155.40,451.43 L155.70,451.37 L156.00,451.31 L156.30,451.26 L156.60,451.20 L156.90,451.14 L157.20,451.08 L157.50,451.03 L157.80,450.97 L158.10,450.91 L158.40,450.86 L158.70,450.80 L159.00,450.75 L159.30,450.69 L159.60,450.63 L159.90,450.58 L160.20,450.52 L160.50,450.47 L160.80,450.41 L161.10,450.36 L161.40,450.30 L161.70,450.25 L162.00,450.20 L162.30,450.14 L162.60,450.09 L162.90,450.03 L163.20,449.98 L163.50,449.93 L163.80,449.87 L164.10,449.82 L164.40,449.77 L164.70,449.71 L165.00,449.66 L165.30,449.61 L165.60,449.56 L165.90,449.50 L166.20,449.45 L166.50,449.40 L166.80,449.35 L167.10,449.30 L167.40,449.25 L167.70,449.20 L168.00,449.14 L168.30,449.09 L168.60,449.04 L168.90,448.99 L169.20,448.94 L169.50,448.89 L169.80,448.84 L170.10,448.79 L170.40,448.74 L170.70,448.69 L171.00,448.64 L171.30,448.59 L171.60,448.55 L171.90,448.50 L172.20,448.45 L172.50,448.40 L172.80,448.35 L173.10,448.30 L173.40,448.25 L173.70,448.21 L174.00,448.16 L174.30,448.11 L174.60,448.06 L174.90,448.02 L175.20,447.97 L175.50,447.92 L175.80,447.87 L176.10,447.83 L176.40,447.78 L176.70,447.74 L177.00,447.69 L177.30,447.64 L177.60,447.60 L177.90,447.55 L178.20,447.51 L178.50,447.46 L178.80,447.42 L179.10,447.37 L179.40,447.33 L179.70,447.28 L180.00,447.24 L180.30,447.19 L180.60,447.15 L180.90,447.11 L181.20,447.06 L181.50,447.02 L181.80,446.97 L182.10,446.93 L182.40,446.89 L182.70,446.85 L183.00,446.80 L183.30,446.76 L183.60,446.72 L183.90,446.67 L184.20,446.63 L184.50,446.59 L184.80,446.55 L185.10,446.50 L185.40,446.46 L185.70,446.42 L186.00,446.38 L186.30,446.34 L186.60,446.30 L186.90,446.25 L187.20,446.21 L187.50,446.17 L187.80,446.13 L188.10,446.09 L188.40,446.05 L188.70,446.01 L189.00,445.97 L189.30,445.93 L189.60,445.88 L189.90,445.84 L190.20,445.80 L190.50,445.76 L190.80,445.72 L191.10,445.68 L191.40,445.64 L191.70,445.60 L192.00,445.56 L192.30,445.52 L192.60,445.48 L192.90,445.44 L193.20,445.40 L193.50,445.36 L193.80,445.32 L194.10,445.28 L194.40,445.24 L194.70,445.20 L195.00,445.16 L195.30,445.12 L195.60,445.08 L195.90,445.04 L196.20,445.00 L196.50,444.96 L196.80,444.92 L197.10,444.88 L197.40,444.84 L197.70,444.80 L198.00,444.76 L198.30,444.72 L198.60,444.69 L198.90,444.65 L199.20,444.61 L199.50,444.57 L199.80,444.53 L200.10,444.49 L200.40,444.45 L200.70,444.41 L201.00,444.37 L201.30,444.33 L201.60,444.29 L201.90,444.25 L202.20,444.22 L202.50,444.18 L202.80,444.14 L203.10,444.10 L203.40,444.07 L203.70,444.03 L204.00,443.99 L204.30,443.96 L204.60,443.92 L204.90,443.88 L205.20,443.85 L205.50,443.81 L205.80,443.77 L206.10,443.74 L206.40,443.70 L206.70,443.66 L207.00,443.63 L207.30,443.59 L207.60,443.55 L207.90,443.52 L208.20,443.48 L208.50,443.44 L208.80,443.41 L209.10,443.37 L209.40,443.33 L209.70,443.30 L210.00,443.26 L210.30,443.22 L210.60,443.18 L210.90,443.15 L211.20,443.11 L211.50,443.07 L211.80,443.03 L212.10,442.99 L212.40,442.95 L212.70,442.91 L213.00,442.87 L213.30,442.83 L213.60,442.79 L213.90,442.75 L214.20,442.71 L214.50,442.67 L214.80,442.63 L215.10,442.59 L215.40,442.54 L215.70,442.50 L216.00,442.46 L216.30,442.41 L216.60,442.37 L216.90,442.32 L217.20,442.28 L217.50,442.23 L217.80,442.19 L218.10,442.14 L218.40,442.10 L218.70,442.05 L219.00,442.00 L219.30,441.95 L219.60,441.91 L219.90,441.86 L220.20,441.81 L220.50,441.76 L220.80,441.72 L221.10,441.67 L221.40,441.62 L221.70,441.57 L222.00,441.52 L222.30,441.47 L222.60,441.42 L222.90,441.37 L223.20,441.32 L223.50,441.27 L223.80,441.22 L224.10,441.17 L224.40,441.12 L224.70,441.08 L225.00,441.03 L225.30,440.98 L225.60,440.93 L225.90,440.88 L226.20,440.83 L226.50,440.78 L226.80,440.73 L227.10,440.68 L227.40,440.63 L227.70,440.58 L228.00,440.53 L228.30,440.48 L228.60,440.43 L228.90,440.38 L229.20,440.33 L229.50,440.28 L229.80,440.23 L230.10,440.18 L230.40,440.14 L230.70,440.09 L231.00,440.04 L231.30,439.99 L231.60,439.94 L231.90,439.89 L232.20,439.84 L232.50,439.79 L232.80,439.75 L233.10,439.70 L233.40,439.65 L233.70,439.60 L234.00,439.55 L234.30,439.50 L234.60,439.45 L234.90,439.40 L235.20,439.36 L235.50,439.31 L235.80,439.26 L236.10,439.21 L236.40,439.16 L236.70,439.11 L237.00,439.06 L237.30,439.01 L237.60,438.97 L237.90,438.92 L238.20,438.87 L238.50,438.82 L238.80,438.77 L239.10,438.72 L239.40,438.67 L239.70,438.62 L240.00,438.57 L240.30,438.53 L240.60,438.48 L240.90,438.43 L241.20,438.38 L241.50,438.33 L241.80,438.28 L242.10,438.23 L242.40,438.18 L242.70,438.13 L243.00,438.08 L243.30,438.04 L243.60,437.99 L243.90,437.94 L244.20,437.89 L244.50,437.84 L244.80,437.79 L245.10,437.74 L245.40,437.69 L245.70,437.64 L246.00,437.59 L246.30,437.54 L246.60,437.49 L246.90,437.45 L247.20,437.40 L247.50,437.35 L247.80,437.30 L248.10,437.25 L248.40,437.20 L248.70,437.15 L249.00,437.10 L249.30,437.05 L249.60,437.00 L249.90,436.95 L250.20,436.90 L250.50,436.85 L250.80,436.80 L251.10,436.75 L251.40,436.71 L251.70,436.66 L252.00,436.61 L252.30,436.56 L252.60,436.51 L252.90,436.46 L253.20,436.41 L253.50,436.36 L253.80,436.31 L254.10,436.26 L254.40,436.21 L254.70,436.16 L255.00,436.11 L255.30,436.06 L255.60,436.01 L255.90,435.96 L256.20,435.91 L256.50,435.86 L256.80,435.81 L257.10,435.76 L257.40,435.71 L257.70,435.66 L258.00,435.61 L258.30,435.56 L258.60,435.51 L258.90,435.46 L259.20,435.41 L259.50,435.36 L259.80,435.31 L260.10,435.26 L260.40,435.21 L260.70,435.16 L261.00,435.11 L261.30,435.06 L261.60,435.01 L261.90,434.96 L262.20,434.91 L262.50,434.86 L262.80,434.81 L263.10,434.76 L263.40,434.71 L263.70,434.66 L264.00,434.61 L264.30,434.56 L264.60,434.51 L264.90,434.46 L265.20,434.41 L265.50,434.36 L265.80,434.31 L266.10,434.26 L266.40,434.21 L266.70,434.16 L267.00,434.11 L267.30,434.06 L267.60,434.01 L267.90,433.95 L268.20,433.90 L268.50,433.85 L268.80,433.80 L269.10,433.75 L269.40,433.70 L269.70,433.65 L270.00,433.60 L270.30,433.55 L270.60,433.50 L270.90,433.45 L271.20,433.40 L271.50,433.35 L271.80,433.30 L272.10,433.24 L272.40,433.19 L272.70,433.14 L273.00,433.09 L273.30,433.04 L273.60,432.99 L273.90,432.94 L274.20,432.89 L274.50,432.84 L274.80,432.79 L275.10,432.74 L275.40,432.69 L275.70,432.64 L276.00,432.59 L276.30,432.54 L276.60,432.48 L276.90,432.43 L277.20,432.38 L277.50,432.33 L277.80,432.28 L278.10,432.23 L278.40,432.18 L278.70,432.13 L279.00,432.08 L279.30,432.03 L279.60,431.98 L279.90,431.93 L280.20,431.87 L280.50,431.82 L280.80,431.77 L281.10,431.72 L281.40,431.67 L281.70,431.62 L282.00,431.57 L282.30,431.52 L282.60,431.47 L282.90,431.41 L283.20,431.36 L283.50,431.31 L283.80,431.26 L284.10,431.21 L284.40,431.16 L284.70,431.11 L285.00,431.06 L285.30,431.00 L285.60,430.95 L285.90,430.90 L286.20,430.85 L286.50,430.80 L286.80,430.75 L287.10,430.69 L287.40,430.64 L287.70,430.59 L288.00,430.54 L288.30,430.49 L288.60,430.43 L288.90,430.38 L289.20,430.33 L289.50,430.28 L289.80,430.22 L290.10,430.17 L290.40,430.12 L290.70,430.07 L291.00,430.01 L291.30,429.96 L291.60,429.91 L291.90,429.86 L292.20,429.80 L292.50,429.75 L292.80,429.70 L293.10,429.64 L293.40,429.59 L293.70,429.54 L294.00,429.48 L294.30,429.43 L294.60,429.38 L294.90,429.32 L295.20,429.27 L295.50,429.22 L295.80,429.16 L296.10,429.11 L296.40,429.06 L296.70,429.00 L297.00,428.95 L297.30,428.89 L297.60,428.84 L297.90,428.78 L298.20,428.73 L298.50,428.67 L298.80,428.62 L299.10,428.57 L299.40,428.51 L299.70,428.46 L300.00,428.40 L300.30,428.34 L300.60,428.29 L300.90,428.23 L301.20,428.18 L301.50,428.12 L301.80,428.07 L302.10,428.01 L302.40,427.96 L302.70,427.90 L303.00,427.84 L303.30,427.79 L303.60,427.73 L303.90,427.68 L304.20,427.62 L304.50,427.56 L304.80,427.51 L305.10,427.45 L305.40,427.39 L305.70,427.34 L306.00,427.28 L306.30,427.22 L306.60,427.16 L306.90,427.11 L307.20,427.05 L307.50,426.99 L307.80,426.94 L308.10,426.88 L308.40,426.82 L308.70,426.76 L309.00,426.70 L309.30,426.65 L309.60,426.59 L309.90,426.53 L310.20,426.47 L310.50,426.42 L310.80,426.36 L311.10,426.30 L311.40,426.24 L311.70,426.18 L312.00,426.12 L312.30,426.06 L312.60,426.01 L312.90,425.95 L313.20,425.89 L313.50,425.83 L313.80,425.77 L314.10,425.71 L314.40,425.65 L314.70,425.59 L315.00,425.53 L315.30,425.47 L315.60,425.41 L315.90,425.36 L316.20,425.30 L316.50,425.24 L316.80,425.18 L317.10,425.12 L317.40,425.06 L317.70,425.00 L318.00,424.94 L318.30,424.88 L318.60,424.82 L318.90,424.76 L319.20,424.70 L319.50,424.64 L319.80,424.58 L320.10,424.52 L320.40,424.45 L320.70,424.39 L321.00,424.33 L321.30,424.27 L321.60,424.21 L321.90,424.15 L322.20,424.09 L322.50,424.03 L322.80,423.97 L323.10,423.91 L323.40,423.85 L323.70,423.78" fill="none" stroke="#1c1c78" stroke-width="2.30" stroke-linejoin="round" stroke-linecap="round"/>
<path d="M37.80,470.25 L38.10,470.08 L38.40,470.55 L38.70,469.83 L39.00,469.86 L39.30,470.60 L39.60,469.83 L39.90,469.56 L40.20,469.33 L40.50,469.75 L40.80,469.68 L41.10,469.98 L41.40,469.53 L41.70,469.92 L42.00,469.41 L42.30,470.29 L42.60,469.44 L42.90,469.76 L43.20,469.58 L43.50,468.70 L43.80,469.82 L44.10,469.07 L44.40,469.69 L44.70,468.21 L45.00,468.25 L45.30,468.14 L45.60,468.21 L45.90,468.87 L46.20,469.01 L46.50,468.50 L46.80,468.79 L47.10,468.59 L47.40,469.26 L47.70,469.21 L48.00,468.98 L48.30,469.12 L48.60,469.61 L48.90,469.06 L49.20,467.95 L49.50,468.57 L49.80,468.50 L50.10,469.02 L50.40,468.83 L50.70,468.99 L51.00,467.78 L51.30,469.21 L51.60,468.42 L51.90,468.95 L52.20,468.69 L52.50,467.99 L52.80,468.00 L53.10,468.67 L53.40,468.91 L53.70,467.86 L54.00,467.70 L54.30,467.21 L54.60,467.71 L54.90,467.76 L55.20,467.93 L55.50,468.31 L55.80,467.71 L56.10,467.34 L56.40,467.64 L56.70,467.72 L57.00,467.75 L57.30,467.67 L57.60,467.44 L57.90,467.72 L58.20,467.22 L58.50,466.76 L58.80,467.10 L59.10,468.01 L59.40,466.59 L59.70,468.10 L60.00,466.54 L60.30,467.04 L60.60,465.78 L60.90,466.42 L61.20,467.06 L61.50,465.66 L61.80,465.76 L62.10,466.15 L62.40,466.04 L62.70,465.01 L63.00,464.99 L63.30,465.62 L63.60,465.49 L63.90,465.56 L64.20,464.98 L64.50,465.22 L64.80,465.36 L65.10,464.02 L65.40,464.97 L65.70,464.68 L66.00,464.79 L66.30,463.80 L66.60,463.79 L66.90,463.65 L67.20,463.17 L67.50,463.67 L67.80,463.04 L68.10,462.18 L68.40,462.53 L68.70,461.59 L69.00,461.05 L69.30,461.00 L69.60,461.20 L69.90,460.91 L70.20,460.46 L70.50,460.43 L70.80,460.75 L71.10,458.89 L71.40,459.28 L71.70,458.82 L72.00,457.72 L72.30,457.68 L72.60,457.66 L72.90,457.20 L73.20,456.39 L73.50,456.76 L73.80,456.04 L74.10,455.72 L74.40,455.60 L74.70,453.53 L75.00,453.86 L75.30,452.73 L75.60,450.65 L75.90,448.81 L76.20,445.86 L76.50,442.43 L76.80,440.32 L77.10,436.70 L77.40,433.34 L77.70,431.88 L78.00,428.18 L78.30,425.18 L78.60,421.19 L78.90,416.54 L79.20,411.70 L79.50,405.53 L79.80,401.15 L80.10,394.94 L80.40,389.42 L80.70,381.99 L81.00,374.62 L81.30,366.67 L81.60,357.29 L81.90,348.67 L82.20,339.23 L82.50,330.21 L82.80,321.29 L83.10,315.81 L83.40,309.58 L83.70,304.60 L84.00,304.03 L84.30,304.74 L84.60,307.68 L84.90,309.23 L85.20,313.45 L85.50,318.75 L85.80,323.87 L86.10,329.78 L86.40,337.45 L86.70,344.76 L87.00,352.84 L87.30,360.51 L87.60,367.91 L87.90,375.85 L88.20,381.85 L88.50,387.97 L88.80,393.53 L89.10,397.67 L89.40,400.93 L89.70,402.60 L90.00,404.68 L90.30,407.47 L90.60,408.88 L90.90,409.66 L91.20,411.17 L91.50,412.51 L91.80,413.63 L92.10,415.22 L92.40,416.66 L92.70,417.46 L93.00,418.45 L93.30,418.83 L93.60,420.43 L93.90,420.45 L94.20,420.64 L94.50,421.13 L94.80,421.94 L95.10,423.30 L95.40,423.41 L95.70,422.75 L96.00,423.89 L96.30,424.47 L96.60,425.02 L96.90,425.26 L97.20,425.16 L97.50,425.94 L97.80,425.78 L98.10,425.27 L98.40,426.18 L98.70,426.40 L99.00,427.33 L99.30,427.55 L99.60,426.76 L99.90,427.47 L100.20,427.58 L100.50,427.03 L100.80,426.89 L101.10,427.92 L101.40,428.16 L101.70,427.98 L102.00,427.18 L102.30,428.55 L102.60,428.48 L102.90,428.53 L103.20,428.99 L103.50,428.85 L103.80,429.84 L104.10,429.84 L104.40,429.84 L104.70,430.47 L105.00,430.60 L105.30,430.20 L105.60,431.10 L105.90,431.23 L106.20,430.43 L106.50,430.81 L106.80,431.49 L107.10,431.34 L107.40,432.35 L107.70,433.50 L108.00,432.10 L108.30,432.87 L108.60,434.28 L108.90,433.52 L109.20,432.83 L109.50,433.77 L109.80,433.33 L110.10,433.47 L110.40,434.68 L110.70,434.86 L111.00,435.30 L111.30,434.71 L111.60,434.79 L111.90,435.37 L112.20,435.82 L112.50,436.22 L112.80,436.19 L113.10,436.76 L113.40,436.29 L113.70,437.15 L114.00,437.11 L114.30,437.83 L114.60,437.38 L114.90,437.50 L115.20,437.67 L115.50,437.64 L115.80,438.70 L116.10,437.49 L116.40,438.79 L116.70,438.28 L117.00,439.68 L117.30,439.54 L117.60,438.59 L117.90,439.40 L118.20,439.25 L118.50,439.87 L118.80,439.90 L119.10,439.79 L119.40,440.19 L119.70,439.83 L120.00,441.12 L120.30,439.44 L120.60,440.54 L120.90,440.90 L121.20,440.45 L121.50,441.00 L121.80,440.29 L122.10,441.05 L122.40,439.60 L122.70,440.86 L123.00,441.62 L123.30,440.77 L123.60,440.90 L123.90,441.61 L124.20,441.77 L124.50,441.06 L124.80,442.47 L125.10,440.76 L125.40,442.74 L125.70,441.77 L126.00,441.84 L126.30,442.39 L126.60,442.21 L126.90,443.00 L127.20,442.89 L127.50,442.22 L127.80,443.10 L128.10,443.24 L128.40,443.03 L128.70,443.06 L129.00,442.60 L129.30,441.23 L129.60,442.81 L129.90,442.73 L130.20,442.52 L130.50,442.39 L130.80,442.32 L131.10,442.92 L131.40,442.35 L131.70,441.97 L132.00,442.90 L132.30,443.77 L132.60,442.53 L132.90,443.21 L133.20,442.83 L133.50,443.06 L133.80,442.38 L134.10,442.51 L134.40,443.54 L134.70,443.21 L135.00,444.41 L135.30,444.84 L135.60,444.98 L135.90,444.20 L136.20,445.41 L136.50,444.92 L136.80,445.09 L137.10,444.41 L137.40,445.01 L137.70,444.94 L138.00,445.33 L138.30,445.66 L138.60,445.94 L138.90,445.64 L139.20,445.64 L139.50,445.69 L139.80,445.94 L140.10,446.00 L140.40,445.42 L140.70,445.71 L141.00,446.72 L141.30,447.37 L141.60,445.69 L141.90,445.39 L142.20,445.87 L142.50,445.62 L142.80,446.15 L143.10,446.54 L143.40,445.58 L143.70,445.89 L144.00,446.67 L144.30,447.65 L144.60,447.63 L144.90,447.01 L145.20,448.24 L145.50,446.76 L145.80,447.40 L146.10,447.28 L146.40,446.81 L146.70,447.61 L147.00,447.06 L147.30,448.09 L147.60,446.92 L147.90,446.44 L148.20,447.07 L148.50,447.03 L148.80,446.19 L149.10,447.62 L149.40,447.81 L149.70,446.32 L150.00,447.00 L150.30,447.09 L150.60,448.32 L150.90,447.45 L151.20,446.80 L151.50,447.11 L151.80,447.80 L152.10,448.55 L152.40,448.31 L152.70,447.78 L153.00,448.08 L153.30,447.55 L153.60,447.80 L153.90,448.19 L154.20,447.68 L154.50,447.81 L154.80,448.54 L155.10,447.81 L155.40,448.22 L155.70,447.73 L156.00,447.34 L156.30,447.84 L156.60,447.66 L156.90,446.91 L157.20,447.26 L157.50,447.58 L157.80,448.40 L158.10,448.45 L158.40,448.64 L158.70,448.89 L159.00,448.68 L159.30,448.34 L159.60,449.18 L159.90,448.95 L160.20,447.18 L160.50,448.62 L160.80,448.34 L161.10,448.45 L161.40,447.96 L161.70,448.19 L162.00,448.58 L162.30,448.38 L162.60,448.31 L162.90,447.88 L163.20,447.71 L163.50,447.61 L163.80,446.58 L164.10,447.98 L164.40,446.95 L164.70,446.86 L165.00,446.62 L165.30,446.62 L165.60,445.29 L165.90,446.16 L166.20,445.30 L166.50,445.24 L166.80,444.65 L167.10,444.50 L167.40,445.32 L167.70,444.63 L168.00,444.58 L168.30,444.34 L168.60,443.68 L168.90,443.66 L169.20,443.20 L169.50,443.41 L169.80,442.35 L170.10,442.96 L170.40,443.35 L170.70,443.28 L171.00,443.06 L171.30,442.58 L171.60,441.71 L171.90,442.38 L172.20,442.01 L172.50,441.70 L172.80,440.84 L173.10,441.36 L173.40,441.61 L173.70,441.10 L174.00,440.46 L174.30,440.58 L174.60,440.11 L174.90,439.96 L175.20,440.02 L175.50,439.55 L175.80,439.18 L176.10,439.06 L176.40,438.26 L176.70,437.90 L177.00,438.28 L177.30,437.50 L177.60,437.70 L177.90,436.29 L178.20,436.30 L178.50,435.33 L178.80,435.71 L179.10,433.42 L179.40,433.32 L179.70,434.23 L180.00,433.19 L180.30,432.78 L180.60,432.20 L180.90,431.71 L181.20,431.35 L181.50,430.11 L181.80,429.92 L182.10,429.99 L182.40,428.87 L182.70,427.88 L183.00,427.54 L183.30,427.27 L183.60,425.97 L183.90,425.20 L184.20,424.65 L184.50,423.89 L184.80,423.16 L185.10,421.34 L185.40,420.33 L185.70,419.28 L186.00,416.48 L186.30,415.82 L186.60,414.32 L186.90,412.40 L187.20,410.22 L187.50,408.92 L187.80,407.26 L188.10,404.77 L188.40,402.80 L188.70,401.15 L189.00,400.24 L189.30,398.54 L189.60,396.60 L189.90,394.73 L190.20,393.39 L190.50,392.72 L190.80,391.87 L191.10,391.41 L191.40,390.12 L191.70,390.05 L192.00,390.07 L192.30,389.13 L192.60,391.25 L192.90,391.04 L193.20,391.72 L193.50,391.67 L193.80,392.68 L194.10,394.87 L194.40,396.33 L194.70,396.42 L195.00,399.50 L195.30,400.56 L195.60,401.70 L195.90,402.07 L196.20,403.80 L196.50,404.51 L196.80,406.14 L197.10,407.87 L197.40,408.49 L197.70,409.78 L198.00,410.17 L198.30,410.66 L198.60,411.78 L198.90,412.83 L199.20,413.55 L199.50,413.34 L199.80,413.92 L200.10,412.40 L200.40,411.98 L200.70,413.46 L201.00,413.79 L201.30,413.85 L201.60,414.41 L201.90,413.60 L202.20,414.92 L202.50,415.53 L202.80,415.30 L203.10,416.06 L203.40,415.96 L203.70,415.57 L204.00,416.53 L204.30,415.90 L204.60,418.09 L204.90,417.32 L205.20,416.88 L205.50,416.86 L205.80,418.21 L206.10,417.86 L206.40,418.43 L206.70,417.75 L207.00,418.33 L207.30,418.23 L207.60,419.35 L207.90,418.77 L208.20,419.95 L208.50,419.44 L208.80,418.82 L209.10,420.03 L209.40,418.65 L209.70,419.37 L210.00,419.66 L210.30,420.01 L210.60,420.44 L210.90,420.04 L211.20,419.30 L211.50,419.90 L211.80,419.87 L212.10,420.87 L212.40,420.27 L212.70,420.95 L213.00,421.57 L213.30,420.57 L213.60,421.31 L213.90,420.90 L214.20,420.84 L214.50,421.11 L214.80,421.02 L215.10,422.14 L215.40,421.57 L215.70,423.02 L216.00,421.31 L216.30,422.23 L216.60,421.70 L216.90,420.29 L217.20,422.53 L217.50,422.37 L217.80,421.61 L218.10,421.80 L218.40,421.50 L218.70,422.00 L219.00,423.02 L219.30,422.73 L219.60,421.75 L219.90,420.68 L220.20,422.39 L220.50,422.46 L220.80,422.23 L221.10,422.76 L221.40,421.73 L221.70,421.96 L222.00,421.88 L222.30,421.30 L222.60,422.20 L222.90,422.29 L223.20,421.41 L223.50,421.35 L223.80,422.67 L224.10,421.49 L224.40,421.64 L224.70,422.40 L225.00,421.93 L225.30,422.12 L225.60,421.82 L225.90,421.68 L226.20,421.73 L226.50,422.17 L226.80,422.36 L227.10,423.20 L227.40,421.88 L227.70,421.67 L228.00,423.03 L228.30,421.15 L228.60,422.91 L228.90,421.77 L229.20,422.75 L229.50,420.94 L229.80,421.91 L230.10,421.94 L230.40,421.84 L230.70,422.25 L231.00,421.74 L231.30,421.95 L231.60,420.89 L231.90,421.74 L232.20,421.35 L232.50,421.90 L232.80,422.20 L233.10,421.54 L233.40,421.05 L233.70,421.11 L234.00,421.54 L234.30,421.60 L234.60,421.33 L234.90,421.59 L235.20,420.97 L235.50,421.01 L235.80,419.84 L236.10,421.66 L236.40,421.16 L236.70,420.53 L237.00,420.95 L237.30,420.47 L237.60,421.71 L237.90,421.35 L238.20,422.46 L238.50,420.80 L238.80,420.72 L239.10,420.73 L239.40,420.41 L239.70,420.95 L240.00,421.03 L240.30,421.18 L240.60,421.07 L240.90,420.19 L241.20,421.32 L241.50,420.87 L241.80,420.54 L242.10,419.88 L242.40,420.17 L242.70,420.26 L243.00,420.07 L243.30,419.04 L243.60,420.74 L243.90,419.47 L244.20,420.62 L244.50,420.17 L244.80,420.65 L245.10,420.28 L245.40,420.04 L245.70,419.57 L246.00,419.70 L246.30,420.33 L246.60,418.74 L246.90,419.31 L247.20,419.65 L247.50,420.28 L247.80,419.13 L248.10,418.63 L248.40,419.63 L248.70,420.75 L249.00,419.05 L249.30,418.97 L249.60,419.13 L249.90,418.89 L250.20,419.54 L250.50,419.58 L250.80,418.80 L251.10,419.24 L251.40,419.59 L251.70,419.00 L252.00,418.56 L252.30,418.87 L252.60,419.26 L252.90,419.33 L253.20,419.20 L253.50,419.14 L253.80,420.55 L254.10,418.98 L254.40,418.65 L254.70,418.90 L255.00,419.09 L255.30,419.13 L255.60,419.40 L255.90,419.27 L256.20,419.04 L256.50,419.43 L256.80,419.41 L257.10,419.01 L257.40,419.02 L257.70,419.58 L258.00,419.18 L258.30,418.37 L258.60,419.89 L258.90,418.53 L259.20,419.22 L259.50,419.56 L259.80,419.25 L260.10,419.38 L260.40,418.94 L260.70,418.78 L261.00,419.98 L261.30,419.81 L261.60,419.50 L261.90,419.74 L262.20,420.05 L262.50,420.46 L262.80,419.30 L263.10,419.46 L263.40,420.42 L263.70,419.67 L264.00,420.10 L264.30,419.80 L264.60,420.16 L264.90,419.56 L265.20,419.70 L265.50,420.53 L265.80,420.11 L266.10,420.13 L266.40,420.92 L266.70,420.42 L267.00,419.91 L267.30,419.75 L267.60,420.78 L267.90,419.71 L268.20,420.44 L268.50,420.19 L268.80,420.25 L269.10,421.40 L269.40,421.01 L269.70,421.96 L270.00,420.95 L270.30,420.89 L270.60,420.67 L270.90,421.63 L271.20,420.94 L271.50,421.35 L271.80,421.82 L272.10,421.86 L272.40,421.65 L272.70,421.68 L273.00,421.44 L273.30,420.84 L273.60,420.97 L273.90,421.82 L274.20,422.68 L274.50,421.16 L274.80,421.69 L275.10,421.47 L275.40,421.49 L275.70,421.20 L276.00,422.02 L276.30,422.33 L276.60,421.52 L276.90,421.05 L277.20,420.73 L277.50,422.28 L277.80,422.77 L278.10,421.87 L278.40,421.21 L278.70,422.42 L279.00,422.16 L279.30,422.38 L279.60,421.86 L279.90,422.66 L280.20,423.02 L280.50,421.82 L280.80,422.57 L281.10,423.01 L281.40,423.07 L281.70,422.33 L282.00,421.52 L282.30,422.14 L282.60,422.19 L282.90,422.70 L283.20,423.42 L283.50,422.43 L283.80,422.83 L284.10,422.32 L284.40,422.87 L284.70,422.70 L285.00,422.47 L285.30,423.84 L285.60,423.11 L285.90,423.49 L286.20,422.05 L286.50,423.97 L286.80,423.74 L287.10,422.91 L287.40,423.13 L287.70,422.88 L288.00,423.70 L288.30,422.42 L288.60,423.20 L288.90,423.98 L289.20,423.51 L289.50,424.37 L289.80,422.98 L290.10,423.35 L290.40,423.86 L290.70,423.15 L291.00,422.99 L291.30,423.38 L291.60,423.04 L291.90,423.34 L292.20,423.93 L292.50,423.72 L292.80,423.22 L293.10,423.11 L293.40,423.31 L293.70,423.31 L294.00,423.38 L294.30,423.51 L294.60,423.12 L294.90,423.79 L295.20,423.48 L295.50,423.85 L295.80,423.74 L296.10,422.40 L296.40,423.23 L296.70,423.33 L297.00,423.53 L297.30,423.57 L297.60,422.02 L297.90,423.40 L298.20,423.69 L298.50,422.51 L298.80,423.25 L299.10,423.71 L299.40,423.53 L299.70,423.68 L300.00,422.55 L300.30,423.37 L300.60,424.45 L300.90,423.85 L301.20,423.39 L301.50,423.58 L301.80,423.13 L302.10,424.33 L302.40,424.32 L302.70,424.06 L303.00,424.18 L303.30,423.84 L303.60,424.20 L303.90,423.88 L304.20,424.21 L304.50,423.55 L304.80,423.51 L305.10,423.28 L305.40,423.30 L305.70,422.79 L306.00,424.07 L306.30,424.08 L306.60,423.76 L306.90,423.86 L307.20,423.49 L307.50,423.59 L307.80,422.75 L308.10,423.30 L308.40,422.50 L308.70,422.99 L309.00,423.14 L309.30,423.11 L309.60,422.75 L309.90,423.77 L310.20,423.62 L310.50,422.92 L310.80,422.59 L311.10,422.89 L311.40,423.51 L311.70,422.22 L312.00,423.40 L312.30,422.96 L312.60,422.82 L312.90,423.42 L313.20,422.95 L313.50,422.75 L313.80,423.43 L314.10,422.14 L314.40,423.53 L314.70,422.40 L315.00,422.37 L315.30,423.41 L315.60,424.15 L315.90,423.18 L316.20,422.22 L316.50,421.58 L316.80,422.61 L317.10,422.46 L317.40,422.16 L317.70,422.31 L318.00,422.02 L318.30,422.65 L318.60,422.19 L318.90,422.09 L319.20,421.15 L319.50,422.19 L319.80,421.38 L320.10,422.30 L320.40,421.91 L320.70,420.96 L321.00,421.67 L321.30,421.23 L321.60,421.95 L321.90,421.85 L322.20,422.06 L322.50,421.19 L322.80,421.70 L323.10,420.81 L323.40,421.51 L323.70,421.21" fill="none" stroke="#111111" stroke-width="1.50" stroke-linejoin="round" stroke-linecap="round"/>
<path d="M37.80,466.12 L38.10,466.03 L38.40,465.94 L38.70,465.86 L39.00,465.77 L39.30,465.68 L39.60,465.59 L39.90,465.50 L40.20,465.41 L40.50,465.32 L40.80,465.23 L41.10,465.14 L41.40,465.05 L41.70,464.96 L42.00,464.86 L42.30,464.77 L42.60,464.68 L42.90,464.58 L43.20,464.49 L43.50,464.39 L43.80,464.29 L44.10,464.20 L44.40,464.10 L44.70,464.00 L45.00,463.90 L45.30,463.80 L45.60,463.70 L45.90,463.60 L46.20,463.50 L46.50,463.40 L46.80,463.30 L47.10,463.20 L47.40,463.10 L47.70,463.00 L48.00,462.90 L48.30,462.80 L48.60,462.70 L48.90,462.59 L49.20,462.49 L49.50,462.38 L49.80,462.28 L50.10,462.17 L50.40,462.06 L50.70,461.95 L51.00,461.84 L51.30,461.72 L51.60,461.61 L51.90,461.49 L52.20,461.37 L52.50,461.26 L52.80,461.13 L53.10,461.01 L53.40,460.88 L53.70,460.76 L54.00,460.63 L54.30,460.49 L54.60,460.36 L54.90,460.22 L55.20,460.08 L55.50,459.93 L55.80,459.79 L56.10,459.64 L56.40,459.48 L56.70,459.32 L57.00,459.16 L57.30,459.00 L57.60,458.83 L57.90,458.66 L58.20,458.48 L58.50,458.30 L58.80,458.10 L59.10,457.90 L59.40,457.69 L59.70,457.48 L60.00,457.27 L60.30,457.05 L60.60,456.83 L60.90,456.61 L61.20,456.39 L61.50,456.16 L61.80,455.94 L62.10,455.73 L62.40,455.51 L62.70,455.30 L63.00,455.09 L63.30,454.88 L63.60,454.67 L63.90,454.46 L64.20,454.24 L64.50,454.01 L64.80,453.78 L65.10,453.54 L65.40,453.29 L65.70,453.03 L66.00,452.76 L66.30,452.48 L66.60,452.19 L66.90,451.90 L67.20,451.59 L67.50,451.28 L67.80,450.95 L68.10,450.60 L68.40,450.25 L68.70,449.87 L69.00,449.48 L69.30,449.06 L69.60,448.62 L69.90,448.16 L70.20,447.68 L70.50,447.17 L70.80,446.66 L71.10,446.12 L71.40,445.58 L71.70,445.02 L72.00,444.42 L72.30,443.76 L72.60,443.03 L72.90,442.21 L73.20,441.24 L73.50,440.12 L73.80,438.86 L74.10,437.48 L74.40,435.94 L74.70,434.10 L75.00,432.08 L75.30,430.00 L75.60,427.85 L75.90,425.58 L76.20,423.27 L76.50,421.00 L76.80,418.83 L77.10,416.69 L77.40,414.51 L77.70,412.24 L78.00,410.03 L78.30,407.79 L78.60,405.36 L78.90,402.55 L79.20,399.21 L79.50,395.23 L79.80,390.53 L80.10,385.03 L80.40,378.04 L80.70,368.53 L81.00,358.28 L81.30,349.08 L81.60,340.30 L81.90,331.86 L82.20,324.26 L82.50,317.63 L82.80,311.76 L83.10,307.94 L83.40,305.05 L83.70,303.33 L84.00,303.54 L84.30,305.00 L84.60,307.00 L84.90,309.78 L85.20,313.71 L85.50,318.37 L85.80,323.64 L86.10,330.17 L86.40,337.50 L86.70,345.08 L87.00,352.46 L87.30,360.27 L87.60,368.23 L87.90,375.67 L88.20,382.01 L88.50,388.00 L88.80,393.50 L89.10,397.92 L89.40,400.74 L89.70,402.40 L90.00,404.49 L90.30,406.97 L90.60,409.00 L90.90,410.32 L91.20,411.39 L91.50,412.42 L91.80,413.62 L92.10,414.96 L92.40,416.29 L92.70,417.51 L93.00,418.50 L93.30,419.28 L93.60,419.96 L93.90,420.57 L94.20,421.12 L94.50,421.64 L94.80,422.12 L95.10,422.60 L95.40,423.07 L95.70,423.51 L96.00,423.94 L96.30,424.35 L96.60,424.74 L96.90,425.11 L97.20,425.44 L97.50,425.75 L97.80,426.03 L98.10,426.28 L98.40,426.50 L98.70,426.71 L99.00,426.90 L99.30,427.07 L99.60,427.23 L99.90,427.39 L100.20,427.53 L100.50,427.68 L100.80,427.82 L101.10,427.96 L101.40,428.10 L101.70,428.25 L102.00,428.40 L102.30,428.57 L102.60,428.74 L102.90,428.93 L103.20,429.14 L103.50,429.36 L103.80,429.59 L104.10,429.83 L104.40,430.09 L104.70,430.35 L105.00,430.61 L105.30,430.89 L105.60,431.16 L105.90,431.44 L106.20,431.71 L106.50,431.99 L106.80,432.26 L107.10,432.53 L107.40,432.80 L107.70,433.05 L108.00,433.30 L108.30,433.54 L108.60,433.79 L108.90,434.03 L109.20,434.28 L109.50,434.53 L109.80,434.77 L110.10,435.02 L110.40,435.27 L110.70,435.51 L111.00,435.75 L111.30,435.99 L111.60,436.23 L111.90,436.46 L112.20,436.69 L112.50,436.92 L112.80,437.14 L113.10,437.36 L113.40,437.57 L113.70,437.78 L114.00,437.98 L114.30,438.17 L114.60,438.36 L114.90,438.54 L115.20,438.72 L115.50,438.89 L115.80,439.05 L116.10,439.22 L116.40,439.38 L116.70,439.53 L117.00,439.69 L117.30,439.84 L117.60,439.98 L117.90,440.12 L118.20,440.26 L118.50,440.39 L118.80,440.52 L119.10,440.65 L119.40,440.77 L119.70,440.89 L120.00,441.00 L120.30,441.11 L120.60,441.21 L120.90,441.31 L121.20,441.40 L121.50,441.49 L121.80,441.58 L122.10,441.67 L122.40,441.75 L122.70,441.84 L123.00,441.92 L123.30,442.00 L123.60,442.08 L123.90,442.17 L124.20,442.25 L124.50,442.34 L124.80,442.43 L125.10,442.53 L125.40,442.65 L125.70,442.77 L126.00,442.89 L126.30,443.00 L126.60,443.12 L126.90,443.21 L127.20,443.30 L127.50,443.36 L127.80,443.39 L128.10,443.40 L128.40,443.38 L128.70,443.33 L129.00,443.28 L129.30,443.21 L129.60,443.15 L129.90,443.08 L130.20,443.04 L130.50,443.01 L130.80,443.00 L131.10,443.04 L131.40,443.11 L131.70,443.20 L132.00,443.32 L132.30,443.45 L132.60,443.60 L132.90,443.74 L133.20,443.88 L133.50,444.00 L133.80,444.12 L134.10,444.25 L134.40,444.38 L134.70,444.52 L135.00,444.65 L135.30,444.79 L135.60,444.93 L135.90,445.06 L136.20,445.19 L136.50,445.31 L136.80,445.43 L137.10,445.53 L137.40,445.64 L137.70,445.74 L138.00,445.83 L138.30,445.93 L138.60,446.02 L138.90,446.11 L139.20,446.20 L139.50,446.29 L139.80,446.37 L140.10,446.45 L140.40,446.53 L140.70,446.61 L141.00,446.68 L141.30,446.75 L141.60,446.82 L141.90,446.88 L142.20,446.94 L142.50,447.00 L142.80,447.06 L143.10,447.13 L143.40,447.19 L143.70,447.25 L144.00,447.31 L144.30,447.37 L144.60,447.43 L144.90,447.49 L145.20,447.55 L145.50,447.61 L145.80,447.66 L146.10,447.71 L146.40,447.76 L146.70,447.80 L147.00,447.84 L147.30,447.88 L147.60,447.91 L147.90,447.94 L148.20,447.96 L148.50,447.98 L148.80,447.99 L149.10,448.00 L149.40,448.00 L149.70,448.00 L150.00,448.00 L150.30,448.00 L150.60,447.99 L150.90,447.99 L151.20,447.99 L151.50,447.98 L151.80,447.98 L152.10,447.97 L152.40,447.96 L152.70,447.96 L153.00,447.95 L153.30,447.94 L153.60,447.93 L153.90,447.92 L154.20,447.91 L154.50,447.90 L154.80,447.89 L155.10,447.88 L155.40,447.87 L155.70,447.86 L156.00,447.85 L156.30,447.83 L156.60,447.82 L156.90,447.80 L157.20,447.79 L157.50,447.77 L157.80,447.73 L158.10,447.70 L158.40,447.65 L158.70,447.60 L159.00,447.54 L159.30,447.48 L159.60,447.41 L159.90,447.34 L160.20,447.26 L160.50,447.18 L160.80,447.09 L161.10,447.00 L161.40,446.91 L161.70,446.81 L162.00,446.71 L162.30,446.61 L162.60,446.51 L162.90,446.40 L163.20,446.29 L163.50,446.18 L163.80,446.07 L164.10,445.96 L164.40,445.84 L164.70,445.70 L165.00,445.56 L165.30,445.40 L165.60,445.23 L165.90,445.05 L166.20,444.86 L166.50,444.67 L166.80,444.47 L167.10,444.26 L167.40,444.05 L167.70,443.84 L168.00,443.62 L168.30,443.41 L168.60,443.19 L168.90,442.97 L169.20,442.76 L169.50,442.55 L169.80,442.34 L170.10,442.13 L170.40,441.93 L170.70,441.74 L171.00,441.55 L171.30,441.35 L171.60,441.16 L171.90,440.97 L172.20,440.77 L172.50,440.58 L172.80,440.38 L173.10,440.18 L173.40,439.98 L173.70,439.77 L174.00,439.56 L174.30,439.34 L174.60,439.11 L174.90,438.88 L175.20,438.64 L175.50,438.40 L175.80,438.15 L176.10,437.89 L176.40,437.62 L176.70,437.35 L177.00,437.06 L177.30,436.76 L177.60,436.44 L177.90,436.11 L178.20,435.76 L178.50,435.38 L178.80,434.96 L179.10,434.53 L179.40,434.07 L179.70,433.60 L180.00,433.12 L180.30,432.64 L180.60,432.14 L180.90,431.63 L181.20,431.11 L181.50,430.56 L181.80,429.99 L182.10,429.40 L182.40,428.79 L182.70,428.16 L183.00,427.49 L183.30,426.80 L183.60,426.06 L183.90,425.27 L184.20,424.43 L184.50,423.50 L184.80,422.49 L185.10,421.39 L185.40,420.17 L185.70,418.81 L186.00,417.32 L186.30,415.75 L186.60,414.11 L186.90,412.43 L187.20,410.60 L187.50,408.66 L187.80,406.69 L188.10,404.80 L188.40,403.01 L188.70,401.24 L189.00,399.54 L189.30,397.98 L189.60,396.57 L189.90,395.21 L190.20,393.95 L190.50,392.85 L190.80,392.00 L191.10,391.28 L191.40,390.62 L191.70,390.10 L192.00,389.82 L192.30,389.87 L192.60,390.21 L192.90,390.77 L193.20,391.47 L193.50,392.24 L193.80,393.13 L194.10,394.40 L194.40,395.91 L194.70,397.49 L195.00,398.96 L195.30,400.22 L195.60,401.41 L195.90,402.55 L196.20,403.67 L196.50,404.77 L196.80,405.87 L197.10,407.02 L197.40,408.19 L197.70,409.30 L198.00,410.30 L198.30,411.10 L198.60,411.75 L198.90,412.34 L199.20,412.87 L199.50,413.35 L199.80,413.78 L200.10,414.18 L200.40,414.53 L200.70,414.86 L201.00,415.15 L201.30,415.42 L201.60,415.68 L201.90,415.94 L202.20,416.20 L202.50,416.47 L202.80,416.74 L203.10,417.00 L203.40,417.27 L203.70,417.52 L204.00,417.77 L204.30,418.02 L204.60,418.25 L204.90,418.47 L205.20,418.69 L205.50,418.91 L205.80,419.13 L206.10,419.34 L206.40,419.53 L206.70,419.72 L207.00,419.89 L207.30,420.05 L207.60,420.19 L207.90,420.33 L208.20,420.45 L208.50,420.57 L208.80,420.69 L209.10,420.79 L209.40,420.90 L209.70,421.00 L210.00,421.10 L210.30,421.19 L210.60,421.28 L210.90,421.37 L211.20,421.46 L211.50,421.55 L211.80,421.65 L212.10,421.75 L212.40,421.85 L212.70,421.94 L213.00,422.03 L213.30,422.12 L213.60,422.19 L213.90,422.26 L214.20,422.32 L214.50,422.36 L214.80,422.39 L215.10,422.40 L215.40,422.41 L215.70,422.42 L216.00,422.43 L216.30,422.44 L216.60,422.45 L216.90,422.46 L217.20,422.47 L217.50,422.48 L217.80,422.48 L218.10,422.49 L218.40,422.50 L218.70,422.50 L219.00,422.51 L219.30,422.52 L219.60,422.52 L219.90,422.53 L220.20,422.53 L220.50,422.54 L220.80,422.55 L221.10,422.55 L221.40,422.55 L221.70,422.56 L222.00,422.56 L222.30,422.57 L222.60,422.57 L222.90,422.57 L223.20,422.58 L223.50,422.58 L223.80,422.58 L224.10,422.58 L224.40,422.59 L224.70,422.59 L225.00,422.59 L225.30,422.59 L225.60,422.59 L225.90,422.60 L226.20,422.60 L226.50,422.60 L226.80,422.60 L227.10,422.60 L227.40,422.60 L227.70,422.60 L228.00,422.60 L228.30,422.60 L228.60,422.59 L228.90,422.59 L229.20,422.57 L229.50,422.56 L229.80,422.54 L230.10,422.52 L230.40,422.50 L230.70,422.48 L231.00,422.45 L231.30,422.42 L231.60,422.39 L231.90,422.36 L232.20,422.33 L232.50,422.29 L232.80,422.25 L233.10,422.21 L233.40,422.17 L233.70,422.13 L234.00,422.09 L234.30,422.05 L234.60,422.00 L234.90,421.96 L235.20,421.91 L235.50,421.87 L235.80,421.82 L236.10,421.77 L236.40,421.73 L236.70,421.68 L237.00,421.63 L237.30,421.59 L237.60,421.54 L237.90,421.49 L238.20,421.45 L238.50,421.41 L238.80,421.36 L239.10,421.32 L239.40,421.28 L239.70,421.24 L240.00,421.20 L240.30,421.16 L240.60,421.12 L240.90,421.08 L241.20,421.03 L241.50,420.98 L241.80,420.94 L242.10,420.89 L242.40,420.83 L242.70,420.78 L243.00,420.73 L243.30,420.68 L243.60,420.62 L243.90,420.57 L244.20,420.51 L244.50,420.45 L244.80,420.40 L245.10,420.34 L245.40,420.29 L245.70,420.24 L246.00,420.18 L246.30,420.13 L246.60,420.08 L246.90,420.03 L247.20,419.98 L247.50,419.93 L247.80,419.88 L248.10,419.84 L248.40,419.80 L248.70,419.76 L249.00,419.72 L249.30,419.68 L249.60,419.65 L249.90,419.62 L250.20,419.59 L250.50,419.57 L250.80,419.55 L251.10,419.53 L251.40,419.52 L251.70,419.51 L252.00,419.50 L252.30,419.50 L252.60,419.50 L252.90,419.50 L253.20,419.51 L253.50,419.51 L253.80,419.52 L254.10,419.53 L254.40,419.54 L254.70,419.55 L255.00,419.57 L255.30,419.58 L255.60,419.60 L255.90,419.61 L256.20,419.63 L256.50,419.65 L256.80,419.67 L257.10,419.69 L257.40,419.71 L257.70,419.73 L258.00,419.76 L258.30,419.78 L258.60,419.81 L258.90,419.83 L259.20,419.86 L259.50,419.88 L259.80,419.91 L260.10,419.93 L260.40,419.96 L260.70,419.99 L261.00,420.01 L261.30,420.04 L261.60,420.06 L261.90,420.09 L262.20,420.12 L262.50,420.15 L262.80,420.18 L263.10,420.21 L263.40,420.25 L263.70,420.29 L264.00,420.32 L264.30,420.37 L264.60,420.41 L264.90,420.45 L265.20,420.50 L265.50,420.55 L265.80,420.60 L266.10,420.65 L266.40,420.70 L266.70,420.75 L267.00,420.80 L267.30,420.85 L267.60,420.91 L267.90,420.96 L268.20,421.02 L268.50,421.07 L268.80,421.13 L269.10,421.18 L269.40,421.24 L269.70,421.29 L270.00,421.35 L270.30,421.40 L270.60,421.46 L270.90,421.51 L271.20,421.57 L271.50,421.62 L271.80,421.67 L272.10,421.72 L272.40,421.77 L272.70,421.82 L273.00,421.86 L273.30,421.91 L273.60,421.95 L273.90,422.00 L274.20,422.04 L274.50,422.08 L274.80,422.11 L275.10,422.15 L275.40,422.19 L275.70,422.22 L276.00,422.26 L276.30,422.30 L276.60,422.34 L276.90,422.38 L277.20,422.42 L277.50,422.46 L277.80,422.50 L278.10,422.53 L278.40,422.57 L278.70,422.61 L279.00,422.65 L279.30,422.69 L279.60,422.73 L279.90,422.77 L280.20,422.81 L280.50,422.85 L280.80,422.89 L281.10,422.93 L281.40,422.97 L281.70,423.00 L282.00,423.04 L282.30,423.08 L282.60,423.12 L282.90,423.15 L283.20,423.19 L283.50,423.22 L283.80,423.26 L284.10,423.29 L284.40,423.33 L284.70,423.36 L285.00,423.39 L285.30,423.43 L285.60,423.46 L285.90,423.49 L286.20,423.52 L286.50,423.55 L286.80,423.57 L287.10,423.60 L287.40,423.63 L287.70,423.65 L288.00,423.68 L288.30,423.70 L288.60,423.72 L288.90,423.74 L289.20,423.76 L289.50,423.78 L289.80,423.80 L290.10,423.81 L290.40,423.83 L290.70,423.84 L291.00,423.85 L291.30,423.87 L291.60,423.87 L291.90,423.88 L292.20,423.89 L292.50,423.89 L292.80,423.90 L293.10,423.90 L293.40,423.90 L293.70,423.90 L294.00,423.90 L294.30,423.90 L294.60,423.89 L294.90,423.89 L295.20,423.89 L295.50,423.88 L295.80,423.88 L296.10,423.87 L296.40,423.87 L296.70,423.86 L297.00,423.85 L297.30,423.84 L297.60,423.84 L297.90,423.83 L298.20,423.82 L298.50,423.81 L298.80,423.80 L299.10,423.79 L299.40,423.78 L299.70,423.76 L300.00,423.75 L300.30,423.74 L300.60,423.73 L300.90,423.71 L301.20,423.70 L301.50,423.69 L301.80,423.67 L302.10,423.66 L302.40,423.64 L302.70,423.62 L303.00,423.61 L303.30,423.59 L303.60,423.57 L303.90,423.56 L304.20,423.54 L304.50,423.52 L304.80,423.50 L305.10,423.48 L305.40,423.47 L305.70,423.45 L306.00,423.43 L306.30,423.41 L306.60,423.39 L306.90,423.37 L307.20,423.35 L307.50,423.33 L307.80,423.31 L308.10,423.29 L308.40,423.26 L308.70,423.24 L309.00,423.22 L309.30,423.20 L309.60,423.18 L309.90,423.16 L310.20,423.13 L310.50,423.11 L310.80,423.09 L311.10,423.07 L311.40,423.05 L311.70,423.02 L312.00,423.00 L312.30,422.98 L312.60,422.95 L312.90,422.93 L313.20,422.90 L313.50,422.87 L313.80,422.84 L314.10,422.81 L314.40,422.77 L314.70,422.74 L315.00,422.70 L315.30,422.66 L315.60,422.63 L315.90,422.59 L316.20,422.55 L316.50,422.50 L316.80,422.46 L317.10,422.42 L317.40,422.37 L317.70,422.33 L318.00,422.28 L318.30,422.23 L318.60,422.19 L318.90,422.14 L319.20,422.09 L319.50,422.04 L319.80,421.99 L320.10,421.93 L320.40,421.88 L320.70,421.83 L321.00,421.77 L321.30,421.72 L321.60,421.67 L321.90,421.61 L322.20,421.55 L322.50,421.50 L322.80,421.44 L323.10,421.39 L323.40,421.33 L323.70,421.27" fill="none" stroke="#0a0ac8" stroke-width="2.40" stroke-linejoin="round" stroke-linecap="round"/>
<path d="M37.80,468.27 L38.10,468.21 L38.40,468.15 L38.70,468.10 L39.00,468.04 L39.30,467.98 L39.60,467.93 L39.90,467.87 L40.20,467.82 L40.50,467.76 L40.80,467.70 L41.10,467.65 L41.40,467.59 L41.70,467.53 L42.00,467.48 L42.30,467.42 L42.60,467.37 L42.90,467.31 L43.20,467.25 L43.50,467.20 L43.80,467.14 L44.10,467.09 L44.40,467.03 L44.70,466.98 L45.00,466.92 L45.30,466.86 L45.60,466.81 L45.90,466.75 L46.20,466.70 L46.50,466.64 L46.80,466.59 L47.10,466.53 L47.40,466.48 L47.70,466.42 L48.00,466.37 L48.30,466.31 L48.60,466.26 L48.90,466.20 L49.20,466.15 L49.50,466.09 L49.80,466.04 L50.10,465.98 L50.40,465.93 L50.70,465.87 L51.00,465.82 L51.30,465.77 L51.60,465.72 L51.90,465.67 L52.20,465.62 L52.50,465.57 L52.80,465.52 L53.10,465.47 L53.40,465.42 L53.70,465.37 L54.00,465.32 L54.30,465.27 L54.60,465.23 L54.90,465.18 L55.20,465.13 L55.50,465.07 L55.80,465.02 L56.10,464.97 L56.40,464.92 L56.70,464.87 L57.00,464.81 L57.30,464.76 L57.60,464.70 L57.90,464.64 L58.20,464.58 L58.50,464.52 L58.80,464.46 L59.10,464.40 L59.40,464.33 L59.70,464.27 L60.00,464.20 L60.30,464.13 L60.60,464.06 L60.90,464.00 L61.20,463.93 L61.50,463.86 L61.80,463.79 L62.10,463.72 L62.40,463.65 L62.70,463.57 L63.00,463.50 L63.30,463.41 L63.60,463.32 L63.90,463.23 L64.20,463.13 L64.50,463.03 L64.80,462.92 L65.10,462.80 L65.40,462.68 L65.70,462.54 L66.00,462.40 L66.30,462.24 L66.60,462.04 L66.90,461.81 L67.20,461.55 L67.50,461.27 L67.80,460.96 L68.10,460.62 L68.40,460.26 L68.70,459.88 L69.00,459.47 L69.30,459.05 L69.60,458.61 L69.90,458.16 L70.20,457.66 L70.50,457.05 L70.80,456.36 L71.10,455.61 L71.40,454.83 L71.70,454.05 L72.00,453.30 L72.30,452.60 L72.60,451.93 L72.90,451.28 L73.20,450.63 L73.50,449.98 L73.80,449.30 L74.10,448.58 L74.40,447.80 L74.70,446.96 L75.00,446.03 L75.30,445.00 L75.60,443.83 L75.90,442.50 L76.20,440.99 L76.50,439.31 L76.80,437.46 L77.10,435.43 L77.40,433.23 L77.70,430.84 L78.00,428.12 L78.30,424.70 L78.60,420.73 L78.90,416.43 L79.20,412.00 L79.50,407.35 L79.80,402.30 L80.10,396.88 L80.40,391.13 L80.70,384.91 L81.00,378.00 L81.30,369.63 L81.60,360.50 L81.90,352.50 L82.20,345.30 L82.50,338.79 L82.80,333.21 L83.10,328.20 L83.40,325.27 L83.70,323.64 L84.00,324.03 L84.30,326.00 L84.60,329.78 L84.90,335.00 L85.20,340.41 L85.50,346.39 L85.80,352.79 L86.10,359.60 L86.40,366.99 L86.70,374.74 L87.00,382.77 L87.30,391.94 L87.60,400.63 L87.90,406.70 L88.20,411.18 L88.50,414.91 L88.80,418.08 L89.10,420.90 L89.40,423.32 L89.70,425.44 L90.00,427.47 L90.30,429.60 L90.60,431.92 L90.90,434.33 L91.20,436.72 L91.50,438.98 L91.80,441.00 L92.10,442.86 L92.40,444.65 L92.70,446.30 L93.00,447.74 L93.30,448.90 L93.60,449.84 L93.90,450.67 L94.20,451.43 L94.50,452.10 L94.80,452.72 L95.10,453.29 L95.40,453.83 L95.70,454.34 L96.00,454.85 L96.30,455.35 L96.60,455.81 L96.90,456.22 L97.20,456.58 L97.50,456.86 L97.80,457.06 L98.10,457.23 L98.40,457.38 L98.70,457.53 L99.00,457.66 L99.30,457.78 L99.60,457.88 L99.90,457.97 L100.20,458.05 L100.50,458.12 L100.80,458.17 L101.10,458.21 L101.40,458.25 L101.70,458.28 L102.00,458.32 L102.30,458.35 L102.60,458.38 L102.90,458.40 L103.20,458.43 L103.50,458.45 L103.80,458.46 L104.10,458.48 L104.40,458.49 L104.70,458.50 L105.00,458.50 L105.30,458.50 L105.60,458.50 L105.90,458.50 L106.20,458.50 L106.50,458.50 L106.80,458.50 L107.10,458.50 L107.40,458.50 L107.70,458.50 L108.00,458.50 L108.30,458.50 L108.60,458.50 L108.90,458.50 L109.20,458.50 L109.50,458.50 L109.80,458.50 L110.10,458.50 L110.40,458.50 L110.70,458.50 L111.00,458.50 L111.30,458.50 L111.60,458.50 L111.90,458.49 L112.20,458.49 L112.50,458.49 L112.80,458.49 L113.10,458.49 L113.40,458.49 L113.70,458.49 L114.00,458.49 L114.30,458.49 L114.60,458.49 L114.90,458.48 L115.20,458.48 L115.50,458.48 L115.80,458.48 L116.10,458.48 L116.40,458.47 L116.70,458.47 L117.00,458.47 L117.30,458.47 L117.60,458.47 L117.90,458.46 L118.20,458.46 L118.50,458.46 L118.80,458.46 L119.10,458.45 L119.40,458.45 L119.70,458.45 L120.00,458.44 L120.30,458.44 L120.60,458.44 L120.90,458.43 L121.20,458.43 L121.50,458.42 L121.80,458.42 L122.10,458.41 L122.40,458.41 L122.70,458.40" fill="none" stroke="#7a7a7a" stroke-width="1.70" stroke-linejoin="round" stroke-linecap="round"/>
<path d="M140.00,454.40 L140.30,454.33 L140.60,454.25 L140.90,454.18 L141.20,454.10 L141.50,454.03 L141.80,453.95 L142.10,453.88 L142.40,453.80 L142.70,453.72 L143.00,453.65 L143.30,453.57 L143.60,453.50 L143.90,453.42 L144.20,453.35 L144.50,453.27 L144.80,453.20 L145.10,453.12 L145.40,453.05 L145.70,452.97 L146.00,452.89 L146.30,452.82 L146.60,452.74 L146.90,452.67 L147.20,452.59 L147.50,452.51 L147.80,452.44 L148.10,452.36 L148.40,452.29 L148.70,452.21 L149.00,452.13 L149.30,452.06 L149.60,451.98 L149.90,451.90 L150.20,451.83 L150.50,451.75 L150.80,451.68 L151.10,451.60 L151.40,451.52 L151.70,451.45 L152.00,451.37 L152.30,451.29 L152.60,451.22 L152.90,451.14 L153.20,451.06 L153.50,450.98 L153.80,450.91 L154.10,450.83 L154.40,450.75 L154.70,450.68 L155.00,450.60 L155.30,450.52 L155.60,450.45 L155.90,450.37 L156.20,450.29 L156.50,450.22 L156.80,450.14 L157.10,450.06 L157.40,449.99 L157.70,449.91 L158.00,449.83 L158.30,449.76 L158.60,449.68 L158.90,449.60 L159.20,449.53 L159.50,449.45 L159.80,449.37 L160.10,449.29 L160.40,449.22 L160.70,449.14 L161.00,449.06 L161.30,448.98 L161.60,448.91 L161.90,448.83 L162.20,448.75 L162.50,448.67 L162.80,448.59 L163.10,448.51 L163.40,448.43 L163.70,448.35 L164.00,448.27 L164.30,448.19 L164.60,448.11 L164.90,448.03 L165.20,447.95 L165.50,447.87 L165.80,447.80 L166.10,447.73 L166.40,447.66 L166.70,447.59 L167.00,447.53 L167.30,447.46 L167.60,447.40 L167.90,447.33 L168.20,447.26 L168.50,447.20 L168.80,447.12 L169.10,447.05 L169.40,446.97 L169.70,446.88 L170.00,446.79 L170.30,446.69 L170.60,446.59 L170.90,446.48 L171.20,446.36 L171.50,446.23 L171.80,446.10 L172.10,445.95 L172.40,445.73 L172.70,445.45 L173.00,445.11 L173.30,444.74 L173.60,444.34 L173.90,443.94 L174.20,443.54 L174.50,443.15 L174.80,442.81 L175.10,442.50 L175.40,442.23 L175.70,441.97 L176.00,441.72 L176.30,441.48 L176.60,441.26 L176.90,441.03 L177.20,440.82 L177.50,440.60 L177.80,440.38 L178.10,440.16 L178.40,439.93 L178.70,439.69 L179.00,439.45 L179.30,439.19 L179.60,438.91 L179.90,438.62 L180.20,438.30 L180.50,437.96 L180.80,437.59 L181.10,437.19 L181.40,436.77 L181.70,436.32 L182.00,435.86 L182.30,435.38 L182.60,434.88 L182.90,434.37 L183.20,433.85 L183.50,433.32 L183.80,432.77 L184.10,432.19 L184.40,431.58 L184.70,430.93 L185.00,430.23 L185.30,429.47 L185.60,428.62 L185.90,427.64 L186.20,426.55 L186.50,425.37 L186.80,424.15 L187.10,422.91 L187.40,421.66 L187.70,420.34 L188.00,418.96 L188.30,417.57 L188.60,416.20 L188.90,414.81 L189.20,413.39 L189.50,411.96 L189.80,410.59 L190.10,409.29 L190.40,408.11 L190.70,406.94 L191.00,405.84 L191.30,404.93 L191.60,404.33 L191.90,403.83 L192.20,403.45 L192.50,403.30 L192.80,403.50 L193.10,403.98 L193.40,404.59 L193.70,405.26 L194.00,406.13 L194.30,407.15 L194.60,408.26 L194.90,409.38 L195.20,410.61 L195.50,411.94 L195.80,413.35 L196.10,414.78 L196.40,416.19 L196.70,417.54 L197.00,418.80 L197.30,419.97 L197.60,421.11 L197.90,422.21 L198.20,423.28 L198.50,424.32 L198.80,425.34 L199.10,426.33 L199.40,427.36 L199.70,428.39 L200.00,429.38 L200.30,430.31 L200.60,431.13 L200.90,431.80 L201.20,432.37 L201.50,432.91 L201.80,433.42 L202.10,433.91 L202.40,434.37 L202.70,434.80 L203.00,435.20 L203.30,435.57 L203.60,435.91 L203.90,436.23 L204.20,436.51 L204.50,436.77 L204.80,437.00 L205.10,437.21 L205.40,437.40 L205.70,437.59 L206.00,437.76 L206.30,437.93 L206.60,438.08 L206.90,438.22 L207.20,438.36 L207.50,438.48 L207.80,438.60 L208.10,438.71 L208.40,438.81 L208.70,438.90 L209.00,438.99 L209.30,439.07 L209.60,439.15 L209.90,439.22 L210.20,439.29 L210.50,439.35 L210.80,439.42 L211.10,439.48 L211.40,439.53 L211.70,439.59 L212.00,439.64 L212.30,439.69 L212.60,439.74 L212.90,439.78 L213.20,439.83 L213.50,439.88 L213.80,439.92 L214.10,439.96 L214.40,440.01 L214.70,440.05 L215.00,440.09 L215.30,440.13 L215.60,440.17 L215.90,440.21 L216.20,440.25 L216.50,440.28 L216.80,440.32 L217.10,440.35 L217.40,440.39 L217.70,440.42 L218.00,440.45 L218.30,440.47 L218.60,440.50 L218.90,440.53 L219.20,440.55 L219.50,440.57 L219.80,440.59" fill="none" stroke="#7a7a7a" stroke-width="1.70" stroke-linejoin="round" stroke-linecap="round"/>
<path d="M37.80,470.25 L38.10,470.08 L38.40,470.55 L38.70,469.83 L39.00,469.86 L39.30,470.60 L39.60,469.83 L39.90,469.56 L40.20,469.33 L40.50,469.75 L40.80,469.68 L41.10,469.98 L41.40,469.53 L41.70,469.92 L42.00,469.41 L42.30,470.29 L42.60,469.44 L42.90,469.76 L43.20,469.58 L43.50,468.70 L43.80,469.82 L44.10,469.07 L44.40,469.69 L44.70,468.21 L45.00,468.25 L45.30,468.14 L45.60,468.21 L45.90,468.87 L46.20,469.01 L46.50,468.50 L46.80,468.79 L47.10,468.59 L47.40,469.26 L47.70,469.21 L48.00,468.98 L48.30,469.12 L48.60,469.61 L48.90,469.06 L49.20,467.95 L49.50,468.57 L49.80,468.50 L50.10,469.02 L50.40,468.83 L50.70,468.99 L51.00,467.78 L51.30,469.21 L51.60,468.42 L51.90,468.95 L52.20,468.69 L52.50,467.99 L52.80,468.00 L53.10,468.67 L53.40,468.91 L53.70,467.86 L54.00,467.70 L54.30,467.21 L54.60,467.71 L54.90,467.76 L55.20,467.93 L55.50,468.31 L55.80,467.71 L56.10,467.34 L56.40,467.64 L56.70,467.72 L57.00,467.75 L57.30,467.67 L57.60,467.44 L57.90,467.72 L58.20,467.22 L58.50,466.76 L58.80,467.10 L59.10,468.01 L59.40,466.59 L59.70,468.10 L60.00,466.54 L60.30,467.04 L60.60,465.78 L60.90,466.42 L61.20,467.06 L61.50,465.66 L61.80,465.76 L62.10,466.15 L62.40,466.04 L62.70,465.01 L63.00,464.99 L63.30,465.62 L63.60,465.49 L63.90,465.56 L64.20,464.98 L64.50,465.22 L64.80,465.36 L65.10,464.02 L65.40,464.97 L65.70,464.68 L66.00,464.79 L66.30,463.80 L66.60,463.79 L66.90,463.65 L67.20,463.17 L67.50,463.67 L67.80,463.04 L68.10,462.18 L68.40,462.53 L68.70,461.59 L69.00,461.05 L69.30,461.00 L69.60,461.20 L69.90,460.91 L70.20,460.46 L70.50,460.43 L70.80,460.75 L71.10,458.89 L71.40,459.28 L71.70,458.82 L72.00,457.72 L72.30,457.68 L72.60,457.66 L72.90,457.20 L73.20,456.39 L73.50,456.76 L73.80,456.04 L74.10,455.72 L74.40,455.60 L74.70,453.53 L75.00,453.86 L75.30,452.73 L75.60,450.65 L75.90,448.81 L76.20,445.86 L76.50,442.43 L76.80,440.32" fill="none" stroke="#111111" stroke-width="1.40" stroke-linejoin="round" stroke-linecap="round"/>
<path d="M106.20,430.43 L106.50,430.81" fill="none" stroke="#111111" stroke-width="1.40" stroke-linejoin="round" stroke-linecap="round"/>
<path d="M109.80,433.33 L110.10,433.47" fill="none" stroke="#111111" stroke-width="1.40" stroke-linejoin="round" stroke-linecap="round"/>
<path d="M111.30,434.71 L111.60,434.79 L111.90,435.37" fill="none" stroke="#111111" stroke-width="1.40" stroke-linejoin="round" stroke-linecap="round"/>
<path d="M114.90,437.50 L115.20,437.67 L115.50,437.64" fill="none" stroke="#111111" stroke-width="1.40" stroke-linejoin="round" stroke-linecap="round"/>
<path d="M123.30,440.77 L123.60,440.90" fill="none" stroke="#111111" stroke-width="1.40" stroke-linejoin="round" stroke-linecap="round"/>
<path d="M133.80,442.38 L134.10,442.51" fill="none" stroke="#111111" stroke-width="1.40" stroke-linejoin="round" stroke-linecap="round"/>
<path d="M141.60,445.69 L141.90,445.39 L142.20,445.87 L142.50,445.62" fill="none" stroke="#111111" stroke-width="1.40" stroke-linejoin="round" stroke-linecap="round"/>
<path d="M143.40,445.58 L143.70,445.89" fill="none" stroke="#111111" stroke-width="1.40" stroke-linejoin="round" stroke-linecap="round"/>
<path d="M200.10,412.40 L200.40,411.98 L200.70,413.46 L201.00,413.79 L201.30,413.85 L201.60,414.41 L201.90,413.60 L202.20,414.92" fill="none" stroke="#111111" stroke-width="1.40" stroke-linejoin="round" stroke-linecap="round"/>
<path d="M203.40,415.96 L203.70,415.57 L204.00,416.53 L204.30,415.90" fill="none" stroke="#111111" stroke-width="1.40" stroke-linejoin="round" stroke-linecap="round"/>
<path d="M204.90,417.32 L205.20,416.88 L205.50,416.86" fill="none" stroke="#111111" stroke-width="1.40" stroke-linejoin="round" stroke-linecap="round"/>
<path d="M206.10,417.86 L206.40,418.43 L206.70,417.75 L207.00,418.33 L207.30,418.23" fill="none" stroke="#111111" stroke-width="1.40" stroke-linejoin="round" stroke-linecap="round"/>
<path d="M208.50,419.44 L208.80,418.82" fill="none" stroke="#111111" stroke-width="1.40" stroke-linejoin="round" stroke-linecap="round"/>
<path d="M209.40,418.65 L209.70,419.37 L210.00,419.66 L210.30,420.01" fill="none" stroke="#111111" stroke-width="1.40" stroke-linejoin="round" stroke-linecap="round"/>
<path d="M210.90,420.04 L211.20,419.30 L211.50,419.90 L211.80,419.87" fill="none" stroke="#111111" stroke-width="1.40" stroke-linejoin="round" stroke-linecap="round"/>
<path d="M213.90,420.90 L214.20,420.84 L214.50,421.11 L214.80,421.02" fill="none" stroke="#111111" stroke-width="1.40" stroke-linejoin="round" stroke-linecap="round"/>
<path d="M375.00,477.40 L375.30,477.40 L375.60,477.40 L375.90,477.40 L376.20,477.40 L376.50,477.40 L376.80,477.40 L377.10,477.40 L377.40,477.40 L377.70,477.40 L378.00,477.39 L378.30,477.39 L378.60,477.39 L378.90,477.39 L379.20,477.39 L379.50,477.39 L379.80,477.39 L380.10,477.39 L380.40,477.39 L380.70,477.38 L381.00,477.38 L381.30,477.38 L381.60,477.38 L381.90,477.38 L382.20,477.38 L382.50,477.37 L382.80,477.37 L383.10,477.37 L383.40,477.37 L383.70,477.37 L384.00,477.36 L384.30,477.36 L384.60,477.36 L384.90,477.36 L385.20,477.35 L385.50,477.35 L385.80,477.35 L386.10,477.35 L386.40,477.34 L386.70,477.34 L387.00,477.34 L387.30,477.34 L387.60,477.33 L387.90,477.33 L388.20,477.33 L388.50,477.32 L388.80,477.32 L389.10,477.32 L389.40,477.31 L389.70,477.31 L390.00,477.31 L390.30,477.31 L390.60,477.30 L390.90,477.30 L391.20,477.29 L391.50,477.29 L391.80,477.29 L392.10,477.28 L392.40,477.28 L392.70,477.28 L393.00,477.27 L393.30,477.27 L393.60,477.27 L393.90,477.26 L394.20,477.26 L394.50,477.25 L394.80,477.25 L395.10,477.25 L395.40,477.24 L395.70,477.24 L396.00,477.23 L396.30,477.23 L396.60,477.22 L396.90,477.22 L397.20,477.22 L397.50,477.21 L397.80,477.21 L398.10,477.20 L398.40,477.20 L398.70,477.19 L399.00,477.19 L399.30,477.18 L399.60,477.18 L399.90,477.18 L400.20,477.17 L400.50,477.17 L400.80,477.16 L401.10,477.16 L401.40,477.15 L401.70,477.15 L402.00,477.14 L402.30,477.14 L402.60,477.13 L402.90,477.13 L403.20,477.12 L403.50,477.12 L403.80,477.11 L404.10,477.11 L404.40,477.10 L404.70,477.10 L405.00,477.09 L405.30,477.09 L405.60,477.08 L405.90,477.07 L406.20,477.07 L406.50,477.06 L406.80,477.06 L407.10,477.05 L407.40,477.05 L407.70,477.04 L408.00,477.04 L408.30,477.03 L408.60,477.03 L408.90,477.02 L409.20,477.01 L409.50,477.01 L409.80,477.00 L410.10,477.00 L410.40,476.99 L410.70,476.99 L411.00,476.98 L411.30,476.97 L411.60,476.97 L411.90,476.96 L412.20,476.96 L412.50,476.95 L412.80,476.94 L413.10,476.94 L413.40,476.93 L413.70,476.92 L414.00,476.91 L414.30,476.91 L414.60,476.90 L414.90,476.89 L415.20,476.88 L415.50,476.88 L415.80,476.87 L416.10,476.86 L416.40,476.85 L416.70,476.84 L417.00,476.83 L417.30,476.82 L417.60,476.81 L417.90,476.80 L418.20,476.79 L418.50,476.78 L418.80,476.77 L419.10,476.76 L419.40,476.75 L419.70,476.74 L420.00,476.73 L420.30,476.72 L420.60,476.70 L420.90,476.69 L421.20,476.68 L421.50,476.67 L421.80,476.65 L422.10,476.64 L422.40,476.63 L422.70,476.61 L423.00,476.60 L423.30,476.59 L423.60,476.57 L423.90,476.56 L424.20,476.54 L424.50,476.52 L424.80,476.51 L425.10,476.49 L425.40,476.48 L425.70,476.46 L426.00,476.44 L426.30,476.42 L426.60,476.41 L426.90,476.39 L427.20,476.37 L427.50,476.35 L427.80,476.33 L428.10,476.31 L428.40,476.29 L428.70,476.27 L429.00,476.25 L429.30,476.23 L429.60,476.21 L429.90,476.18 L430.20,476.16 L430.50,476.14 L430.80,476.12 L431.10,476.09 L431.40,476.06 L431.70,476.03 L432.00,475.99 L432.30,475.94 L432.60,475.89 L432.90,475.83 L433.20,475.77 L433.50,475.71 L433.80,475.64 L434.10,475.56 L434.40,475.49 L434.70,475.41 L435.00,475.32 L435.30,475.23 L435.60,475.14 L435.90,475.05 L436.20,474.95 L436.50,474.86 L436.80,474.76 L437.10,474.66 L437.40,474.55 L437.70,474.45 L438.00,474.34 L438.30,474.24 L438.60,474.13 L438.90,474.03 L439.20,473.92 L439.50,473.81 L439.80,473.71 L440.10,473.60 L440.40,473.50 L440.70,473.39 L441.00,473.29 L441.30,473.19 L441.60,473.09 L441.90,473.00 L442.20,472.90 L442.50,472.81 L442.80,472.72 L443.10,472.64 L443.40,472.55 L443.70,472.48 L444.00,472.40 L444.30,472.33 L444.60,472.25 L444.90,472.18 L445.20,472.11 L445.50,472.04 L445.80,471.96 L446.10,471.89 L446.40,471.82 L446.70,471.75 L447.00,471.68 L447.30,471.61 L447.60,471.54 L447.90,471.47 L448.20,471.40 L448.50,471.33 L448.80,471.27 L449.10,471.20 L449.40,471.13 L449.70,471.06 L450.00,470.99 L450.30,470.93 L450.60,470.86 L450.90,470.80 L451.20,470.73 L451.50,470.67 L451.80,470.60 L452.10,470.54 L452.40,470.47 L452.70,470.41 L453.00,470.35 L453.30,470.28 L453.60,470.22 L453.90,470.16 L454.20,470.10 L454.50,470.04 L454.80,469.98 L455.10,469.92 L455.40,469.86 L455.70,469.80 L456.00,469.74 L456.30,469.68 L456.60,469.62 L456.90,469.56 L457.20,469.51 L457.50,469.45 L457.80,469.39 L458.10,469.34 L458.40,469.28 L458.70,469.23 L459.00,469.18 L459.30,469.12 L459.60,469.07 L459.90,469.02 L460.20,468.97 L460.50,468.91 L460.80,468.86 L461.10,468.81 L461.40,468.76 L461.70,468.71 L462.00,468.66 L462.30,468.61 L462.60,468.56 L462.90,468.51 L463.20,468.46 L463.50,468.41 L463.80,468.37 L464.10,468.32 L464.40,468.27 L464.70,468.22 L465.00,468.18 L465.30,468.13 L465.60,468.08 L465.90,468.04 L466.20,467.99 L466.50,467.95 L466.80,467.90 L467.10,467.86 L467.40,467.81 L467.70,467.77 L468.00,467.73 L468.30,467.68 L468.60,467.64 L468.90,467.60 L469.20,467.55 L469.50,467.51 L469.80,467.47 L470.10,467.43 L470.40,467.39 L470.70,467.35 L471.00,467.31 L471.30,467.27 L471.60,467.23 L471.90,467.19 L472.20,467.15 L472.50,467.11 L472.80,467.07 L473.10,467.03 L473.40,467.00 L473.70,466.96 L474.00,466.92 L474.30,466.88 L474.60,466.85 L474.90,466.81 L475.20,466.78 L475.50,466.74 L475.80,466.71 L476.10,466.67 L476.40,466.64 L476.70,466.60 L477.00,466.57 L477.30,466.54 L477.60,466.50 L477.90,466.47 L478.20,466.44 L478.50,466.41 L478.80,466.37 L479.10,466.34 L479.40,466.31 L479.70,466.28 L480.00,466.25 L480.30,466.22 L480.60,466.19 L480.90,466.16 L481.20,466.13 L481.50,466.10 L481.80,466.07 L482.10,466.04 L482.40,466.01 L482.70,465.98 L483.00,465.95 L483.30,465.92 L483.60,465.89 L483.90,465.87 L484.20,465.84 L484.50,465.81 L484.80,465.78 L485.10,465.75 L485.40,465.72 L485.70,465.70 L486.00,465.67 L486.30,465.64 L486.60,465.61 L486.90,465.59 L487.20,465.56 L487.50,465.53 L487.80,465.50 L488.10,465.47 L488.40,465.45 L488.70,465.42 L489.00,465.39 L489.30,465.36 L489.60,465.34 L489.90,465.31 L490.20,465.28 L490.50,465.25 L490.80,465.23 L491.10,465.20 L491.40,465.17 L491.70,465.14 L492.00,465.11 L492.30,465.08 L492.60,465.05 L492.90,465.02 L493.20,464.99 L493.50,464.96 L493.80,464.93 L494.10,464.90 L494.40,464.87 L494.70,464.84 L495.00,464.81 L495.30,464.78 L495.60,464.75 L495.90,464.72 L496.20,464.69 L496.50,464.66 L496.80,464.64 L497.10,464.61 L497.40,464.58 L497.70,464.55 L498.00,464.52 L498.30,464.49 L498.60,464.46 L498.90,464.43 L499.20,464.40 L499.50,464.37 L499.80,464.34 L500.10,464.32 L500.40,464.29 L500.70,464.26 L501.00,464.23 L501.30,464.20 L501.60,464.18 L501.90,464.15 L502.20,464.13 L502.50,464.10 L502.80,464.07 L503.10,464.05 L503.40,464.02 L503.70,464.00 L504.00,463.97 L504.30,463.95 L504.60,463.93 L504.90,463.91 L505.20,463.88 L505.50,463.86 L505.80,463.84 L506.10,463.82 L506.40,463.80 L506.70,463.78 L507.00,463.76 L507.30,463.74 L507.60,463.72 L507.90,463.70 L508.20,463.69 L508.50,463.67 L508.80,463.66 L509.10,463.64 L509.40,463.63 L509.70,463.61 L510.00,463.60 L510.30,463.59 L510.60,463.58 L510.90,463.56 L511.20,463.55 L511.50,463.54 L511.80,463.53 L512.10,463.53 L512.40,463.52 L512.70,463.51 L513.00,463.50 L513.30,463.49 L513.60,463.48 L513.90,463.48 L514.20,463.47 L514.50,463.46 L514.80,463.45 L515.10,463.45 L515.40,463.44 L515.70,463.43 L516.00,463.43 L516.30,463.42 L516.60,463.41 L516.90,463.40 L517.20,463.39 L517.50,463.39 L517.80,463.38 L518.10,463.37 L518.40,463.36 L518.70,463.35 L519.00,463.34 L519.30,463.33 L519.60,463.32 L519.90,463.30 L520.20,463.29 L520.50,463.28 L520.80,463.26 L521.10,463.25 L521.40,463.23 L521.70,463.22 L522.00,463.20 L522.30,463.18 L522.60,463.16 L522.90,463.14 L523.20,463.12 L523.50,463.10 L523.80,463.08 L524.10,463.06 L524.40,463.04 L524.70,463.02 L525.00,463.00 L525.30,462.97 L525.60,462.95 L525.90,462.93 L526.20,462.90 L526.50,462.88 L526.80,462.86 L527.10,462.83 L527.40,462.81 L527.70,462.78 L528.00,462.76 L528.30,462.74 L528.60,462.71 L528.90,462.69 L529.20,462.66 L529.50,462.64 L529.80,462.62 L530.10,462.59 L530.40,462.57 L530.70,462.55 L531.00,462.52 L531.30,462.50 L531.60,462.48 L531.90,462.45 L532.20,462.43 L532.50,462.41 L532.80,462.39 L533.10,462.36 L533.40,462.34 L533.70,462.32 L534.00,462.29 L534.30,462.27 L534.60,462.25 L534.90,462.22 L535.20,462.20 L535.50,462.17 L535.80,462.15 L536.10,462.12 L536.40,462.10 L536.70,462.07 L537.00,462.04 L537.30,462.01 L537.60,461.99 L537.90,461.96 L538.20,461.93 L538.50,461.90 L538.80,461.86 L539.10,461.83 L539.40,461.80 L539.70,461.76 L540.00,461.73 L540.30,461.69 L540.60,461.65 L540.90,461.61 L541.20,461.57 L541.50,461.53 L541.80,461.48 L542.10,461.44 L542.40,461.39 L542.70,461.33 L543.00,461.28 L543.30,461.22 L543.60,461.16 L543.90,461.10 L544.20,461.03 L544.50,460.97 L544.80,460.90 L545.10,460.83 L545.40,460.76 L545.70,460.69 L546.00,460.61 L546.30,460.54 L546.60,460.46 L546.90,460.38 L547.20,460.30 L547.50,460.22 L547.80,460.14 L548.10,460.05 L548.40,459.97 L548.70,459.88 L549.00,459.79 L549.30,459.71 L549.60,459.62 L549.90,459.53 L550.20,459.44 L550.50,459.35 L550.80,459.25 L551.10,459.15 L551.40,459.04 L551.70,458.93 L552.00,458.82 L552.30,458.71 L552.60,458.59 L552.90,458.47 L553.20,458.35 L553.50,458.22 L553.80,458.10 L554.10,457.97 L554.40,457.84 L554.70,457.71 L555.00,457.58 L555.30,457.45 L555.60,457.32 L555.90,457.18 L556.20,457.05 L556.50,456.92 L556.80,456.78 L557.10,456.65 L557.40,456.52 L557.70,456.39 L558.00,456.26 L558.30,456.12 L558.60,455.98 L558.90,455.84 L559.20,455.70 L559.50,455.55 L559.80,455.40 L560.10,455.24 L560.40,455.09 L560.70,454.93 L561.00,454.78 L561.30,454.62 L561.60,454.47 L561.90,454.31 L562.20,454.16 L562.50,454.00 L562.80,453.85 L563.10,453.71 L563.40,453.56 L563.70,453.42 L564.00,453.28 L564.30,453.15 L564.60,453.02 L564.90,452.90 L565.20,452.78 L565.50,452.67 L565.80,452.57 L566.10,452.47 L566.40,452.37 L566.70,452.28 L567.00,452.18 L567.30,452.09 L567.60,452.00 L567.90,451.91 L568.20,451.82 L568.50,451.73 L568.80,451.65 L569.10,451.57 L569.40,451.49 L569.70,451.42 L570.00,451.35 L570.30,451.28 L570.60,451.22 L570.90,451.16 L571.20,451.11 L571.50,451.07 L571.80,451.02 L572.10,450.99 L572.40,450.95 L572.70,450.92 L573.00,450.89 L573.30,450.86 L573.60,450.82 L573.90,450.79 L574.20,450.76 L574.50,450.73 L574.80,450.71 L575.10,450.68 L575.40,450.66 L575.70,450.63 L576.00,450.61 L576.30,450.59 L576.60,450.57 L576.90,450.55 L577.20,450.54 L577.50,450.53 L577.80,450.52 L578.10,450.51 L578.40,450.50 L578.70,450.50 L579.00,450.50 L579.30,450.51 L579.60,450.52 L579.90,450.53 L580.20,450.56 L580.50,450.58 L580.80,450.62 L581.10,450.65 L581.40,450.69 L581.70,450.74 L582.00,450.78 L582.30,450.83 L582.60,450.89 L582.90,450.95 L583.20,451.00 L583.50,451.06 L583.80,451.13 L584.10,451.19 L584.40,451.25 L584.70,451.32 L585.00,451.38 L585.30,451.45 L585.60,451.51 L585.90,451.58 L586.20,451.64 L586.50,451.71 L586.80,451.79 L587.10,451.87 L587.40,451.96 L587.70,452.05 L588.00,452.15 L588.30,452.24 L588.60,452.35 L588.90,452.45 L589.20,452.56 L589.50,452.67 L589.80,452.78 L590.10,452.89 L590.40,453.01 L590.70,453.12 L591.00,453.24 L591.30,453.36 L591.60,453.47 L591.90,453.58 L592.20,453.70 L592.50,453.81 L592.80,453.92 L593.10,454.03 L593.40,454.13 L593.70,454.23 L594.00,454.34 L594.30,454.44 L594.60,454.54 L594.90,454.65 L595.20,454.75 L595.50,454.86 L595.80,454.96 L596.10,455.07 L596.40,455.17 L596.70,455.28 L597.00,455.38 L597.30,455.49 L597.60,455.59 L597.90,455.70 L598.20,455.80 L598.50,455.90 L598.80,456.00 L599.10,456.11 L599.40,456.20 L599.70,456.30 L600.00,456.40 L600.30,456.49 L600.60,456.59 L600.90,456.68 L601.20,456.77 L601.50,456.86 L601.80,456.94 L602.10,457.03 L602.40,457.11 L602.70,457.19 L603.00,457.27 L603.30,457.36 L603.60,457.44 L603.90,457.52 L604.20,457.60 L604.50,457.67 L604.80,457.75 L605.10,457.83 L605.40,457.90 L605.70,457.98 L606.00,458.05 L606.30,458.12 L606.60,458.20 L606.90,458.27 L607.20,458.34 L607.50,458.41 L607.80,458.47 L608.10,458.54 L608.40,458.60 L608.70,458.67 L609.00,458.73 L609.30,458.79 L609.60,458.85 L609.90,458.91 L610.20,458.96 L610.50,459.02 L610.80,459.07 L611.10,459.13 L611.40,459.18 L611.70,459.24 L612.00,459.29 L612.30,459.34 L612.60,459.40 L612.90,459.45 L613.20,459.50 L613.50,459.55 L613.80,459.61 L614.10,459.66 L614.40,459.71 L614.70,459.76 L615.00,459.81 L615.30,459.86 L615.60,459.91 L615.90,459.96 L616.20,460.01 L616.50,460.06 L616.80,460.10 L617.10,460.15 L617.40,460.20 L617.70,460.24 L618.00,460.29 L618.30,460.33 L618.60,460.37 L618.90,460.42 L619.20,460.46 L619.50,460.50 L619.80,460.54 L620.10,460.58 L620.40,460.62 L620.70,460.65 L621.00,460.69 L621.30,460.73 L621.60,460.76 L621.90,460.80 L622.20,460.83 L622.50,460.86 L622.80,460.89 L623.10,460.92 L623.40,460.95 L623.70,460.98 L624.00,461.01 L624.30,461.03 L624.60,461.05 L624.90,461.08 L625.20,461.10 L625.50,461.12 L625.80,461.14 L626.10,461.16 L626.40,461.18 L626.70,461.20 L627.00,461.22 L627.30,461.24 L627.60,461.26 L627.90,461.28 L628.20,461.30 L628.50,461.32 L628.80,461.34 L629.10,461.36 L629.40,461.38 L629.70,461.39 L630.00,461.41 L630.30,461.43 L630.60,461.45 L630.90,461.46 L631.20,461.48 L631.50,461.49 L631.80,461.51 L632.10,461.53 L632.40,461.54 L632.70,461.56 L633.00,461.57 L633.30,461.58 L633.60,461.60 L633.90,461.61 L634.20,461.62 L634.50,461.64 L634.80,461.65 L635.10,461.66 L635.40,461.67 L635.70,461.68 L636.00,461.70 L636.30,461.71 L636.60,461.72 L636.90,461.73 L637.20,461.73 L637.50,461.74 L637.80,461.75 L638.10,461.76 L638.40,461.77 L638.70,461.77 L639.00,461.78 L639.30,461.79 L639.60,461.79 L639.90,461.80 L640.20,461.80 L640.50,461.81 L640.80,461.81 L641.10,461.82 L641.40,461.82 L641.70,461.83 L642.00,461.83 L642.30,461.84 L642.60,461.84 L642.90,461.85 L643.20,461.85 L643.50,461.85 L643.80,461.86 L644.10,461.86 L644.40,461.87 L644.70,461.87 L645.00,461.88 L645.30,461.88 L645.60,461.88 L645.90,461.89 L646.20,461.89 L646.50,461.90 L646.80,461.90 L647.10,461.90 L647.40,461.91 L647.70,461.91 L648.00,461.91 L648.30,461.92 L648.60,461.92 L648.90,461.93 L649.20,461.93 L649.50,461.93 L649.80,461.94 L650.10,461.94 L650.40,461.94 L650.70,461.94 L651.00,461.95 L651.30,461.95 L651.60,461.95 L651.90,461.96 L652.20,461.96 L652.50,461.96 L652.80,461.96 L653.10,461.97 L653.40,461.97 L653.70,461.97 L654.00,461.97 L654.30,461.98 L654.60,461.98 L654.90,461.98 L655.20,461.98 L655.50,461.98 L655.80,461.98 L656.10,461.99 L656.40,461.99 L656.70,461.99 L657.00,461.99 L657.30,461.99 L657.60,461.99 L657.90,461.99 L658.20,462.00 L658.50,462.00 L658.80,462.00 L659.10,462.00 L659.40,462.00 L659.70,462.00 L660.00,462.00 L660.30,462.00 L660.60,462.00" fill="none" stroke="#f01818" stroke-width="1.90" stroke-linejoin="round" stroke-linecap="round"/>
<path d="M375.00,476.59 L375.30,476.59 L375.60,476.59 L375.90,476.59 L376.20,476.58 L376.50,476.58 L376.80,476.58 L377.10,476.58 L377.40,476.58 L377.70,476.57 L378.00,476.57 L378.30,476.57 L378.60,476.57 L378.90,476.57 L379.20,476.56 L379.50,476.56 L379.80,476.56 L380.10,476.56 L380.40,476.56 L380.70,476.56 L381.00,476.55 L381.30,476.55 L381.60,476.55 L381.90,476.55 L382.20,476.55 L382.50,476.55 L382.80,476.54 L383.10,476.54 L383.40,476.54 L383.70,476.54 L384.00,476.54 L384.30,476.54 L384.60,476.54 L384.90,476.53 L385.20,476.53 L385.50,476.53 L385.80,476.53 L386.10,476.53 L386.40,476.53 L386.70,476.53 L387.00,476.53 L387.30,476.53 L387.60,476.52 L387.90,476.52 L388.20,476.52 L388.50,476.52 L388.80,476.52 L389.10,476.52 L389.40,476.52 L389.70,476.52 L390.00,476.52 L390.30,476.52 L390.60,476.52 L390.90,476.52 L391.20,476.51 L391.50,476.51 L391.80,476.51 L392.10,476.51 L392.40,476.51 L392.70,476.51 L393.00,476.51 L393.30,476.51 L393.60,476.51 L393.90,476.51 L394.20,476.51 L394.50,476.51 L394.80,476.51 L395.10,476.51 L395.40,476.51 L395.70,476.51 L396.00,476.51 L396.30,476.51 L396.60,476.51 L396.90,476.50 L397.20,476.50 L397.50,476.50 L397.80,476.50 L398.10,476.50 L398.40,476.50 L398.70,476.50 L399.00,476.50 L399.30,476.50 L399.60,476.50 L399.90,476.50 L400.20,476.50 L400.50,476.50 L400.80,476.50 L401.10,476.50 L401.40,476.50 L401.70,476.50 L402.00,476.50 L402.30,476.50 L402.60,476.50 L402.90,476.50 L403.20,476.50 L403.50,476.50 L403.80,476.50 L404.10,476.50 L404.40,476.50 L404.70,476.50 L405.00,476.50 L405.30,476.50 L405.60,476.50 L405.90,476.50 L406.20,476.50 L406.50,476.50 L406.80,476.50 L407.10,476.50 L407.40,476.50 L407.70,476.50 L408.00,476.50 L408.30,476.50 L408.60,476.50 L408.90,476.50 L409.20,476.50 L409.50,476.50 L409.80,476.50 L410.10,476.50 L410.40,476.50 L410.70,476.50 L411.00,476.50 L411.30,476.50 L411.60,476.50 L411.90,476.50 L412.20,476.51 L412.50,476.51 L412.80,476.51 L413.10,476.51 L413.40,476.51 L413.70,476.52 L414.00,476.52 L414.30,476.52 L414.60,476.52 L414.90,476.53 L415.20,476.53 L415.50,476.53 L415.80,476.53 L416.10,476.54 L416.40,476.54 L416.70,476.54 L417.00,476.55 L417.30,476.55 L417.60,476.55 L417.90,476.55 L418.20,476.56 L418.50,476.56 L418.80,476.56 L419.10,476.57 L419.40,476.57 L419.70,476.57 L420.00,476.57 L420.30,476.58 L420.60,476.58 L420.90,476.58 L421.20,476.58 L421.50,476.59 L421.80,476.59 L422.10,476.59 L422.40,476.59 L422.70,476.59 L423.00,476.60 L423.30,476.60 L423.60,476.60 L423.90,476.60 L424.20,476.60 L424.50,476.60 L424.80,476.60 L425.10,476.60 L425.40,476.59 L425.70,476.58 L426.00,476.56 L426.30,476.53 L426.60,476.50 L426.90,476.46 L427.20,476.42 L427.50,476.37 L427.80,476.32 L428.10,476.26 L428.40,476.20 L428.70,476.14 L429.00,476.08 L429.30,476.01 L429.60,475.95 L429.90,475.88 L430.20,475.81 L430.50,475.74 L430.80,475.67 L431.10,475.60 L431.40,475.53 L431.70,475.46 L432.00,475.40 L432.30,475.34 L432.60,475.27 L432.90,475.20 L433.20,475.13 L433.50,475.06 L433.80,474.98 L434.10,474.91 L434.40,474.83 L434.70,474.75 L435.00,474.67 L435.30,474.58 L435.60,474.50 L435.90,474.41 L436.20,474.33 L436.50,474.24 L436.80,474.15 L437.10,474.06 L437.40,473.97 L437.70,473.88 L438.00,473.79 L438.30,473.70 L438.60,473.60 L438.90,473.51 L439.20,473.42 L439.50,473.32 L439.80,473.23 L440.10,473.13 L440.40,473.04 L440.70,472.95 L441.00,472.85 L441.30,472.76 L441.60,472.67 L441.90,472.57 L442.20,472.48 L442.50,472.39 L442.80,472.30 L443.10,472.21 L443.40,472.12 L443.70,472.03 L444.00,471.94 L444.30,471.85 L444.60,471.76 L444.90,471.67 L445.20,471.58 L445.50,471.49 L445.80,471.39 L446.10,471.30 L446.40,471.21 L446.70,471.12 L447.00,471.03 L447.30,470.93 L447.60,470.84 L447.90,470.75 L448.20,470.65 L448.50,470.56 L448.80,470.46 L449.10,470.37 L449.40,470.27 L449.70,470.17 L450.00,470.07 L450.30,469.97 L450.60,469.88 L450.90,469.78 L451.20,469.67 L451.50,469.57 L451.80,469.47 L452.10,469.37 L452.40,469.26 L452.70,469.16 L453.00,469.05 L453.30,468.94 L453.60,468.84 L453.90,468.73 L454.20,468.62 L454.50,468.51 L454.80,468.40 L455.10,468.29 L455.40,468.18 L455.70,468.07 L456.00,467.96 L456.30,467.85 L456.60,467.73 L456.90,467.62 L457.20,467.50 L457.50,467.38 L457.80,467.26 L458.10,467.14 L458.40,467.02 L458.70,466.90 L459.00,466.78 L459.30,466.65 L459.60,466.53 L459.90,466.40 L460.20,466.27 L460.50,466.14 L460.80,466.01 L461.10,465.88 L461.40,465.75 L461.70,465.61 L462.00,465.47 L462.30,465.33 L462.60,465.19 L462.90,465.05 L463.20,464.91 L463.50,464.76 L463.80,464.61 L464.10,464.46 L464.40,464.31 L464.70,464.16 L465.00,464.01 L465.30,463.85 L465.60,463.70 L465.90,463.54 L466.20,463.38 L466.50,463.22 L466.80,463.06 L467.10,462.90 L467.40,462.73 L467.70,462.57 L468.00,462.40 L468.30,462.23 L468.60,462.06 L468.90,461.88 L469.20,461.70 L469.50,461.52 L469.80,461.33 L470.10,461.14 L470.40,460.95 L470.70,460.76 L471.00,460.57 L471.30,460.37 L471.60,460.17 L471.90,459.98 L472.20,459.78 L472.50,459.58 L472.80,459.39 L473.10,459.19 L473.40,458.99 L473.70,458.80 L474.00,458.61 L474.30,458.42 L474.60,458.23 L474.90,458.04 L475.20,457.85 L475.50,457.66 L475.80,457.47 L476.10,457.29 L476.40,457.10 L476.70,456.91 L477.00,456.72 L477.30,456.54 L477.60,456.35 L477.90,456.17 L478.20,455.98 L478.50,455.80 L478.80,455.62 L479.10,455.44 L479.40,455.26 L479.70,455.08 L480.00,454.90 L480.30,454.71 L480.60,454.52 L480.90,454.33 L481.20,454.14 L481.50,453.95 L481.80,453.77 L482.10,453.59 L482.40,453.42 L482.70,453.26 L483.00,453.11 L483.30,452.97 L483.60,452.84 L483.90,452.72 L484.20,452.61 L484.50,452.50 L484.80,452.40 L485.10,452.29 L485.40,452.20 L485.70,452.10 L486.00,452.02 L486.30,451.94 L486.60,451.87 L486.90,451.80 L487.20,451.75 L487.50,451.70 L487.80,451.66 L488.10,451.62 L488.40,451.58 L488.70,451.54 L489.00,451.51 L489.30,451.48 L489.60,451.45 L489.90,451.43 L490.20,451.41 L490.50,451.40 L490.80,451.40 L491.10,451.41 L491.40,451.42 L491.70,451.45 L492.00,451.49 L492.30,451.53 L492.60,451.58 L492.90,451.64 L493.20,451.70 L493.50,451.77 L493.80,451.84 L494.10,451.91 L494.40,451.98 L494.70,452.05 L495.00,452.13 L495.30,452.22 L495.60,452.33 L495.90,452.44 L496.20,452.56 L496.50,452.68 L496.80,452.82 L497.10,452.95 L497.40,453.09 L497.70,453.24 L498.00,453.38 L498.30,453.53 L498.60,453.68 L498.90,453.82 L499.20,453.97 L499.50,454.11 L499.80,454.25 L500.10,454.38 L500.40,454.53 L500.70,454.67 L501.00,454.82 L501.30,454.97 L501.60,455.12 L501.90,455.27 L502.20,455.43 L502.50,455.58 L502.80,455.73 L503.10,455.88 L503.40,456.03 L503.70,456.18 L504.00,456.33 L504.30,456.48 L504.60,456.62 L504.90,456.75 L505.20,456.89 L505.50,457.03 L505.80,457.16 L506.10,457.29 L506.40,457.43 L506.70,457.56 L507.00,457.69 L507.30,457.83 L507.60,457.95 L507.90,458.08 L508.20,458.21 L508.50,458.33 L508.80,458.45 L509.10,458.57 L509.40,458.68 L509.70,458.79 L510.00,458.90 L510.30,459.00 L510.60,459.10 L510.90,459.20 L511.20,459.30 L511.50,459.39 L511.80,459.49 L512.10,459.58 L512.40,459.67 L512.70,459.76 L513.00,459.85 L513.30,459.93 L513.60,460.02 L513.90,460.10 L514.20,460.18 L514.50,460.26 L514.80,460.33 L515.10,460.40 L515.40,460.47 L515.70,460.54 L516.00,460.60 L516.30,460.66 L516.60,460.72 L516.90,460.78 L517.20,460.84 L517.50,460.90 L517.80,460.96 L518.10,461.01 L518.40,461.07 L518.70,461.12 L519.00,461.18 L519.30,461.23 L519.60,461.28 L519.90,461.33 L520.20,461.37 L520.50,461.42 L520.80,461.46 L521.10,461.50 L521.40,461.54 L521.70,461.58 L522.00,461.62 L522.30,461.65 L522.60,461.68 L522.90,461.71 L523.20,461.74 L523.50,461.76 L523.80,461.79 L524.10,461.82 L524.40,461.84 L524.70,461.87 L525.00,461.89 L525.30,461.91 L525.60,461.94 L525.90,461.96 L526.20,461.98 L526.50,462.00 L526.80,462.02 L527.10,462.04 L527.40,462.06 L527.70,462.08 L528.00,462.10 L528.30,462.11 L528.60,462.13 L528.90,462.15 L529.20,462.17 L529.50,462.18 L529.80,462.20 L530.10,462.21 L530.40,462.23 L530.70,462.24 L531.00,462.26 L531.30,462.27 L531.60,462.28 L531.90,462.30 L532.20,462.31 L532.50,462.32 L532.80,462.33 L533.10,462.35 L533.40,462.36 L533.70,462.37 L534.00,462.39 L534.30,462.40 L534.60,462.41 L534.90,462.42 L535.20,462.44 L535.50,462.45 L535.80,462.46 L536.10,462.47 L536.40,462.48 L536.70,462.50 L537.00,462.51 L537.30,462.52 L537.60,462.53 L537.90,462.54 L538.20,462.55 L538.50,462.56 L538.80,462.57 L539.10,462.58 L539.40,462.59 L539.70,462.60 L540.00,462.61 L540.30,462.62 L540.60,462.63 L540.90,462.64 L541.20,462.64 L541.50,462.65 L541.80,462.66 L542.10,462.66 L542.40,462.67 L542.70,462.67 L543.00,462.68 L543.30,462.68 L543.60,462.69 L543.90,462.69 L544.20,462.69 L544.50,462.70 L544.80,462.70 L545.10,462.70 L545.40,462.70 L545.70,462.70 L546.00,462.70 L546.30,462.71 L546.60,462.71 L546.90,462.71 L547.20,462.71 L547.50,462.71 L547.80,462.71 L548.10,462.71 L548.40,462.71 L548.70,462.72 L549.00,462.72 L549.30,462.72 L549.60,462.72 L549.90,462.72 L550.20,462.72 L550.50,462.72 L550.80,462.72 L551.10,462.73 L551.40,462.73 L551.70,462.73 L552.00,462.73 L552.30,462.73 L552.60,462.73 L552.90,462.73 L553.20,462.73 L553.50,462.73 L553.80,462.74 L554.10,462.74 L554.40,462.74 L554.70,462.74 L555.00,462.74 L555.30,462.74 L555.60,462.74 L555.90,462.74 L556.20,462.74 L556.50,462.75 L556.80,462.75 L557.10,462.75 L557.40,462.75 L557.70,462.75 L558.00,462.75 L558.30,462.75 L558.60,462.75 L558.90,462.75 L559.20,462.76 L559.50,462.76 L559.80,462.76 L560.10,462.76 L560.40,462.76 L560.70,462.76 L561.00,462.76 L561.30,462.76 L561.60,462.76 L561.90,462.76 L562.20,462.77 L562.50,462.77 L562.80,462.77 L563.10,462.77 L563.40,462.77 L563.70,462.77 L564.00,462.77 L564.30,462.77 L564.60,462.77 L564.90,462.77 L565.20,462.78 L565.50,462.78 L565.80,462.78 L566.10,462.78 L566.40,462.78 L566.70,462.78 L567.00,462.78 L567.30,462.78 L567.60,462.78 L567.90,462.78 L568.20,462.78 L568.50,462.79 L568.80,462.79 L569.10,462.79 L569.40,462.79 L569.70,462.79 L570.00,462.79 L570.30,462.79 L570.60,462.79 L570.90,462.79 L571.20,462.79 L571.50,462.79 L571.80,462.79 L572.10,462.80 L572.40,462.80 L572.70,462.80 L573.00,462.80 L573.30,462.80 L573.60,462.80 L573.90,462.80 L574.20,462.80 L574.50,462.80 L574.80,462.80 L575.10,462.80 L575.40,462.80 L575.70,462.81 L576.00,462.81 L576.30,462.81 L576.60,462.81 L576.90,462.81 L577.20,462.81 L577.50,462.81 L577.80,462.81 L578.10,462.81 L578.40,462.81 L578.70,462.81 L579.00,462.81 L579.30,462.81 L579.60,462.82 L579.90,462.82 L580.20,462.82 L580.50,462.82 L580.80,462.82 L581.10,462.82 L581.40,462.82 L581.70,462.82 L582.00,462.82 L582.30,462.82 L582.60,462.82 L582.90,462.82 L583.20,462.82 L583.50,462.82 L583.80,462.83 L584.10,462.83 L584.40,462.83 L584.70,462.83 L585.00,462.83 L585.30,462.83 L585.60,462.83 L585.90,462.83 L586.20,462.83 L586.50,462.83 L586.80,462.83 L587.10,462.83 L587.40,462.83 L587.70,462.83 L588.00,462.83 L588.30,462.84 L588.60,462.84 L588.90,462.84 L589.20,462.84 L589.50,462.84 L589.80,462.84 L590.10,462.84 L590.40,462.84 L590.70,462.84 L591.00,462.84 L591.30,462.84 L591.60,462.84 L591.90,462.84 L592.20,462.84 L592.50,462.84 L592.80,462.84 L593.10,462.85 L593.40,462.85 L593.70,462.85 L594.00,462.85 L594.30,462.85 L594.60,462.85 L594.90,462.85 L595.20,462.85 L595.50,462.85 L595.80,462.85 L596.10,462.85 L596.40,462.85 L596.70,462.85 L597.00,462.85 L597.30,462.85 L597.60,462.85 L597.90,462.85 L598.20,462.85 L598.50,462.85 L598.80,462.86 L599.10,462.86 L599.40,462.86 L599.70,462.86 L600.00,462.86 L600.30,462.86 L600.60,462.86 L600.90,462.86 L601.20,462.86 L601.50,462.86 L601.80,462.86 L602.10,462.86 L602.40,462.86 L602.70,462.86 L603.00,462.86 L603.30,462.86 L603.60,462.86 L603.90,462.86 L604.20,462.86 L604.50,462.86 L604.80,462.86 L605.10,462.87 L605.40,462.87 L605.70,462.87 L606.00,462.87 L606.30,462.87 L606.60,462.87 L606.90,462.87 L607.20,462.87 L607.50,462.87 L607.80,462.87 L608.10,462.87 L608.40,462.87 L608.70,462.87 L609.00,462.87 L609.30,462.87 L609.60,462.87 L609.90,462.87 L610.20,462.87 L610.50,462.87 L610.80,462.87 L611.10,462.87 L611.40,462.87 L611.70,462.87 L612.00,462.87 L612.30,462.87 L612.60,462.87 L612.90,462.88 L613.20,462.88 L613.50,462.88 L613.80,462.88 L614.10,462.88 L614.40,462.88 L614.70,462.88 L615.00,462.88 L615.30,462.88 L615.60,462.88 L615.90,462.88 L616.20,462.88 L616.50,462.88 L616.80,462.88 L617.10,462.88 L617.40,462.88 L617.70,462.88 L618.00,462.88 L618.30,462.88 L618.60,462.88 L618.90,462.88 L619.20,462.88 L619.50,462.88 L619.80,462.88 L620.10,462.88 L620.40,462.88 L620.70,462.88 L621.00,462.88 L621.30,462.88 L621.60,462.88 L621.90,462.88 L622.20,462.88 L622.50,462.89 L622.80,462.89 L623.10,462.89 L623.40,462.89 L623.70,462.89 L624.00,462.89 L624.30,462.89 L624.60,462.89 L624.90,462.89 L625.20,462.89 L625.50,462.89 L625.80,462.89 L626.10,462.89 L626.40,462.89 L626.70,462.89 L627.00,462.89 L627.30,462.89 L627.60,462.89 L627.90,462.89 L628.20,462.89 L628.50,462.89 L628.80,462.89 L629.10,462.89 L629.40,462.89 L629.70,462.89 L630.00,462.89 L630.30,462.89 L630.60,462.89 L630.90,462.89 L631.20,462.89 L631.50,462.89 L631.80,462.89 L632.10,462.89 L632.40,462.89 L632.70,462.89 L633.00,462.89 L633.30,462.89 L633.60,462.89 L633.90,462.89 L634.20,462.89 L634.50,462.89 L634.80,462.89 L635.10,462.89 L635.40,462.89 L635.70,462.89 L636.00,462.89 L636.30,462.89 L636.60,462.89 L636.90,462.89 L637.20,462.89 L637.50,462.89 L637.80,462.90 L638.10,462.90 L638.40,462.90 L638.70,462.90 L639.00,462.90 L639.30,462.90 L639.60,462.90 L639.90,462.90 L640.20,462.90 L640.50,462.90 L640.80,462.90 L641.10,462.90 L641.40,462.90 L641.70,462.90 L642.00,462.90 L642.30,462.90 L642.60,462.90 L642.90,462.90 L643.20,462.90 L643.50,462.90 L643.80,462.90 L644.10,462.90 L644.40,462.90 L644.70,462.90 L645.00,462.90 L645.30,462.90 L645.60,462.90 L645.90,462.90 L646.20,462.90 L646.50,462.90 L646.80,462.90 L647.10,462.90 L647.40,462.90 L647.70,462.90 L648.00,462.90 L648.30,462.90 L648.60,462.90 L648.90,462.90 L649.20,462.90 L649.50,462.90 L649.80,462.90 L650.10,462.90 L650.40,462.90 L650.70,462.90 L651.00,462.90 L651.30,462.90 L651.60,462.90 L651.90,462.90 L652.20,462.90 L652.50,462.90 L652.80,462.90 L653.10,462.90 L653.40,462.90 L653.70,462.90 L654.00,462.90 L654.30,462.90 L654.60,462.90 L654.90,462.90 L655.20,462.90 L655.50,462.90 L655.80,462.90 L656.10,462.90 L656.40,462.90 L656.70,462.90 L657.00,462.90 L657.30,462.90 L657.60,462.90 L657.90,462.90 L658.20,462.90 L658.50,462.90 L658.80,462.90 L659.10,462.90 L659.40,462.90 L659.70,462.90 L660.00,462.90 L660.30,462.90 L660.60,462.90" fill="none" stroke="#7a7a7a" stroke-width="1.80" stroke-linejoin="round" stroke-linecap="round"/>
<path d="M375.00,475.20 L375.30,475.20 L375.60,475.19 L375.90,475.19 L376.20,475.19 L376.50,475.18 L376.80,475.18 L377.10,475.18 L377.40,475.17 L377.70,475.16 L378.00,475.16 L378.30,475.15 L378.60,475.14 L378.90,475.14 L379.20,475.13 L379.50,475.12 L379.80,475.11 L380.10,475.10 L380.40,475.09 L380.70,475.08 L381.00,475.07 L381.30,475.06 L381.60,475.04 L381.90,475.03 L382.20,475.02 L382.50,475.01 L382.80,474.99 L383.10,474.98 L383.40,474.96 L383.70,474.95 L384.00,474.94 L384.30,474.92 L384.60,474.90 L384.90,474.89 L385.20,474.87 L385.50,474.86 L385.80,474.84 L386.10,474.82 L386.40,474.80 L386.70,474.79 L387.00,474.77 L387.30,474.75 L387.60,474.73 L387.90,474.71 L388.20,474.69 L388.50,474.67 L388.80,474.65 L389.10,474.63 L389.40,474.61 L389.70,474.59 L390.00,474.57 L390.30,474.55 L390.60,474.53 L390.90,474.51 L391.20,474.49 L391.50,474.46 L391.80,474.44 L392.10,474.42 L392.40,474.40 L392.70,474.38 L393.00,474.35 L393.30,474.33 L393.60,474.31 L393.90,474.28 L394.20,474.26 L394.50,474.24 L394.80,474.22 L395.10,474.19 L395.40,474.17 L395.70,474.14 L396.00,474.12 L396.30,474.09 L396.60,474.06 L396.90,474.03 L397.20,474.00 L397.50,473.97 L397.80,473.93 L398.10,473.90 L398.40,473.86 L398.70,473.83 L399.00,473.79 L399.30,473.75 L399.60,473.71 L399.90,473.67 L400.20,473.62 L400.50,473.58 L400.80,473.54 L401.10,473.49 L401.40,473.44 L401.70,473.40 L402.00,473.35 L402.30,473.30 L402.60,473.24 L402.90,473.19 L403.20,473.14 L403.50,473.08 L403.80,473.03 L404.10,472.97 L404.40,472.91 L404.70,472.85 L405.00,472.79 L405.30,472.73 L405.60,472.66 L405.90,472.60 L406.20,472.53 L406.50,472.47 L406.80,472.40 L407.10,472.33 L407.40,472.26 L407.70,472.19 L408.00,472.11 L408.30,472.04 L408.60,471.97 L408.90,471.89 L409.20,471.81 L409.50,471.73 L409.80,471.65 L410.10,471.57 L410.40,471.49 L410.70,471.39 L411.00,471.29 L411.30,471.19 L411.60,471.07 L411.90,470.95 L412.20,470.83 L412.50,470.70 L412.80,470.56 L413.10,470.42 L413.40,470.27 L413.70,470.12 L414.00,469.96 L414.30,469.80 L414.60,469.64 L414.90,469.46 L415.20,469.29 L415.50,469.11 L415.80,468.92 L416.10,468.74 L416.40,468.54 L416.70,468.34 L417.00,468.13 L417.30,467.91 L417.60,467.68 L417.90,467.43 L418.20,467.16 L418.50,466.87 L418.80,466.56 L419.10,466.22 L419.40,465.86 L419.70,465.46 L420.00,464.99 L420.30,464.42 L420.60,463.78 L420.90,463.07 L421.20,462.30 L421.50,461.47 L421.80,460.60 L422.10,459.69 L422.40,458.63 L422.70,457.43 L423.00,456.13 L423.30,454.75 L423.60,453.34 L423.90,451.93 L424.20,450.48 L424.50,448.97 L424.80,447.40 L425.10,445.74 L425.40,444.00 L425.70,442.13 L426.00,440.13 L426.30,438.04 L426.60,435.87 L426.90,433.67 L427.20,431.48 L427.50,429.27 L427.80,426.97 L428.10,424.53 L428.40,421.90 L428.70,418.98 L429.00,415.53 L429.30,411.68 L429.60,407.65 L429.90,403.68 L430.20,400.00 L430.50,396.68 L430.80,393.53 L431.10,390.42 L431.40,387.24 L431.70,383.84 L432.00,380.19 L432.30,376.38 L432.60,372.49 L432.90,368.60 L433.20,364.79 L433.50,361.16 L433.80,357.72 L434.10,354.33 L434.40,351.02 L434.70,347.84 L435.00,344.82 L435.30,342.00 L435.60,339.29 L435.90,336.73 L436.20,334.58 L436.50,332.88 L436.80,331.37 L437.10,330.70 L437.40,331.37 L437.70,332.88 L438.00,334.58 L438.30,336.75 L438.60,339.32 L438.90,342.00 L439.20,344.75 L439.50,347.68 L439.80,350.73 L440.10,353.84 L440.40,356.95 L440.70,360.00 L441.00,362.99 L441.30,365.95 L441.60,368.91 L441.90,371.87 L442.20,374.85 L442.50,377.85 L442.80,380.88 L443.10,383.96 L443.40,387.11 L443.70,390.34 L444.00,393.63 L444.30,396.96 L444.60,400.28 L444.90,403.58 L445.20,406.83 L445.50,410.00 L445.80,413.10 L446.10,416.16 L446.40,419.16 L446.70,422.11 L447.00,425.00 L447.30,427.95 L447.60,430.90 L447.90,433.55 L448.20,435.63 L448.50,437.38 L448.80,438.95 L449.10,440.37 L449.40,441.66 L449.70,442.86 L450.00,444.00 L450.30,445.09 L450.60,446.13 L450.90,447.12 L451.20,448.06 L451.50,448.94 L451.80,449.78 L452.10,450.55 L452.40,451.27 L452.70,451.94 L453.00,452.58 L453.30,453.20 L453.60,453.78 L453.90,454.33 L454.20,454.84 L454.50,455.33 L454.80,455.77 L455.10,456.17 L455.40,456.54 L455.70,456.90 L456.00,457.24 L456.30,457.57 L456.60,457.89 L456.90,458.19 L457.20,458.47 L457.50,458.74 L457.80,458.99 L458.10,459.22 L458.40,459.43 L458.70,459.63 L459.00,459.80 L459.30,459.96 L459.60,460.11 L459.90,460.26 L460.20,460.40 L460.50,460.54 L460.80,460.67 L461.10,460.79 L461.40,460.91 L461.70,461.03 L462.00,461.13 L462.30,461.23 L462.60,461.32 L462.90,461.41 L463.20,461.49 L463.50,461.57 L463.80,461.64 L464.10,461.70 L464.40,461.76 L464.70,461.82 L465.00,461.87 L465.30,461.93 L465.60,461.98 L465.90,462.04 L466.20,462.09 L466.50,462.14 L466.80,462.19 L467.10,462.24 L467.40,462.29 L467.70,462.33 L468.00,462.38 L468.30,462.42 L468.60,462.47 L468.90,462.51 L469.20,462.55 L469.50,462.59 L469.80,462.63 L470.10,462.67 L470.40,462.71 L470.70,462.75 L471.00,462.78 L471.30,462.82 L471.60,462.85 L471.90,462.89 L472.20,462.92 L472.50,462.95 L472.80,462.98 L473.10,463.01 L473.40,463.04 L473.70,463.07 L474.00,463.10 L474.30,463.12 L474.60,463.15 L474.90,463.17 L475.20,463.20 L475.50,463.22 L475.80,463.24 L476.10,463.26 L476.40,463.29 L476.70,463.31 L477.00,463.33 L477.30,463.34 L477.60,463.36 L477.90,463.38 L478.20,463.39 L478.50,463.41 L478.80,463.43 L479.10,463.44 L479.40,463.46 L479.70,463.47 L480.00,463.49 L480.30,463.50 L480.60,463.52 L480.90,463.53 L481.20,463.55 L481.50,463.56 L481.80,463.58 L482.10,463.59 L482.40,463.60 L482.70,463.62 L483.00,463.63 L483.30,463.64 L483.60,463.65 L483.90,463.67 L484.20,463.68 L484.50,463.69 L484.80,463.70 L485.10,463.71 L485.40,463.72 L485.70,463.73 L486.00,463.74 L486.30,463.75 L486.60,463.75 L486.90,463.76 L487.20,463.77 L487.50,463.77 L487.80,463.78 L488.10,463.79 L488.40,463.79 L488.70,463.79 L489.00,463.80 L489.30,463.80 L489.60,463.80 L489.90,463.80 L490.20,463.80 L490.50,463.80 L490.80,463.80 L491.10,463.80 L491.40,463.80 L491.70,463.80 L492.00,463.79 L492.30,463.79 L492.60,463.79 L492.90,463.79 L493.20,463.79 L493.50,463.78 L493.80,463.78 L494.10,463.78 L494.40,463.77 L494.70,463.77 L495.00,463.77 L495.30,463.76 L495.60,463.76 L495.90,463.76 L496.20,463.75 L496.50,463.75 L496.80,463.74 L497.10,463.74 L497.40,463.73 L497.70,463.73 L498.00,463.73 L498.30,463.72 L498.60,463.72 L498.90,463.71 L499.20,463.71 L499.50,463.70 L499.80,463.69 L500.10,463.69 L500.40,463.68 L500.70,463.68 L501.00,463.67 L501.30,463.67 L501.60,463.66 L501.90,463.66 L502.20,463.65 L502.50,463.65 L502.80,463.64 L503.10,463.63 L503.40,463.63 L503.70,463.62 L504.00,463.62 L504.30,463.61 L504.60,463.61 L504.90,463.60 L505.20,463.60 L505.50,463.59 L505.80,463.59 L506.10,463.58 L506.40,463.57 L506.70,463.57 L507.00,463.56 L507.30,463.56 L507.60,463.55 L507.90,463.54 L508.20,463.54 L508.50,463.53 L508.80,463.52 L509.10,463.52 L509.40,463.51 L509.70,463.50 L510.00,463.49 L510.30,463.49 L510.60,463.48 L510.90,463.47 L511.20,463.46 L511.50,463.46 L511.80,463.45 L512.10,463.44 L512.40,463.43 L512.70,463.42 L513.00,463.42 L513.30,463.41 L513.60,463.40 L513.90,463.39 L514.20,463.38 L514.50,463.37 L514.80,463.36 L515.10,463.36 L515.40,463.35 L515.70,463.34 L516.00,463.33 L516.30,463.32 L516.60,463.31 L516.90,463.30 L517.20,463.29 L517.50,463.28 L517.80,463.27 L518.10,463.26 L518.40,463.25 L518.70,463.24 L519.00,463.23 L519.30,463.22 L519.60,463.21 L519.90,463.20" fill="none" stroke="#f4b8c0" stroke-width="1.70" stroke-linejoin="round" stroke-linecap="round"/>
<path d="M405.00,476.20 L405.30,476.14 L405.60,476.08 L405.90,476.01 L406.20,475.94 L406.50,475.86 L406.80,475.77 L407.10,475.68 L407.40,475.59 L407.70,475.49 L408.00,475.38 L408.30,475.28 L408.60,475.16 L408.90,475.05 L409.20,474.93 L409.50,474.81 L409.80,474.68 L410.10,474.56 L410.40,474.42 L410.70,474.27 L411.00,474.12 L411.30,473.95 L411.60,473.77 L411.90,473.59 L412.20,473.40 L412.50,473.20 L412.80,473.00 L413.10,472.80 L413.40,472.59 L413.70,472.37 L414.00,472.16 L414.30,471.94 L414.60,471.73 L414.90,471.51 L415.20,471.30 L415.50,471.08 L415.80,470.87 L416.10,470.67 L416.40,470.46 L416.70,470.26 L417.00,470.05 L417.30,469.84 L417.60,469.64 L417.90,469.42 L418.20,469.21 L418.50,469.00 L418.80,468.79 L419.10,468.57 L419.40,468.36 L419.70,468.14 L420.00,467.93 L420.30,467.71 L420.60,467.49 L420.90,467.28 L421.20,467.07 L421.50,466.85 L421.80,466.64 L422.10,466.43 L422.40,466.22 L422.70,466.02 L423.00,465.81 L423.30,465.61 L423.60,465.41 L423.90,465.20 L424.20,465.00 L424.50,464.80 L424.80,464.59 L425.10,464.39 L425.40,464.18 L425.70,463.97 L426.00,463.75 L426.30,463.53 L426.60,463.31 L426.90,463.08 L427.20,462.84 L427.50,462.61 L427.80,462.38 L428.10,462.14 L428.40,461.90 L428.70,461.66 L429.00,461.41 L429.30,461.16 L429.60,460.89 L429.90,460.62 L430.20,460.33 L430.50,460.03 L430.80,459.72 L431.10,459.39 L431.40,459.04 L431.70,458.68 L432.00,458.29 L432.30,457.89 L432.60,457.47 L432.90,457.04 L433.20,456.58 L433.50,456.11 L433.80,455.62 L434.10,455.12 L434.40,454.59 L434.70,454.06 L435.00,453.50 L435.30,452.92 L435.60,452.31 L435.90,451.66 L436.20,450.98 L436.50,450.28 L436.80,449.54 L437.10,448.78 L437.40,447.99 L437.70,447.18 L438.00,446.34 L438.30,445.48 L438.60,444.60 L438.90,443.69 L439.20,442.73 L439.50,441.71 L439.80,440.64 L440.10,439.53 L440.40,438.38 L440.70,437.21 L441.00,436.01 L441.30,434.81 L441.60,433.60 L441.90,432.37 L442.20,431.13 L442.50,429.86 L442.80,428.54 L443.10,427.19 L443.40,425.77 L443.70,424.30 L444.00,422.74 L444.30,421.09 L444.60,419.37 L444.90,417.60 L445.20,415.79 L445.50,413.96 L445.80,412.12 L446.10,410.29 L446.40,408.48 L446.70,406.71 L447.00,405.00 L447.30,403.33 L447.60,401.68 L447.90,400.06 L448.20,398.45 L448.50,396.85 L448.80,395.25 L449.10,393.66 L449.40,392.06 L449.70,390.46 L450.00,388.84 L450.30,387.21 L450.60,385.56 L450.90,383.87 L451.20,382.12 L451.50,380.32 L451.80,378.49 L452.10,376.65 L452.40,374.83 L452.70,373.03 L453.00,371.27 L453.30,369.58 L453.60,367.98 L453.90,366.48 L454.20,365.07 L454.50,363.69 L454.80,362.35 L455.10,361.05 L455.40,359.82 L455.70,358.66 L456.00,357.58 L456.30,356.60 L456.60,355.71 L456.90,354.80 L457.20,353.89 L457.50,353.04 L457.80,352.31 L458.10,351.79 L458.40,351.52 L458.70,351.56 L459.00,351.87 L459.30,352.39 L459.60,353.07 L459.90,353.85 L460.20,354.68 L460.50,355.50 L460.80,356.37 L461.10,357.38 L461.40,358.50 L461.70,359.73 L462.00,361.06 L462.30,362.47 L462.60,363.94 L462.90,365.48 L463.20,367.11 L463.50,368.96 L463.80,371.01 L464.10,373.19 L464.40,375.45 L464.70,377.75 L465.00,380.03 L465.30,382.25 L465.60,384.34 L465.90,386.30 L466.20,388.21 L466.50,390.10 L466.80,391.95 L467.10,393.77 L467.40,395.55 L467.70,397.30 L468.00,399.00 L468.30,400.67 L468.60,402.30 L468.90,403.89 L469.20,405.46 L469.50,407.01 L469.80,408.53 L470.10,410.04 L470.40,411.52 L470.70,413.00 L471.00,414.50 L471.30,416.04 L471.60,417.59 L471.90,419.13 L472.20,420.63 L472.50,422.07 L472.80,423.40 L473.10,424.62 L473.40,425.68 L473.70,426.60 L474.00,427.46 L474.30,428.27 L474.60,429.03 L474.90,429.75 L475.20,430.44 L475.50,431.10 L475.80,431.72 L476.10,432.33 L476.40,432.92 L476.70,433.49 L477.00,434.05 L477.30,434.61 L477.60,435.17 L477.90,435.74 L478.20,436.31 L478.50,436.89 L478.80,437.46 L479.10,438.03 L479.40,438.59 L479.70,439.15 L480.00,439.69 L480.30,440.22 L480.60,440.75 L480.90,441.26 L481.20,441.75 L481.50,442.23 L481.80,442.70 L482.10,443.15 L482.40,443.59 L482.70,444.02 L483.00,444.43 L483.30,444.84 L483.60,445.24 L483.90,445.63 L484.20,446.01 L484.50,446.37 L484.80,446.73 L485.10,447.07 L485.40,447.40 L485.70,447.72 L486.00,448.03 L486.30,448.34 L486.60,448.64 L486.90,448.94 L487.20,449.23 L487.50,449.51 L487.80,449.78 L488.10,450.05 L488.40,450.31 L488.70,450.57 L489.00,450.82 L489.30,451.06 L489.60,451.30 L489.90,451.52 L490.20,451.75 L490.50,451.97 L490.80,452.19 L491.10,452.40 L491.40,452.61 L491.70,452.82 L492.00,453.02 L492.30,453.23 L492.60,453.42 L492.90,453.61 L493.20,453.80 L493.50,453.99 L493.80,454.17 L494.10,454.35 L494.40,454.52 L494.70,454.68 L495.00,454.85 L495.30,455.00 L495.60,455.16 L495.90,455.30 L496.20,455.45 L496.50,455.59 L496.80,455.72 L497.10,455.85 L497.40,455.98 L497.70,456.11 L498.00,456.24 L498.30,456.36 L498.60,456.48 L498.90,456.60 L499.20,456.71 L499.50,456.82 L499.80,456.93 L500.10,457.04 L500.40,457.15 L500.70,457.25 L501.00,457.35 L501.30,457.46 L501.60,457.55 L501.90,457.65 L502.20,457.75 L502.50,457.84 L502.80,457.94 L503.10,458.03 L503.40,458.12 L503.70,458.21 L504.00,458.30 L504.30,458.39 L504.60,458.48 L504.90,458.57 L505.20,458.65 L505.50,458.73 L505.80,458.82 L506.10,458.90 L506.40,458.98 L506.70,459.06 L507.00,459.14 L507.30,459.21 L507.60,459.29 L507.90,459.36 L508.20,459.43 L508.50,459.51 L508.80,459.57 L509.10,459.64 L509.40,459.71 L509.70,459.77 L510.00,459.84 L510.30,459.90 L510.60,459.96 L510.90,460.02 L511.20,460.08 L511.50,460.14 L511.80,460.20 L512.10,460.26 L512.40,460.32 L512.70,460.38 L513.00,460.44 L513.30,460.49 L513.60,460.55 L513.90,460.61 L514.20,460.66 L514.50,460.71 L514.80,460.77 L515.10,460.82 L515.40,460.87 L515.70,460.92 L516.00,460.97 L516.30,461.02 L516.60,461.06 L516.90,461.11 L517.20,461.15 L517.50,461.20 L517.80,461.24 L518.10,461.28 L518.40,461.32 L518.70,461.36 L519.00,461.39 L519.30,461.43 L519.60,461.46 L519.90,461.49 L520.20,461.52 L520.50,461.55 L520.80,461.58 L521.10,461.60 L521.40,461.63 L521.70,461.66 L522.00,461.68 L522.30,461.71 L522.60,461.73 L522.90,461.76 L523.20,461.78 L523.50,461.81 L523.80,461.83 L524.10,461.85 L524.40,461.87 L524.70,461.89 L525.00,461.92 L525.30,461.94 L525.60,461.96 L525.90,461.98 L526.20,461.99 L526.50,462.01 L526.80,462.03 L527.10,462.05 L527.40,462.07 L527.70,462.08 L528.00,462.10 L528.30,462.12 L528.60,462.13 L528.90,462.15 L529.20,462.16 L529.50,462.18 L529.80,462.19 L530.10,462.20 L530.40,462.22 L530.70,462.23 L531.00,462.25 L531.30,462.26 L531.60,462.27 L531.90,462.29 L532.20,462.30 L532.50,462.31 L532.80,462.33 L533.10,462.34 L533.40,462.35 L533.70,462.37 L534.00,462.38 L534.30,462.39 L534.60,462.40 L534.90,462.42 L535.20,462.43 L535.50,462.44 L535.80,462.45 L536.10,462.46 L536.40,462.47 L536.70,462.49 L537.00,462.50 L537.30,462.51 L537.60,462.52 L537.90,462.53 L538.20,462.54 L538.50,462.55 L538.80,462.56 L539.10,462.57 L539.40,462.58 L539.70,462.59" fill="none" stroke="#7a7a7a" stroke-width="1.80" stroke-linejoin="round" stroke-linecap="round"/>
<path d="M375.00,478.61 L375.30,478.91 L375.60,479.09 L375.90,478.31 L376.20,478.58 L376.50,479.15 L376.80,479.77 L377.10,479.74 L377.40,479.18 L377.70,479.59 L378.00,478.49 L378.30,478.64 L378.60,479.16 L378.90,479.15 L379.20,477.99 L379.50,479.33 L379.80,478.32 L380.10,478.69 L380.40,478.16 L380.70,478.56 L381.00,479.26 L381.30,478.08 L381.60,478.41 L381.90,478.72 L382.20,479.01 L382.50,479.57 L382.80,478.77 L383.10,479.23 L383.40,477.92 L383.70,478.43 L384.00,477.50 L384.30,479.26 L384.60,478.39 L384.90,478.98 L385.20,478.14 L385.50,478.12 L385.80,478.16 L386.10,478.30 L386.40,478.50 L386.70,477.78 L387.00,478.68 L387.30,478.91 L387.60,477.72 L387.90,477.84 L388.20,478.04 L388.50,478.15 L388.80,479.46 L389.10,478.96 L389.40,477.95 L389.70,479.94 L390.00,478.97 L390.30,477.93 L390.60,477.72 L390.90,478.75 L391.20,477.71 L391.50,478.62 L391.80,478.97 L392.10,478.10 L392.40,478.15 L392.70,478.09 L393.00,479.16 L393.30,478.82 L393.60,478.74 L393.90,478.91 L394.20,478.46 L394.50,478.14 L394.80,478.61 L395.10,478.90 L395.40,478.36 L395.70,478.32 L396.00,477.94 L396.30,479.10 L396.60,478.78 L396.90,478.49 L397.20,478.47 L397.50,478.55 L397.80,478.39 L398.10,478.83 L398.40,478.42 L398.70,478.69 L399.00,478.32 L399.30,477.98 L399.60,478.82 L399.90,478.82 L400.20,478.98 L400.50,477.98 L400.80,477.84 L401.10,477.19 L401.40,478.09 L401.70,477.59 L402.00,478.53 L402.30,477.27 L402.60,478.24 L402.90,477.05 L403.20,477.51 L403.50,478.09 L403.80,477.11 L404.10,477.42 L404.40,477.46 L404.70,476.31 L405.00,477.99 L405.30,476.06 L405.60,476.46 L405.90,476.58 L406.20,476.56 L406.50,476.74 L406.80,476.71 L407.10,475.32 L407.40,475.79 L407.70,474.72 L408.00,475.79 L408.30,475.21 L408.60,475.61 L408.90,474.46 L409.20,474.64 L409.50,475.34 L409.80,475.34 L410.10,474.71 L410.40,474.53 L410.70,474.36 L411.00,474.23 L411.30,474.10 L411.60,475.56 L411.90,474.51 L412.20,473.23 L412.50,473.68 L412.80,473.25 L413.10,473.71 L413.40,474.56 L413.70,473.97 L414.00,473.28 L414.30,473.26 L414.60,472.84 L414.90,472.24 L415.20,472.29 L415.50,472.99 L415.80,471.48 L416.10,472.75 L416.40,473.10 L416.70,471.79 L417.00,472.12 L417.30,471.44 L417.60,470.98 L417.90,469.85 L418.20,470.23 L418.50,471.08 L418.80,469.99 L419.10,469.38 L419.40,469.86 L419.70,468.52 L420.00,467.00 L420.30,467.10 L420.60,467.47 L420.90,466.60 L421.20,465.13 L421.50,464.95 L421.80,463.69 L422.10,464.16 L422.40,462.42 L422.70,461.67 L423.00,460.24 L423.30,459.38 L423.60,457.90 L423.90,456.24 L424.20,454.47 L424.50,452.90 L424.80,451.05 L425.10,449.22 L425.40,446.66 L425.70,444.41 L426.00,421.35 L426.30,419.25 L426.60,415.62 L426.90,413.71 L427.20,409.26 L427.50,405.39 L427.80,401.85 L428.10,397.90 L428.40,394.20 L428.70,390.15 L429.00,386.70 L429.30,382.34 L429.60,378.47 L429.90,373.90 L430.20,370.30 L430.50,365.55 L430.80,360.83 L431.10,357.90 L431.40,352.77 L431.70,348.65 L432.00,344.74 L432.30,341.51 L432.60,336.91 L432.90,333.64 L433.20,330.36 L433.50,327.31 L433.80,323.01 L434.10,319.92 L434.40,316.58 L434.70,314.96 L435.00,311.37 L435.30,308.83 L435.60,306.69 L435.90,304.56 L436.20,303.73 L436.50,302.17 L436.80,302.50 L437.10,301.54 L437.40,301.75 L437.70,302.84 L438.00,302.66 L438.30,304.56 L438.60,305.65 L438.90,306.10 L439.20,308.31 L439.50,309.80 L439.80,312.11 L440.10,313.73 L440.40,315.29 L440.70,318.01 L441.00,319.95 L441.30,322.48 L441.60,325.19 L441.90,327.61 L442.20,329.57 L442.50,330.76 L442.80,333.52 L443.10,334.98 L443.40,337.33 L443.70,338.59 L444.00,340.99 L444.30,342.39 L444.60,344.00 L444.90,345.93 L445.20,346.86 L445.50,349.43 L445.80,350.70 L446.10,351.46 L446.40,353.29 L446.70,354.48 L447.00,355.66 L447.30,356.50 L447.60,357.68 L447.90,358.22 L448.20,358.14 L448.50,358.05 L448.80,357.83 L449.10,357.66 L449.40,358.00 L449.70,357.36 L450.00,356.81 L450.30,357.26 L450.60,357.35 L450.90,356.37 L451.20,356.22 L451.50,355.30 L451.80,353.84 L452.10,353.43 L452.40,352.30 L452.70,351.67 L453.00,349.39 L453.30,349.94 L453.60,348.94 L453.90,347.26 L454.20,347.02 L454.50,345.48 L454.80,344.59 L455.10,343.87 L455.40,343.13 L455.70,341.82 L456.00,341.28 L456.30,340.48 L456.60,339.32 L456.90,339.64 L457.20,338.76 L457.50,338.14 L457.80,338.30 L458.10,337.90 L458.40,337.32 L458.70,337.84 L459.00,337.43 L459.30,337.78 L459.60,338.24 L459.90,338.71 L460.20,339.65 L460.50,339.59 L460.80,340.17 L461.10,340.92 L461.40,342.11 L461.70,343.93 L462.00,345.24 L462.30,346.20 L462.60,347.80 L462.90,349.35 L463.20,351.62 L463.50,352.16 L463.80,354.30 L464.10,355.17 L464.40,357.46 L464.70,359.86 L465.00,360.59 L465.30,363.33 L465.60,363.91 L465.90,366.45 L466.20,369.05 L466.50,371.29 L466.80,373.03 L467.10,375.31 L467.40,376.95 L467.70,378.76 L468.00,380.31 L468.30,382.50 L468.60,383.75 L468.90,385.51 L469.20,387.16 L469.50,389.30 L469.80,391.60 L470.10,392.22 L470.40,394.43 L470.70,394.51 L471.00,395.80 L471.30,397.31 L471.60,398.36 L471.90,399.39 L472.20,400.65 L472.50,400.83 L472.80,402.21 L473.10,402.71 L473.40,402.29 L473.70,403.81 L474.00,404.77 L474.30,405.78 L474.60,406.70 L474.90,407.12 L475.20,408.51 L475.50,408.34 L475.80,409.48 L476.10,410.63 L476.40,410.60 L476.70,412.36 L477.00,413.04 L477.30,413.40 L477.60,414.27 L477.90,415.03 L478.20,415.86 L478.50,417.13 L478.80,417.61 L479.10,417.61 L479.40,418.28 L479.70,419.86 L480.00,419.27 L480.30,420.38 L480.60,421.45 L480.90,422.37 L481.20,423.60 L481.50,423.80 L481.80,425.81 L482.10,425.15 L482.40,426.07 L482.70,426.78 L483.00,426.97 L483.30,428.03 L483.60,428.51 L483.90,428.98 L484.20,429.24 L484.50,429.91 L484.80,430.98 L485.10,431.22 L485.40,431.95 L485.70,432.49 L486.00,432.96 L486.30,433.36 L486.60,434.09 L486.90,434.66 L487.20,435.35 L487.50,435.47 L487.80,435.51 L488.10,435.91 L488.40,436.88 L488.70,436.46 L489.00,437.29 L489.30,438.33 L489.60,438.20 L489.90,438.48 L490.20,439.62 L490.50,438.46 L490.80,439.86 L491.10,440.08 L491.40,440.42 L491.70,441.32 L492.00,440.59 L492.30,440.76 L492.60,440.87 L492.90,441.05 L493.20,441.11 L493.50,441.48 L493.80,441.11 L494.10,441.81 L494.40,442.52 L494.70,442.49 L495.00,443.11 L495.30,442.41 L495.60,443.04 L495.90,443.10 L496.20,444.15 L496.50,443.85 L496.80,444.05 L497.10,443.89 L497.40,444.39 L497.70,444.39 L498.00,444.76 L498.30,446.05 L498.60,444.92 L498.90,445.46 L499.20,445.39 L499.50,446.44 L499.80,445.71 L500.10,445.92 L500.40,446.58 L500.70,447.26 L501.00,446.85 L501.30,446.69 L501.60,446.05 L501.90,445.78 L502.20,447.34 L502.50,447.53 L502.80,448.13 L503.10,447.98 L503.40,447.83 L503.70,448.58 L504.00,448.89 L504.30,448.07 L504.60,448.82 L504.90,449.05 L505.20,447.73 L505.50,448.24 L505.80,446.91 L506.10,448.48 L506.40,448.59 L506.70,447.77 L507.00,448.54 L507.30,449.13 L507.60,448.86 L507.90,448.38 L508.20,448.95 L508.50,448.43 L508.80,449.32 L509.10,448.54 L509.40,449.90 L509.70,449.43 L510.00,449.47 L510.30,449.32 L510.60,449.79 L510.90,449.59 L511.20,450.08 L511.50,449.38 L511.80,450.41 L512.10,449.43 L512.40,448.30 L512.70,450.61 L513.00,450.46 L513.30,448.92 L513.60,450.42 L513.90,450.63 L514.20,450.31 L514.50,451.32 L514.80,450.73 L515.10,450.87 L515.40,450.70 L515.70,451.14 L516.00,450.84 L516.30,450.78 L516.60,451.56 L516.90,450.29 L517.20,450.08 L517.50,451.37 L517.80,450.92 L518.10,452.06 L518.40,451.27 L518.70,451.89 L519.00,452.10 L519.30,452.86 L519.60,452.71 L519.90,452.40 L520.20,452.97 L520.50,453.10 L520.80,453.23 L521.10,453.71 L521.40,452.93 L521.70,453.53 L522.00,453.74 L522.30,452.72 L522.60,454.42 L522.90,454.50 L523.20,452.00 L523.50,453.40 L523.80,453.99 L524.10,454.00 L524.40,453.12 L524.70,454.19 L525.00,454.45 L525.30,455.08 L525.60,454.15 L525.90,454.69 L526.20,454.45 L526.50,454.84 L526.80,454.21 L527.10,454.81 L527.40,453.72 L527.70,454.35 L528.00,454.45 L528.30,454.46 L528.60,454.72 L528.90,454.97 L529.20,455.13 L529.50,455.52 L529.80,455.55 L530.10,454.40 L530.40,455.63 L530.70,455.10 L531.00,454.38 L531.30,454.41 L531.60,455.45 L531.90,456.90 L532.20,455.00 L532.50,456.25 L532.80,455.57 L533.10,456.46 L533.40,455.55 L533.70,455.06 L534.00,456.18 L534.30,455.11 L534.60,455.97 L534.90,455.66 L535.20,455.92 L535.50,455.68 L535.80,455.40 L536.10,455.91 L536.40,455.61 L536.70,455.89 L537.00,455.54 L537.30,455.78 L537.60,455.97 L537.90,456.60 L538.20,457.01 L538.50,456.89 L538.80,456.31 L539.10,456.02 L539.40,455.83 L539.70,456.59 L540.00,456.00 L540.30,456.27 L540.60,455.98 L540.90,456.85 L541.20,455.96 L541.50,457.11 L541.80,456.35 L542.10,457.04 L542.40,456.60 L542.70,455.94 L543.00,454.62 L543.30,456.80 L543.60,456.20 L543.90,455.35 L544.20,456.80 L544.50,455.28 L544.80,456.29 L545.10,455.27 L545.40,454.87 L545.70,455.59 L546.00,456.15 L546.30,454.58 L546.60,454.31 L546.90,455.26 L547.20,455.36 L547.50,455.04 L547.80,453.84 L548.10,455.88 L548.40,456.43 L548.70,456.19 L549.00,455.61 L549.30,455.85 L549.60,455.85 L549.90,455.38 L550.20,455.16 L550.50,455.09 L550.80,454.95 L551.10,455.18 L551.40,455.11 L551.70,455.27 L552.00,455.18 L552.30,454.80 L552.60,453.91 L552.90,454.90 L553.20,454.22 L553.50,455.19 L553.80,454.28 L554.10,455.21 L554.40,454.47 L554.70,454.79 L555.00,454.10 L555.30,454.13 L555.60,453.66 L555.90,453.55 L556.20,453.45 L556.50,453.85 L556.80,453.00 L557.10,453.77 L557.40,453.16 L557.70,453.42 L558.00,452.68 L558.30,453.00 L558.60,452.20 L558.90,452.53 L559.20,452.60 L559.50,452.18 L559.80,452.39 L560.10,452.42 L560.40,452.32 L560.70,451.35 L561.00,451.94 L561.30,451.87 L561.60,451.51 L561.90,451.36 L562.20,452.40 L562.50,451.86 L562.80,451.82 L563.10,451.80 L563.40,450.84 L563.70,451.01 L564.00,450.31 L564.30,450.99 L564.60,450.05 L564.90,450.44 L565.20,450.93 L565.50,450.76 L565.80,450.06 L566.10,450.01 L566.40,450.80 L566.70,450.38 L567.00,449.92 L567.30,450.10 L567.60,450.01 L567.90,449.45 L568.20,449.58 L568.50,448.88 L568.80,449.74 L569.10,449.60 L569.40,449.91 L569.70,449.83 L570.00,449.17 L570.30,449.93 L570.60,448.93 L570.90,449.55 L571.20,448.91 L571.50,448.82 L571.80,448.53 L572.10,448.96 L572.40,449.85 L572.70,448.98 L573.00,449.07 L573.30,448.71 L573.60,449.01 L573.90,449.03 L574.20,448.94 L574.50,449.27 L574.80,448.68 L575.10,448.84 L575.40,449.27 L575.70,448.88 L576.00,448.32 L576.30,449.12 L576.60,448.86 L576.90,448.28 L577.20,448.29 L577.50,448.46 L577.80,448.95 L578.10,448.77 L578.40,449.05 L578.70,449.66 L579.00,449.39 L579.30,448.77 L579.60,448.48 L579.90,449.34 L580.20,448.52 L580.50,448.53 L580.80,448.83 L581.10,449.02 L581.40,448.84 L581.70,449.08 L582.00,447.93 L582.30,448.89 L582.60,449.10 L582.90,449.41 L583.20,447.82 L583.50,447.98 L583.80,449.63 L584.10,449.01 L584.40,449.13 L584.70,448.80 L585.00,449.00 L585.30,448.22 L585.60,448.28 L585.90,449.19 L586.20,447.98 L586.50,449.10 L586.80,449.28 L587.10,449.47 L587.40,449.04 L587.70,449.39 L588.00,448.90 L588.30,449.41 L588.60,450.11 L588.90,449.89 L589.20,449.97 L589.50,450.49 L589.80,449.40 L590.10,450.17 L590.40,450.87 L590.70,450.69 L591.00,450.55 L591.30,451.36 L591.60,451.76 L591.90,451.45 L592.20,450.73 L592.50,451.30 L592.80,451.57 L593.10,451.01 L593.40,451.53 L593.70,451.39 L594.00,451.39 L594.30,450.88 L594.60,452.50 L594.90,452.57 L595.20,451.93 L595.50,452.13 L595.80,452.72 L596.10,452.34 L596.40,452.75 L596.70,452.27 L597.00,453.07 L597.30,452.61 L597.60,452.47 L597.90,453.28 L598.20,452.12 L598.50,452.67 L598.80,452.02 L599.10,453.71 L599.40,454.47 L599.70,453.13 L600.00,453.08 L600.30,454.06 L600.60,453.21 L600.90,454.01 L601.20,454.79 L601.50,453.72 L601.80,453.49 L602.10,455.31 L602.40,454.88 L602.70,455.79 L603.00,455.15 L603.30,455.26 L603.60,454.07 L603.90,454.78 L604.20,454.76 L604.50,454.54 L604.80,454.98 L605.10,455.55 L605.40,454.94 L605.70,456.07 L606.00,456.00 L606.30,455.96 L606.60,456.04 L606.90,455.66 L607.20,455.78 L607.50,455.41 L607.80,455.49 L608.10,456.10 L608.40,456.43 L608.70,455.94 L609.00,456.66 L609.30,456.81 L609.60,455.68 L609.90,456.05 L610.20,456.37 L610.50,456.28 L610.80,455.63 L611.10,456.90 L611.40,456.83 L611.70,456.69 L612.00,457.49 L612.30,457.03 L612.60,457.86 L612.90,456.41 L613.20,457.92 L613.50,457.33 L613.80,457.63 L614.10,456.86 L614.40,457.26 L614.70,458.49 L615.00,457.99 L615.30,458.21 L615.60,457.67 L615.90,458.46 L616.20,458.66 L616.50,459.70 L616.80,459.41 L617.10,458.99 L617.40,458.93 L617.70,459.10 L618.00,459.50 L618.30,459.49 L618.60,458.78 L618.90,459.61 L619.20,459.08 L619.50,460.28 L619.80,458.83 L620.10,459.99 L620.40,459.17 L620.70,459.84 L621.00,460.19 L621.30,459.94 L621.60,459.31 L621.90,459.19 L622.20,460.43 L622.50,459.54 L622.80,460.21 L623.10,460.40 L623.40,459.28 L623.70,460.77 L624.00,459.95 L624.30,459.95 L624.60,459.66 L624.90,460.17 L625.20,460.29 L625.50,460.55 L625.80,460.57 L626.10,460.58 L626.40,460.15 L626.70,460.18 L627.00,460.29 L627.30,460.34 L627.60,460.80 L627.90,460.68 L628.20,460.27 L628.50,459.98 L628.80,459.61 L629.10,460.31 L629.40,460.42 L629.70,459.68 L630.00,460.31 L630.30,460.58 L630.60,460.58 L630.90,459.95 L631.20,460.27 L631.50,459.97 L631.80,460.92 L632.10,460.70 L632.40,461.66 L632.70,460.39 L633.00,461.26 L633.30,460.68 L633.60,460.72 L633.90,461.12 L634.20,459.94 L634.50,460.26 L634.80,461.36 L635.10,461.17 L635.40,461.54 L635.70,461.03 L636.00,460.63 L636.30,461.18 L636.60,460.67 L636.90,460.83 L637.20,460.83 L637.50,460.54 L637.80,461.75 L638.10,461.21 L638.40,460.99 L638.70,461.10 L639.00,460.73 L639.30,460.82 L639.60,461.03 L639.90,461.13 L640.20,460.14 L640.50,461.55 L640.80,460.21 L641.10,460.66 L641.40,460.50 L641.70,461.11 L642.00,460.37 L642.30,461.49 L642.60,461.38 L642.90,461.49 L643.20,461.45 L643.50,461.00 L643.80,461.25 L644.10,460.77 L644.40,461.00 L644.70,461.36 L645.00,460.68 L645.30,461.08 L645.60,461.01 L645.90,461.58 L646.20,461.45 L646.50,461.07 L646.80,461.58 L647.10,462.05 L647.40,461.72 L647.70,461.33 L648.00,461.35 L648.30,460.92 L648.60,461.10 L648.90,461.44 L649.20,461.49 L649.50,460.78 L649.80,460.86 L650.10,460.88 L650.40,460.91 L650.70,461.13 L651.00,461.33 L651.30,460.93 L651.60,461.13 L651.90,460.63 L652.20,461.33 L652.50,461.53 L652.80,461.22 L653.10,460.82 L653.40,462.41 L653.70,461.13 L654.00,461.63 L654.30,460.60 L654.60,461.18 L654.90,461.54 L655.20,461.46 L655.50,461.56 L655.80,461.52 L656.10,461.21 L656.40,461.15 L656.70,461.44 L657.00,461.26 L657.30,461.29 L657.60,461.70 L657.90,461.63 L658.20,461.36 L658.50,461.98 L658.80,461.52 L659.10,461.46 L659.40,461.89 L659.70,461.66 L660.00,460.93 L660.30,461.76 L660.60,460.93" fill="none" stroke="#111111" stroke-width="1.50" stroke-linejoin="round" stroke-linecap="round"/>
<path d="M375.00,472.79 L375.30,472.78 L375.60,472.76 L375.90,472.74 L376.20,472.72 L376.50,472.70 L376.80,472.68 L377.10,472.66 L377.40,472.63 L377.70,472.61 L378.00,472.58 L378.30,472.55 L378.60,472.52 L378.90,472.49 L379.20,472.46 L379.50,472.43 L379.80,472.40 L380.10,472.36 L380.40,472.33 L380.70,472.29 L381.00,472.25 L381.30,472.22 L381.60,472.18 L381.90,472.14 L382.20,472.09 L382.50,472.05 L382.80,472.01 L383.10,471.97 L383.40,471.92 L383.70,471.88 L384.00,471.83 L384.30,471.78 L384.60,471.74 L384.90,471.69 L385.20,471.64 L385.50,471.59 L385.80,471.54 L386.10,471.49 L386.40,471.44 L386.70,471.39 L387.00,471.33 L387.30,471.28 L387.60,471.23 L387.90,471.17 L388.20,471.12 L388.50,471.06 L388.80,471.01 L389.10,470.95 L389.40,470.90 L389.70,470.84 L390.00,470.78 L390.30,470.73 L390.60,470.67 L390.90,470.61 L391.20,470.56 L391.50,470.50 L391.80,470.44 L392.10,470.38 L392.40,470.32 L392.70,470.26 L393.00,470.20 L393.30,470.14 L393.60,470.07 L393.90,470.01 L394.20,469.94 L394.50,469.87 L394.80,469.80 L395.10,469.73 L395.40,469.66 L395.70,469.58 L396.00,469.51 L396.30,469.43 L396.60,469.35 L396.90,469.27 L397.20,469.19 L397.50,469.10 L397.80,469.02 L398.10,468.93 L398.40,468.84 L398.70,468.75 L399.00,468.65 L399.30,468.56 L399.60,468.46 L399.90,468.36 L400.20,468.26 L400.50,468.16 L400.80,468.05 L401.10,467.95 L401.40,467.84 L401.70,467.73 L402.00,467.61 L402.30,467.50 L402.60,467.38 L402.90,467.26 L403.20,467.14 L403.50,467.01 L403.80,466.89 L404.10,466.76 L404.40,466.62 L404.70,466.48 L405.00,466.33 L405.30,466.18 L405.60,466.01 L405.90,465.85 L406.20,465.67 L406.50,465.49 L406.80,465.31 L407.10,465.11 L407.40,464.91 L407.70,464.71 L408.00,464.50 L408.30,464.28 L408.60,464.06 L408.90,463.84 L409.20,463.60 L409.50,463.37 L409.80,463.12 L410.10,462.87 L410.40,462.62 L410.70,462.36 L411.00,462.10 L411.30,461.83 L411.60,461.55 L411.90,461.28 L412.20,460.99 L412.50,460.70 L412.80,460.40 L413.10,460.09 L413.40,459.77 L413.70,459.44 L414.00,459.09 L414.30,458.73 L414.60,458.35 L414.90,457.97 L415.20,457.57 L415.50,457.15 L415.80,456.72 L416.10,456.28 L416.40,455.83 L416.70,455.35 L417.00,454.87 L417.30,454.37 L417.60,453.85 L417.90,453.32 L418.20,452.77 L418.50,452.21 L418.80,451.61 L419.10,450.97 L419.40,450.29 L419.70,449.57 L420.00,448.81 L420.30,448.02 L420.60,447.18 L420.90,446.31 L421.20,445.40 L421.50,444.45 L421.80,443.47 L422.10,442.45 L422.40,441.35 L422.70,440.17 L423.00,438.90 L423.30,437.55 L423.60,436.12 L423.90,434.63 L424.20,433.07 L424.50,431.45 L424.80,429.75 L425.10,427.95 L425.40,426.01 L425.70,423.91 L426.00,421.63 L426.30,419.14 L426.60,416.30 L426.90,413.12 L427.20,409.67 L427.50,405.99 L427.80,402.15 L428.10,398.21 L428.40,394.21 L428.70,390.22 L429.00,386.29 L429.30,382.41 L429.60,378.40 L429.90,374.29 L430.20,370.10 L430.50,365.86 L430.80,361.61 L431.10,357.38 L431.40,353.19 L431.70,349.09 L432.00,345.09 L432.30,341.25 L432.60,337.52 L432.90,333.80 L433.20,330.13 L433.50,326.55 L433.80,323.12 L434.10,319.90 L434.40,316.93 L434.70,314.17 L435.00,311.43 L435.30,308.86 L435.60,306.63 L435.90,304.92 L436.20,303.73 L436.50,302.68 L436.80,301.90 L437.10,301.60 L437.40,301.82 L437.70,302.38 L438.00,303.15 L438.30,304.00 L438.60,305.04 L438.90,306.41 L439.20,308.03 L439.50,309.84 L439.80,311.76 L440.10,313.71 L440.40,315.65 L440.70,317.75 L441.00,320.03 L441.30,322.41 L441.60,324.80 L441.90,327.13 L442.20,329.31 L442.50,331.32 L442.80,333.25 L443.10,335.10 L443.40,336.90 L443.70,338.67 L444.00,340.42 L444.30,342.18 L444.60,344.00 L444.90,345.81 L445.20,347.57 L445.50,349.20 L445.80,350.66 L446.10,351.90 L446.40,353.12 L446.70,354.35 L447.00,355.52 L447.30,356.54 L447.60,357.36 L447.90,357.90 L448.20,358.10 L448.50,358.08 L448.80,358.01 L449.10,357.90 L449.40,357.75 L449.70,357.58 L450.00,357.38 L450.30,357.16 L450.60,356.91 L450.90,356.48 L451.20,355.87 L451.50,355.11 L451.80,354.24 L452.10,353.30 L452.40,352.34 L452.70,351.39 L453.00,350.50 L453.30,349.60 L453.60,348.64 L453.90,347.63 L454.20,346.59 L454.50,345.54 L454.80,344.52 L455.10,343.53 L455.40,342.60 L455.70,341.75 L456.00,341.00 L456.30,340.30 L456.60,339.61 L456.90,338.98 L457.20,338.45 L457.50,338.08 L457.80,337.87 L458.10,337.68 L458.40,337.54 L458.70,337.44 L459.00,337.40 L459.30,337.52 L459.60,337.85 L459.90,338.33 L460.20,338.89 L460.50,339.50 L460.80,340.23 L461.10,341.20 L461.40,342.35 L461.70,343.65 L462.00,345.06 L462.30,346.53 L462.60,348.03 L462.90,349.52 L463.20,350.98 L463.50,352.52 L463.80,354.14 L464.10,355.81 L464.40,357.53 L464.70,359.29 L465.00,361.07 L465.30,362.86 L465.60,364.64 L465.90,366.42 L466.20,368.18 L466.50,369.98 L466.80,371.81 L467.10,373.67 L467.40,375.52 L467.70,377.38 L468.00,379.21 L468.30,381.01 L468.60,382.76 L468.90,384.45 L469.20,386.10 L469.50,387.75 L469.80,389.38 L470.10,390.93 L470.40,392.35 L470.70,393.60 L471.00,394.72 L471.30,395.79 L471.60,396.80 L471.90,397.77 L472.20,398.71 L472.50,399.60 L472.80,400.46 L473.10,401.29 L473.40,402.10 L473.70,402.89 L474.00,403.66 L474.30,404.42 L474.60,405.17 L474.90,405.92 L475.20,406.66 L475.50,407.41 L475.80,408.17 L476.10,408.94 L476.40,409.73 L476.70,410.54 L477.00,411.34 L477.30,412.15 L477.60,412.95 L477.90,413.75 L478.20,414.53 L478.50,415.31 L478.80,416.08 L479.10,416.84 L479.40,417.58 L479.70,418.30 L480.00,419.00 L480.30,419.69 L480.60,420.38 L480.90,421.06 L481.20,421.74 L481.50,422.42 L481.80,423.09 L482.10,423.75 L482.40,424.41 L482.70,425.06 L483.00,425.70 L483.30,426.34 L483.60,426.96 L483.90,427.58 L484.20,428.18 L484.50,428.77 L484.80,429.35 L485.10,429.92 L485.40,430.47 L485.70,431.01 L486.00,431.54 L486.30,432.05 L486.60,432.54 L486.90,433.02 L487.20,433.49 L487.50,433.96 L487.80,434.42 L488.10,434.87 L488.40,435.32 L488.70,435.75 L489.00,436.18 L489.30,436.61 L489.60,437.02 L489.90,437.42 L490.20,437.82 L490.50,438.20 L490.80,438.58 L491.10,438.95 L491.40,439.30 L491.70,439.64 L492.00,439.98 L492.30,440.30 L492.60,440.61 L492.90,440.90 L493.20,441.19 L493.50,441.47 L493.80,441.74 L494.10,442.01 L494.40,442.27 L494.70,442.52 L495.00,442.77 L495.30,443.02 L495.60,443.25 L495.90,443.49 L496.20,443.71 L496.50,443.94 L496.80,444.15 L497.10,444.37 L497.40,444.57 L497.70,444.78 L498.00,444.98 L498.30,445.17 L498.60,445.36 L498.90,445.55 L499.20,445.73 L499.50,445.91 L499.80,446.09 L500.10,446.26 L500.40,446.42 L500.70,446.59 L501.00,446.75 L501.30,446.91 L501.60,447.06 L501.90,447.21 L502.20,447.36 L502.50,447.51 L502.80,447.65 L503.10,447.79 L503.40,447.93 L503.70,448.06 L504.00,448.19 L504.30,448.32 L504.60,448.45 L504.90,448.57 L505.20,448.69 L505.50,448.81 L505.80,448.92 L506.10,449.04 L506.40,449.15 L506.70,449.26 L507.00,449.36 L507.30,449.47 L507.60,449.57 L507.90,449.66 L508.20,449.76 L508.50,449.86 L508.80,449.95 L509.10,450.04 L509.40,450.13 L509.70,450.22 L510.00,450.31 L510.30,450.40 L510.60,450.49 L510.90,450.58 L511.20,450.67 L511.50,450.75 L511.80,450.84 L512.10,450.93 L512.40,451.02 L512.70,451.11 L513.00,451.21 L513.30,451.30 L513.60,451.39 L513.90,451.49 L514.20,451.58 L514.50,451.68 L514.80,451.77 L515.10,451.86 L515.40,451.96 L515.70,452.05 L516.00,452.15 L516.30,452.24 L516.60,452.33 L516.90,452.43 L517.20,452.52 L517.50,452.62 L517.80,452.71 L518.10,452.80 L518.40,452.90 L518.70,452.99 L519.00,453.09 L519.30,453.18 L519.60,453.27 L519.90,453.37 L520.20,453.46 L520.50,453.56 L520.80,453.66 L521.10,453.76 L521.40,453.86 L521.70,453.96 L522.00,454.06 L522.30,454.16 L522.60,454.27 L522.90,454.37 L523.20,454.47 L523.50,454.57 L523.80,454.67 L524.10,454.77 L524.40,454.87 L524.70,454.96 L525.00,455.05 L525.30,455.14 L525.60,455.23 L525.90,455.32 L526.20,455.40 L526.50,455.48 L526.80,455.55 L527.10,455.62 L527.40,455.69 L527.70,455.76 L528.00,455.83 L528.30,455.90 L528.60,455.97 L528.90,456.04 L529.20,456.10 L529.50,456.17 L529.80,456.23 L530.10,456.30 L530.40,456.36 L530.70,456.42 L531.00,456.47 L531.30,456.53 L531.60,456.58 L531.90,456.63 L532.20,456.68 L532.50,456.72 L532.80,456.77 L533.10,456.80 L533.40,456.84 L533.70,456.87 L534.00,456.90 L534.30,456.93 L534.60,456.95 L534.90,456.98 L535.20,457.00 L535.50,457.03 L535.80,457.05 L536.10,457.08 L536.40,457.10 L536.70,457.12 L537.00,457.14 L537.30,457.16 L537.60,457.18 L537.90,457.20 L538.20,457.22 L538.50,457.23 L538.80,457.25 L539.10,457.26 L539.40,457.27 L539.70,457.28 L540.00,457.29 L540.30,457.29 L540.60,457.30 L540.90,457.30 L541.20,457.30 L541.50,457.29 L541.80,457.27 L542.10,457.25 L542.40,457.22 L542.70,457.18 L543.00,457.13 L543.30,457.09 L543.60,457.03 L543.90,456.97 L544.20,456.91 L544.50,456.85 L544.80,456.78 L545.10,456.71 L545.40,456.64 L545.70,456.56 L546.00,456.49 L546.30,456.41 L546.60,456.34 L546.90,456.26 L547.20,456.19 L547.50,456.12 L547.80,456.05 L548.10,455.98 L548.40,455.91 L548.70,455.84 L549.00,455.76 L549.30,455.69 L549.60,455.61 L549.90,455.53 L550.20,455.45 L550.50,455.37 L550.80,455.29 L551.10,455.20 L551.40,455.12 L551.70,455.03 L552.00,454.94 L552.30,454.85 L552.60,454.76 L552.90,454.67 L553.20,454.58 L553.50,454.49 L553.80,454.39 L554.10,454.30 L554.40,454.21 L554.70,454.11 L555.00,454.02 L555.30,453.92 L555.60,453.83 L555.90,453.73 L556.20,453.64 L556.50,453.54 L556.80,453.44 L557.10,453.35 L557.40,453.26 L557.70,453.16 L558.00,453.07 L558.30,452.97 L558.60,452.88 L558.90,452.78 L559.20,452.68 L559.50,452.58 L559.80,452.48 L560.10,452.37 L560.40,452.27 L560.70,452.16 L561.00,452.06 L561.30,451.95 L561.60,451.85 L561.90,451.74 L562.20,451.63 L562.50,451.53 L562.80,451.42 L563.10,451.32 L563.40,451.22 L563.70,451.12 L564.00,451.02 L564.30,450.92 L564.60,450.82 L564.90,450.72 L565.20,450.63 L565.50,450.54 L565.80,450.45 L566.10,450.36 L566.40,450.28 L566.70,450.20 L567.00,450.12 L567.30,450.04 L567.60,449.96 L567.90,449.88 L568.20,449.80 L568.50,449.72 L568.80,449.64 L569.10,449.57 L569.40,449.49 L569.70,449.42 L570.00,449.35 L570.30,449.29 L570.60,449.23 L570.90,449.17 L571.20,449.12 L571.50,449.07 L571.80,449.03 L572.10,448.99 L572.40,448.95 L572.70,448.92 L573.00,448.88 L573.30,448.84 L573.60,448.81 L573.90,448.78 L574.20,448.75 L574.50,448.72 L574.80,448.69 L575.10,448.67 L575.40,448.65 L575.70,448.63 L576.00,448.62 L576.30,448.61 L576.60,448.60 L576.90,448.60 L577.20,448.60 L577.50,448.61 L577.80,448.62 L578.10,448.63 L578.40,448.65 L578.70,448.67 L579.00,448.69 L579.30,448.72 L579.60,448.74 L579.90,448.77 L580.20,448.80 L580.50,448.83 L580.80,448.87 L581.10,448.90 L581.40,448.93 L581.70,448.97 L582.00,449.00 L582.30,449.04 L582.60,449.08 L582.90,449.12 L583.20,449.18 L583.50,449.23 L583.80,449.29 L584.10,449.35 L584.40,449.42 L584.70,449.48 L585.00,449.55 L585.30,449.63 L585.60,449.70 L585.90,449.77 L586.20,449.85 L586.50,449.94 L586.80,450.03 L587.10,450.12 L587.40,450.22 L587.70,450.33 L588.00,450.44 L588.30,450.55 L588.60,450.67 L588.90,450.79 L589.20,450.91 L589.50,451.03 L589.80,451.16 L590.10,451.29 L590.40,451.41 L590.70,451.54 L591.00,451.67 L591.30,451.80 L591.60,451.92 L591.90,452.05 L592.20,452.17 L592.50,452.29 L592.80,452.41 L593.10,452.52 L593.40,452.63 L593.70,452.73 L594.00,452.84 L594.30,452.94 L594.60,453.05 L594.90,453.15 L595.20,453.25 L595.50,453.36 L595.80,453.46 L596.10,453.56 L596.40,453.66 L596.70,453.76 L597.00,453.86 L597.30,453.96 L597.60,454.06 L597.90,454.15 L598.20,454.25 L598.50,454.35 L598.80,454.44 L599.10,454.54 L599.40,454.63 L599.70,454.72 L600.00,454.81 L600.30,454.90 L600.60,454.99 L600.90,455.08 L601.20,455.17 L601.50,455.26 L601.80,455.34 L602.10,455.43 L602.40,455.51 L602.70,455.59 L603.00,455.67 L603.30,455.75 L603.60,455.83 L603.90,455.91 L604.20,455.99 L604.50,456.06 L604.80,456.14 L605.10,456.21 L605.40,456.28 L605.70,456.36 L606.00,456.43 L606.30,456.50 L606.60,456.57 L606.90,456.65 L607.20,456.72 L607.50,456.79 L607.80,456.86 L608.10,456.93 L608.40,457.01 L608.70,457.08 L609.00,457.15 L609.30,457.23 L609.60,457.30 L609.90,457.37 L610.20,457.45 L610.50,457.53 L610.80,457.60 L611.10,457.68 L611.40,457.77 L611.70,457.85 L612.00,457.94 L612.30,458.03 L612.60,458.11 L612.90,458.20 L613.20,458.29 L613.50,458.37 L613.80,458.46 L614.10,458.54 L614.40,458.62 L614.70,458.70 L615.00,458.78 L615.30,458.86 L615.60,458.93 L615.90,458.99 L616.20,459.06 L616.50,459.11 L616.80,459.17 L617.10,459.22 L617.40,459.26 L617.70,459.31 L618.00,459.35 L618.30,459.39 L618.60,459.43 L618.90,459.47 L619.20,459.51 L619.50,459.55 L619.80,459.58 L620.10,459.62 L620.40,459.65 L620.70,459.68 L621.00,459.72 L621.30,459.75 L621.60,459.78 L621.90,459.81 L622.20,459.84 L622.50,459.87 L622.80,459.89 L623.10,459.92 L623.40,459.95 L623.70,459.98 L624.00,460.00 L624.30,460.03 L624.60,460.05 L624.90,460.08 L625.20,460.10 L625.50,460.12 L625.80,460.15 L626.10,460.17 L626.40,460.19 L626.70,460.22 L627.00,460.24 L627.30,460.26 L627.60,460.29 L627.90,460.31 L628.20,460.33 L628.50,460.35 L628.80,460.37 L629.10,460.39 L629.40,460.42 L629.70,460.44 L630.00,460.46 L630.30,460.48 L630.60,460.50 L630.90,460.52 L631.20,460.54 L631.50,460.56 L631.80,460.57 L632.10,460.59 L632.40,460.61 L632.70,460.63 L633.00,460.65 L633.30,460.67 L633.60,460.68 L633.90,460.70 L634.20,460.72 L634.50,460.74 L634.80,460.75 L635.10,460.77 L635.40,460.78 L635.70,460.80 L636.00,460.82 L636.30,460.83 L636.60,460.85 L636.90,460.86 L637.20,460.88 L637.50,460.89 L637.80,460.90 L638.10,460.92 L638.40,460.93 L638.70,460.95 L639.00,460.96 L639.30,460.97 L639.60,460.98 L639.90,461.00 L640.20,461.01 L640.50,461.02 L640.80,461.03 L641.10,461.04 L641.40,461.06 L641.70,461.07 L642.00,461.08 L642.30,461.09 L642.60,461.10 L642.90,461.11 L643.20,461.13 L643.50,461.14 L643.80,461.15 L644.10,461.16 L644.40,461.17 L644.70,461.18 L645.00,461.19 L645.30,461.21 L645.60,461.22 L645.90,461.23 L646.20,461.24 L646.50,461.25 L646.80,461.26 L647.10,461.27 L647.40,461.28 L647.70,461.29 L648.00,461.30 L648.30,461.31 L648.60,461.32 L648.90,461.33 L649.20,461.34 L649.50,461.35 L649.80,461.36 L650.10,461.37 L650.40,461.38 L650.70,461.39 L651.00,461.40 L651.30,461.41 L651.60,461.41 L651.90,461.42 L652.20,461.43 L652.50,461.44 L652.80,461.45 L653.10,461.46 L653.40,461.46 L653.70,461.47 L654.00,461.48 L654.30,461.49 L654.60,461.49 L654.90,461.50 L655.20,461.51 L655.50,461.52 L655.80,461.52 L656.10,461.53 L656.40,461.53 L656.70,461.54 L657.00,461.55 L657.30,461.55 L657.60,461.56 L657.90,461.56 L658.20,461.57 L658.50,461.57 L658.80,461.58 L659.10,461.58 L659.40,461.59 L659.70,461.59 L660.00,461.59 L660.30,461.60 L660.60,461.60" fill="none" stroke="#0a0ac8" stroke-width="2.70" stroke-linejoin="round" stroke-linecap="round"/>
<path d="M375.00,478.61 L375.30,478.91 L375.60,479.09 L375.90,478.31 L376.20,478.58 L376.50,479.15 L376.80,479.77 L377.10,479.74 L377.40,479.18 L377.70,479.59 L378.00,478.49 L378.30,478.64 L378.60,479.16 L378.90,479.15 L379.20,477.99 L379.50,479.33 L379.80,478.32 L380.10,478.69 L380.40,478.16 L380.70,478.56 L381.00,479.26 L381.30,478.08 L381.60,478.41 L381.90,478.72 L382.20,479.01 L382.50,479.57 L382.80,478.77 L383.10,479.23 L383.40,477.92 L383.70,478.43 L384.00,477.50 L384.30,479.26 L384.60,478.39 L384.90,478.98 L385.20,478.14 L385.50,478.12 L385.80,478.16 L386.10,478.30 L386.40,478.50 L386.70,477.78 L387.00,478.68 L387.30,478.91 L387.60,477.72 L387.90,477.84 L388.20,478.04 L388.50,478.15 L388.80,479.46 L389.10,478.96 L389.40,477.95 L389.70,479.94 L390.00,478.97 L390.30,477.93 L390.60,477.72 L390.90,478.75 L391.20,477.71 L391.50,478.62 L391.80,478.97 L392.10,478.10 L392.40,478.15 L392.70,478.09 L393.00,479.16 L393.30,478.82 L393.60,478.74 L393.90,478.91 L394.20,478.46 L394.50,478.14 L394.80,478.61 L395.10,478.90 L395.40,478.36 L395.70,478.32 L396.00,477.94 L396.30,479.10 L396.60,478.78 L396.90,478.49 L397.20,478.47 L397.50,478.55 L397.80,478.39 L398.10,478.83 L398.40,478.42 L398.70,478.69 L399.00,478.32 L399.30,477.98 L399.60,478.82 L399.90,478.82 L400.20,478.98 L400.50,477.98 L400.80,477.84 L401.10,477.19 L401.40,478.09 L401.70,477.59 L402.00,478.53 L402.30,477.27 L402.60,478.24 L402.90,477.05 L403.20,477.51 L403.50,478.09 L403.80,477.11 L404.10,477.42 L404.40,477.46 L404.70,476.31 L405.00,477.99 L405.30,476.06 L405.60,476.46 L405.90,476.58 L406.20,476.56 L406.50,476.74 L406.80,476.71 L407.10,475.32 L407.40,475.79 L407.70,474.72 L408.00,475.79 L408.30,475.21 L408.60,475.61 L408.90,474.46 L409.20,474.64 L409.50,475.34 L409.80,475.34 L410.10,474.71 L410.40,474.53 L410.70,474.36 L411.00,474.23 L411.30,474.10 L411.60,475.56 L411.90,474.51 L412.20,473.23 L412.50,473.68 L412.80,473.25 L413.10,473.71 L413.40,474.56 L413.70,473.97 L414.00,473.28 L414.30,473.26 L414.60,472.84 L414.90,472.24 L415.20,472.29 L415.50,472.99 L415.80,471.48 L416.10,472.75 L416.40,473.10 L416.70,471.79 L417.00,472.12 L417.30,471.44 L417.60,470.98 L417.90,469.85 L418.20,470.23 L418.50,471.08 L418.80,469.99 L419.10,469.38 L419.40,469.86 L419.70,468.52 L420.00,467.00 L420.30,467.10 L420.60,467.47 L420.90,466.60 L421.20,465.13 L421.50,464.95 L421.80,463.69 L422.10,464.16 L422.40,462.42 L422.70,461.67 L423.00,460.24 L423.30,459.38 L423.60,457.90 L423.90,456.24 L424.20,454.47 L424.50,452.90 L424.80,451.05 L425.10,449.22 L425.40,446.66 L425.70,444.41" fill="none" stroke="#111111" stroke-width="1.40" stroke-linejoin="round" stroke-linecap="round"/>
<path d="M466.50,371.29 L466.80,373.03 L467.10,375.31 L467.40,376.95 L467.70,378.76" fill="none" stroke="#111111" stroke-width="1.40" stroke-linejoin="round" stroke-linecap="round"/>
<path d="M469.50,389.30 L469.80,391.60 L470.10,392.22 L470.40,394.43" fill="none" stroke="#111111" stroke-width="1.40" stroke-linejoin="round" stroke-linecap="round"/>
<path d="M471.30,397.31 L471.60,398.36 L471.90,399.39 L472.20,400.65 L472.50,400.83 L472.80,402.21 L473.10,402.71" fill="none" stroke="#111111" stroke-width="1.40" stroke-linejoin="round" stroke-linecap="round"/>
<path d="M474.30,405.78 L474.60,406.70 L474.90,407.12 L475.20,408.51" fill="none" stroke="#111111" stroke-width="1.40" stroke-linejoin="round" stroke-linecap="round"/>
<path d="M475.80,409.48 L476.10,410.63" fill="none" stroke="#111111" stroke-width="1.40" stroke-linejoin="round" stroke-linecap="round"/>
<path d="M476.70,412.36 L477.00,413.04 L477.30,413.40 L477.60,414.27 L477.90,415.03 L478.20,415.86 L478.50,417.13 L478.80,417.61" fill="none" stroke="#111111" stroke-width="1.40" stroke-linejoin="round" stroke-linecap="round"/>
<path d="M480.90,422.37 L481.20,423.60 L481.50,423.80 L481.80,425.81 L482.10,425.15 L482.40,426.07 L482.70,426.78 L483.00,426.97 L483.30,428.03 L483.60,428.51 L483.90,428.98" fill="none" stroke="#111111" stroke-width="1.40" stroke-linejoin="round" stroke-linecap="round"/>
<path d="M484.80,430.98 L485.10,431.22 L485.40,431.95 L485.70,432.49 L486.00,432.96 L486.30,433.36 L486.60,434.09 L486.90,434.66 L487.20,435.35 L487.50,435.47" fill="none" stroke="#111111" stroke-width="1.40" stroke-linejoin="round" stroke-linecap="round"/>
<path d="M512.10,449.43 L512.40,448.30" fill="none" stroke="#111111" stroke-width="1.40" stroke-linejoin="round" stroke-linecap="round"/>
<path d="M516.00,450.84 L516.30,450.78" fill="none" stroke="#111111" stroke-width="1.40" stroke-linejoin="round" stroke-linecap="round"/>
<path d="M516.90,450.29 L517.20,450.08 L517.50,451.37 L517.80,450.92" fill="none" stroke="#111111" stroke-width="1.40" stroke-linejoin="round" stroke-linecap="round"/>
<path d="M518.40,451.27 L518.70,451.89" fill="none" stroke="#111111" stroke-width="1.40" stroke-linejoin="round" stroke-linecap="round"/>
<path d="M523.20,452.00 L523.50,453.40" fill="none" stroke="#111111" stroke-width="1.40" stroke-linejoin="round" stroke-linecap="round"/>
<path d="M527.40,453.72 L527.70,454.35 L528.00,454.45 L528.30,454.46 L528.60,454.72 L528.90,454.97" fill="none" stroke="#111111" stroke-width="1.40" stroke-linejoin="round" stroke-linecap="round"/>
<path d="M530.70,455.10 L531.00,454.38 L531.30,454.41 L531.60,455.45" fill="none" stroke="#111111" stroke-width="1.40" stroke-linejoin="round" stroke-linecap="round"/>
<path d="M533.40,455.55 L533.70,455.06" fill="none" stroke="#111111" stroke-width="1.40" stroke-linejoin="round" stroke-linecap="round"/>
<path d="M534.90,455.66 L535.20,455.92 L535.50,455.68 L535.80,455.40 L536.10,455.91 L536.40,455.61 L536.70,455.89 L537.00,455.54 L537.30,455.78 L537.60,455.97" fill="none" stroke="#111111" stroke-width="1.40" stroke-linejoin="round" stroke-linecap="round"/>
<path d="M539.10,456.02 L539.40,455.83" fill="none" stroke="#111111" stroke-width="1.40" stroke-linejoin="round" stroke-linecap="round"/>
<path d="M540.00,456.00 L540.30,456.27 L540.60,455.98" fill="none" stroke="#111111" stroke-width="1.40" stroke-linejoin="round" stroke-linecap="round"/>
<path d="M542.70,455.94 L543.00,454.62" fill="none" stroke="#111111" stroke-width="1.40" stroke-linejoin="round" stroke-linecap="round"/>
<path d="M545.10,455.27 L545.40,454.87" fill="none" stroke="#111111" stroke-width="1.40" stroke-linejoin="round" stroke-linecap="round"/>
<path d="M546.30,454.58 L546.60,454.31" fill="none" stroke="#111111" stroke-width="1.40" stroke-linejoin="round" stroke-linecap="round"/>
<path d="M547.50,455.04 L547.80,453.84" fill="none" stroke="#111111" stroke-width="1.40" stroke-linejoin="round" stroke-linecap="round"/>
<path d="M583.20,447.82 L583.50,447.98" fill="none" stroke="#111111" stroke-width="1.40" stroke-linejoin="round" stroke-linecap="round"/>
<path d="M585.30,448.22 L585.60,448.28" fill="none" stroke="#111111" stroke-width="1.40" stroke-linejoin="round" stroke-linecap="round"/>
<path d="M588.00,448.90 L588.30,449.41" fill="none" stroke="#111111" stroke-width="1.40" stroke-linejoin="round" stroke-linecap="round"/>
<path d="M589.80,449.40 L590.10,450.17" fill="none" stroke="#111111" stroke-width="1.40" stroke-linejoin="round" stroke-linecap="round"/>
<path d="M593.10,451.01 L593.40,451.53 L593.70,451.39 L594.00,451.39 L594.30,450.88" fill="none" stroke="#111111" stroke-width="1.40" stroke-linejoin="round" stroke-linecap="round"/>
<path d="M595.20,451.93 L595.50,452.13" fill="none" stroke="#111111" stroke-width="1.40" stroke-linejoin="round" stroke-linecap="round"/>
<path d="M597.30,452.61 L597.60,452.47" fill="none" stroke="#111111" stroke-width="1.40" stroke-linejoin="round" stroke-linecap="round"/>
<path d="M598.20,452.12 L598.50,452.67 L598.80,452.02" fill="none" stroke="#111111" stroke-width="1.40" stroke-linejoin="round" stroke-linecap="round"/>
<path d="M599.70,453.13 L600.00,453.08" fill="none" stroke="#111111" stroke-width="1.40" stroke-linejoin="round" stroke-linecap="round"/>
<path d="M600.60,453.21 L600.90,454.01" fill="none" stroke="#111111" stroke-width="1.40" stroke-linejoin="round" stroke-linecap="round"/>
<path d="M601.50,453.72 L601.80,453.49" fill="none" stroke="#111111" stroke-width="1.40" stroke-linejoin="round" stroke-linecap="round"/>
<path d="M603.60,454.07 L603.90,454.78 L604.20,454.76 L604.50,454.54 L604.80,454.98" fill="none" stroke="#111111" stroke-width="1.40" stroke-linejoin="round" stroke-linecap="round"/>
<path d="M607.50,455.41 L607.80,455.49" fill="none" stroke="#111111" stroke-width="1.40" stroke-linejoin="round" stroke-linecap="round"/>
<path d="M609.60,455.68 L609.90,456.05 L610.20,456.37 L610.50,456.28 L610.80,455.63" fill="none" stroke="#111111" stroke-width="1.40" stroke-linejoin="round" stroke-linecap="round"/>
<path d="M614.10,456.86 L614.40,457.26" fill="none" stroke="#111111" stroke-width="1.40" stroke-linejoin="round" stroke-linecap="round"/>
<rect x="36.90" y="12.10" width="288.90" height="214.50" fill="none" stroke="#3a3a3a" stroke-width="1.4"/>
<line x1="36.90" y1="226.60" x2="36.90" y2="222.00" stroke="#3a3a3a" stroke-width="1.3"/>
<text x="36.90" y="244.10" font-size="14.5" text-anchor="middle" fill="#111" stroke="#111" stroke-width="0.2">10</text>
<line x1="78.17" y1="226.60" x2="78.17" y2="222.00" stroke="#3a3a3a" stroke-width="1.3"/>
<text x="78.17" y="244.10" font-size="14.5" text-anchor="middle" fill="#111" stroke="#111" stroke-width="0.2">20</text>
<line x1="119.44" y1="226.60" x2="119.44" y2="222.00" stroke="#3a3a3a" stroke-width="1.3"/>
<text x="119.44" y="244.10" font-size="14.5" text-anchor="middle" fill="#111" stroke="#111" stroke-width="0.2">30</text>
<line x1="160.71" y1="226.60" x2="160.71" y2="222.00" stroke="#3a3a3a" stroke-width="1.3"/>
<text x="160.71" y="244.10" font-size="14.5" text-anchor="middle" fill="#111" stroke="#111" stroke-width="0.2">40</text>
<line x1="201.99" y1="226.60" x2="201.99" y2="222.00" stroke="#3a3a3a" stroke-width="1.3"/>
<text x="201.99" y="244.10" font-size="14.5" text-anchor="middle" fill="#111" stroke="#111" stroke-width="0.2">50</text>
<line x1="243.26" y1="226.60" x2="243.26" y2="222.00" stroke="#3a3a3a" stroke-width="1.3"/>
<text x="243.26" y="244.10" font-size="14.5" text-anchor="middle" fill="#111" stroke="#111" stroke-width="0.2">60</text>
<line x1="284.53" y1="226.60" x2="284.53" y2="222.00" stroke="#3a3a3a" stroke-width="1.3"/>
<text x="284.53" y="244.10" font-size="14.5" text-anchor="middle" fill="#111" stroke="#111" stroke-width="0.2">70</text>
<line x1="325.80" y1="226.60" x2="325.80" y2="222.00" stroke="#3a3a3a" stroke-width="1.3"/>
<text x="325.80" y="244.10" font-size="14.5" text-anchor="middle" fill="#111" stroke="#111" stroke-width="0.2">80</text>
<line x1="57.54" y1="226.60" x2="57.54" y2="224.00" stroke="#3a3a3a" stroke-width="1.3"/>
<line x1="98.81" y1="226.60" x2="98.81" y2="224.00" stroke="#3a3a3a" stroke-width="1.3"/>
<line x1="140.08" y1="226.60" x2="140.08" y2="224.00" stroke="#3a3a3a" stroke-width="1.3"/>
<line x1="181.35" y1="226.60" x2="181.35" y2="224.00" stroke="#3a3a3a" stroke-width="1.3"/>
<line x1="222.62" y1="226.60" x2="222.62" y2="224.00" stroke="#3a3a3a" stroke-width="1.3"/>
<line x1="263.89" y1="226.60" x2="263.89" y2="224.00" stroke="#3a3a3a" stroke-width="1.3"/>
<line x1="305.16" y1="226.60" x2="305.16" y2="224.00" stroke="#3a3a3a" stroke-width="1.3"/>
<rect x="374.30" y="13.60" width="288.00" height="213.60" fill="none" stroke="#3a3a3a" stroke-width="1.4"/>
<line x1="389.87" y1="227.20" x2="389.87" y2="222.60" stroke="#3a3a3a" stroke-width="1.3"/>
<text x="389.87" y="244.80" font-size="14.5" text-anchor="middle" fill="#111" stroke="#111" stroke-width="0.2">930</text>
<line x1="428.79" y1="227.20" x2="428.79" y2="222.60" stroke="#3a3a3a" stroke-width="1.3"/>
<text x="428.79" y="244.80" font-size="14.5" text-anchor="middle" fill="#111" stroke="#111" stroke-width="0.2">935</text>
<line x1="467.71" y1="227.20" x2="467.71" y2="222.60" stroke="#3a3a3a" stroke-width="1.3"/>
<text x="467.71" y="244.80" font-size="14.5" text-anchor="middle" fill="#111" stroke="#111" stroke-width="0.2">940</text>
<line x1="506.62" y1="227.20" x2="506.62" y2="222.60" stroke="#3a3a3a" stroke-width="1.3"/>
<text x="506.62" y="244.80" font-size="14.5" text-anchor="middle" fill="#111" stroke="#111" stroke-width="0.2">945</text>
<line x1="545.54" y1="227.20" x2="545.54" y2="222.60" stroke="#3a3a3a" stroke-width="1.3"/>
<text x="545.54" y="244.80" font-size="14.5" text-anchor="middle" fill="#111" stroke="#111" stroke-width="0.2">950</text>
<line x1="584.46" y1="227.20" x2="584.46" y2="222.60" stroke="#3a3a3a" stroke-width="1.3"/>
<text x="584.46" y="244.80" font-size="14.5" text-anchor="middle" fill="#111" stroke="#111" stroke-width="0.2">955</text>
<line x1="623.38" y1="227.20" x2="623.38" y2="222.60" stroke="#3a3a3a" stroke-width="1.3"/>
<text x="623.38" y="244.80" font-size="14.5" text-anchor="middle" fill="#111" stroke="#111" stroke-width="0.2">960</text>
<line x1="662.30" y1="227.20" x2="662.30" y2="222.60" stroke="#3a3a3a" stroke-width="1.3"/>
<text x="662.30" y="244.80" font-size="14.5" text-anchor="middle" fill="#111" stroke="#111" stroke-width="0.2">965</text>
<line x1="409.33" y1="227.20" x2="409.33" y2="224.60" stroke="#3a3a3a" stroke-width="1.3"/>
<line x1="448.25" y1="227.20" x2="448.25" y2="224.60" stroke="#3a3a3a" stroke-width="1.3"/>
<line x1="487.16" y1="227.20" x2="487.16" y2="224.60" stroke="#3a3a3a" stroke-width="1.3"/>
<line x1="526.08" y1="227.20" x2="526.08" y2="224.60" stroke="#3a3a3a" stroke-width="1.3"/>
<line x1="565.00" y1="227.20" x2="565.00" y2="224.60" stroke="#3a3a3a" stroke-width="1.3"/>
<line x1="603.92" y1="227.20" x2="603.92" y2="224.60" stroke="#3a3a3a" stroke-width="1.3"/>
<line x1="642.84" y1="227.20" x2="642.84" y2="224.60" stroke="#3a3a3a" stroke-width="1.3"/>
<rect x="37.10" y="280.90" width="287.50" height="213.40" fill="none" stroke="#3a3a3a" stroke-width="1.4"/>
<line x1="94.60" y1="494.30" x2="94.60" y2="489.70" stroke="#3a3a3a" stroke-width="1.3"/>
<text x="94.60" y="512.10" font-size="14.5" text-anchor="middle" fill="#111" stroke="#111" stroke-width="0.2">780</text>
<line x1="166.47" y1="494.30" x2="166.47" y2="489.70" stroke="#3a3a3a" stroke-width="1.3"/>
<text x="166.47" y="512.10" font-size="14.5" text-anchor="middle" fill="#111" stroke="#111" stroke-width="0.2">790</text>
<line x1="238.35" y1="494.30" x2="238.35" y2="489.70" stroke="#3a3a3a" stroke-width="1.3"/>
<text x="238.35" y="512.10" font-size="14.5" text-anchor="middle" fill="#111" stroke="#111" stroke-width="0.2">800</text>
<line x1="310.23" y1="494.30" x2="310.23" y2="489.70" stroke="#3a3a3a" stroke-width="1.3"/>
<text x="310.23" y="512.10" font-size="14.5" text-anchor="middle" fill="#111" stroke="#111" stroke-width="0.2">810</text>
<line x1="58.66" y1="494.30" x2="58.66" y2="491.70" stroke="#3a3a3a" stroke-width="1.3"/>
<line x1="130.54" y1="494.30" x2="130.54" y2="491.70" stroke="#3a3a3a" stroke-width="1.3"/>
<line x1="202.41" y1="494.30" x2="202.41" y2="491.70" stroke="#3a3a3a" stroke-width="1.3"/>
<line x1="274.29" y1="494.30" x2="274.29" y2="491.70" stroke="#3a3a3a" stroke-width="1.3"/>
<rect x="374.30" y="281.40" width="286.90" height="212.90" fill="none" stroke="#3a3a3a" stroke-width="1.4"/>
<line x1="374.30" y1="494.30" x2="374.30" y2="489.70" stroke="#3a3a3a" stroke-width="1.3"/>
<text x="374.30" y="512.10" font-size="14.5" text-anchor="middle" fill="#111" stroke="#111" stroke-width="0.2">158</text>
<line x1="412.55" y1="494.30" x2="412.55" y2="489.70" stroke="#3a3a3a" stroke-width="1.3"/>
<text x="412.55" y="512.10" font-size="14.5" text-anchor="middle" fill="#111" stroke="#111" stroke-width="0.2">160</text>
<line x1="450.81" y1="494.30" x2="450.81" y2="489.70" stroke="#3a3a3a" stroke-width="1.3"/>
<text x="450.81" y="512.10" font-size="14.5" text-anchor="middle" fill="#111" stroke="#111" stroke-width="0.2">162</text>
<line x1="489.06" y1="494.30" x2="489.06" y2="489.70" stroke="#3a3a3a" stroke-width="1.3"/>
<text x="489.06" y="512.10" font-size="14.5" text-anchor="middle" fill="#111" stroke="#111" stroke-width="0.2">164</text>
<line x1="527.31" y1="494.30" x2="527.31" y2="489.70" stroke="#3a3a3a" stroke-width="1.3"/>
<text x="527.31" y="512.10" font-size="14.5" text-anchor="middle" fill="#111" stroke="#111" stroke-width="0.2">166</text>
<line x1="565.57" y1="494.30" x2="565.57" y2="489.70" stroke="#3a3a3a" stroke-width="1.3"/>
<text x="565.57" y="512.10" font-size="14.5" text-anchor="middle" fill="#111" stroke="#111" stroke-width="0.2">168</text>
<line x1="603.82" y1="494.30" x2="603.82" y2="489.70" stroke="#3a3a3a" stroke-width="1.3"/>
<text x="603.82" y="512.10" font-size="14.5" text-anchor="middle" fill="#111" stroke="#111" stroke-width="0.2">170</text>
<line x1="642.07" y1="494.30" x2="642.07" y2="489.70" stroke="#3a3a3a" stroke-width="1.3"/>
<text x="642.07" y="512.10" font-size="14.5" text-anchor="middle" fill="#111" stroke="#111" stroke-width="0.2">172</text>
<line x1="393.43" y1="494.30" x2="393.43" y2="491.70" stroke="#3a3a3a" stroke-width="1.3"/>
<line x1="431.68" y1="494.30" x2="431.68" y2="491.70" stroke="#3a3a3a" stroke-width="1.3"/>
<line x1="469.93" y1="494.30" x2="469.93" y2="491.70" stroke="#3a3a3a" stroke-width="1.3"/>
<line x1="508.19" y1="494.30" x2="508.19" y2="491.70" stroke="#3a3a3a" stroke-width="1.3"/>
<line x1="546.44" y1="494.30" x2="546.44" y2="491.70" stroke="#3a3a3a" stroke-width="1.3"/>
<line x1="584.69" y1="494.30" x2="584.69" y2="491.70" stroke="#3a3a3a" stroke-width="1.3"/>
<line x1="622.95" y1="494.30" x2="622.95" y2="491.70" stroke="#3a3a3a" stroke-width="1.3"/>
<text transform="translate(0.50 17.10) scale(1.0 0.935)" x="0" y="0" font-size="22.6" font-weight="bold" stroke="#000" stroke-width="0.9" letter-spacing="1.5">(a)</text>
<text transform="translate(336.90 16.90) scale(1.0 0.935)" x="0" y="0" font-size="22.6" font-weight="bold" stroke="#000" stroke-width="0.9" letter-spacing="1.5">(b)</text>
<text transform="translate(0.80 285.80) scale(1.0 0.935)" x="0" y="0" font-size="22.6" font-weight="bold" stroke="#000" stroke-width="0.9" letter-spacing="1.5">(c)</text>
<text transform="translate(333.20 286.10) scale(1.0 0.935)" x="0" y="0" font-size="22.6" font-weight="bold" stroke="#000" stroke-width="0.9" letter-spacing="1.5">(d)</text>
<text x="186.80" y="263.30" font-size="14.50" font-weight="bold" text-anchor="middle" fill="#000">2-Theta (degree)</text>
<text x="518.00" y="269.00" font-size="14.50" font-weight="bold" text-anchor="middle" fill="#000">Binding Energy (eV)</text>
<text x="180.90" y="536.30" font-size="14.50" font-weight="bold" text-anchor="middle" fill="#000">Binding Energy (eV)</text>
<text x="517.80" y="536.30" font-size="14.50" font-weight="bold" text-anchor="middle" fill="#000">Binding Energy (eV)</text>
<text transform="translate(23.90 163.00) rotate(-90)" x="0" y="0" font-size="14.5" font-weight="bold">Intensity (a.u.)</text>
<text transform="translate(361.00 178.30) rotate(-90)" x="0" y="0" font-size="14.5" font-weight="bold">Intensity (a.u.)</text>
<text transform="translate(23.90 445.90) rotate(-90)" x="0" y="0" font-size="14.5" font-weight="bold">Intensity (a.u.)</text>
<text transform="translate(361.00 444.20) rotate(-90)" x="0" y="0" font-size="14.5" font-weight="bold">Intensity (a.u.)</text>
<text x="82.00" y="38.40" font-size="9.80" font-weight="bold" text-anchor="start" fill="#dc1e28" stroke="#dc1e28" stroke-width="0.3">carbon</text>
<text transform="translate(129.30 35.55) rotate(-90)" x="0" y="0" font-size="10.20" font-weight="bold" fill="#dc1e28" stroke="#dc1e28" stroke-width="0.3" text-anchor="middle">(113)</text>
<text transform="translate(157.90 53.10) rotate(-90)" x="0" y="0" font-size="10.20" font-weight="bold" fill="#dc1e28" stroke="#dc1e28" stroke-width="0.3" text-anchor="middle">(004)</text>
<text transform="translate(207.50 62.60) rotate(-90)" x="0" y="0" font-size="10.20" font-weight="bold" fill="#dc1e28" stroke="#dc1e28" stroke-width="0.3" text-anchor="middle">(115)</text>
<text transform="translate(226.65 57.30) rotate(-90)" x="0" y="0" font-size="10.20" font-weight="bold" fill="#dc1e28" stroke="#dc1e28" stroke-width="0.3" text-anchor="middle">(044)</text>
<text x="83.20" y="151.20" font-size="9.80" font-weight="bold" text-anchor="start" fill="#111" stroke="#111" stroke-width="0.3">carbon</text>
<text transform="translate(76.55 162.00) rotate(-90)" x="0" y="0" font-size="10.20" font-weight="bold" fill="#111" stroke="#111" stroke-width="0.3" text-anchor="middle">(111)</text>
<text transform="translate(128.15 153.10) rotate(-90)" x="0" y="0" font-size="10.20" font-weight="bold" fill="#111" stroke="#111" stroke-width="0.3" text-anchor="middle">(220)</text>
<text transform="translate(150.95 141.65) rotate(-90)" x="0" y="0" font-size="10.20" font-weight="bold" fill="#111" stroke="#111" stroke-width="0.3" text-anchor="middle">(311)</text>
<text transform="translate(184.50 160.20) rotate(-90)" x="0" y="0" font-size="10.20" font-weight="bold" fill="#111" stroke="#111" stroke-width="0.3" text-anchor="middle">(400)</text>
<text transform="translate(244.80 165.50) rotate(-90)" x="0" y="0" font-size="10.20" font-weight="bold" fill="#111" stroke="#111" stroke-width="0.3" text-anchor="middle">(511)</text>
<text transform="translate(267.75 164.80) rotate(-90)" x="0" y="0" font-size="10.20" font-weight="bold" fill="#111" stroke="#111" stroke-width="0.3" text-anchor="middle">(444)</text>
<line x1="247.5" y1="24.1" x2="270.3" y2="24.1" stroke="#333" stroke-width="1.5"/>
<line x1="247.5" y1="41.6" x2="270.3" y2="41.6" stroke="#d83a3a" stroke-width="1.5"/>
<text x="273.40" y="27.90" font-size="11.60" fill="#111"><tspan dy="0.00">CuCo</tspan><tspan font-size="8.35" dy="3.71">2</tspan><tspan dy="-3.71">O</tspan><tspan font-size="8.35" dy="3.71">4</tspan></text>
<text x="273.40" y="45.40" font-size="11.60" fill="#111"><tspan dy="0.00">CuCo</tspan><tspan font-size="8.35" dy="3.71">2</tspan><tspan dy="-3.71">S</tspan><tspan font-size="8.35" dy="3.71">4</tspan></text>
<text x="382.30" y="53.40" font-size="10.60" font-weight="bold" fill="#111" stroke="#111" stroke-width="0.2">Cu<tspan font-size="8.27" dy="-5.94" dx="0.5">+</tspan></text>
<text x="430.00" y="181.50" font-size="10.60" font-weight="bold" fill="#111" stroke="#111" stroke-width="0.2">Cu<tspan font-size="8.27" dy="-5.94" dx="0.5">2+</tspan></text>
<text x="535.60" y="136.00" font-size="10.60" font-weight="bold" fill="#111" stroke="#111" stroke-width="0.2">Cu<tspan font-size="8.27" dy="-5.94" dx="0.5">+</tspan></text>
<text x="589.30" y="166.50" font-size="10.60" font-weight="bold" fill="#111" stroke="#111" stroke-width="0.2">Cu<tspan font-size="8.27" dy="-5.94" dx="0.5">2+</tspan></text>
<text x="600.00" y="43.20" font-size="10.50" font-weight="bold" text-anchor="start" fill="#000" stroke="#111" stroke-width="0.2">Cu 2p</text>
<text x="53.20" y="338.90" font-size="10.60" font-weight="bold" fill="#111" stroke="#111" stroke-width="0.2">Co<tspan font-size="8.27" dy="-5.94" dx="0.5">3+</tspan></text>
<text x="105.00" y="421.50" font-size="10.60" font-weight="bold" fill="#111" stroke="#111" stroke-width="0.2">Co<tspan font-size="8.27" dy="-5.94" dx="0.5">2+</tspan></text>
<text x="127.00" y="434.00" font-size="10.40" font-weight="bold" text-anchor="start" fill="#000" stroke="#111" stroke-width="0.2">Sat.</text>
<text x="187.50" y="380.10" font-size="10.60" font-weight="bold" fill="#111" stroke="#111" stroke-width="0.2">Co<tspan font-size="8.27" dy="-5.94" dx="0.5">3+</tspan></text>
<text x="209.50" y="410.20" font-size="10.60" font-weight="bold" fill="#111" stroke="#111" stroke-width="0.2">Co<tspan font-size="8.27" dy="-5.94" dx="0.5">2+</tspan></text>
<text x="246.50" y="410.50" font-size="10.40" font-weight="bold" text-anchor="start" fill="#000" stroke="#111" stroke-width="0.2">Sat.</text>
<text x="275.00" y="316.80" font-size="10.50" font-weight="bold" text-anchor="start" fill="#000" stroke="#111" stroke-width="0.2">Co 2p</text>
<text x="405.30" y="352.60" font-size="10.60" font-weight="bold" fill="#111" stroke="#111" stroke-width="0.2">S<tspan font-size="8.27" dy="-5.94" dx="0.5">2-</tspan></text>
<text x="475.20" y="362.00" font-size="10.60" font-weight="bold" fill="#111" stroke="#111" stroke-width="0.2">S<tspan font-size="8.27" dy="3.18">2</tspan><tspan font-size="8.27" dy="-9.33" dx="0.2">2-</tspan></text>
<text x="500.40" y="436.30" font-size="10.40" font-weight="bold" text-anchor="start" fill="#000" stroke="#111" stroke-width="0.2">Sat.</text>
<text x="573.90" y="438.90" font-size="10.40" font-weight="bold" text-anchor="start" fill="#000" stroke="#111" stroke-width="0.2">Sat.</text>
<text x="613.80" y="316.00" font-size="10.50" font-weight="bold" text-anchor="start" fill="#000" stroke="#111" stroke-width="0.2">S 2p</text>
</svg>
</body></html>
